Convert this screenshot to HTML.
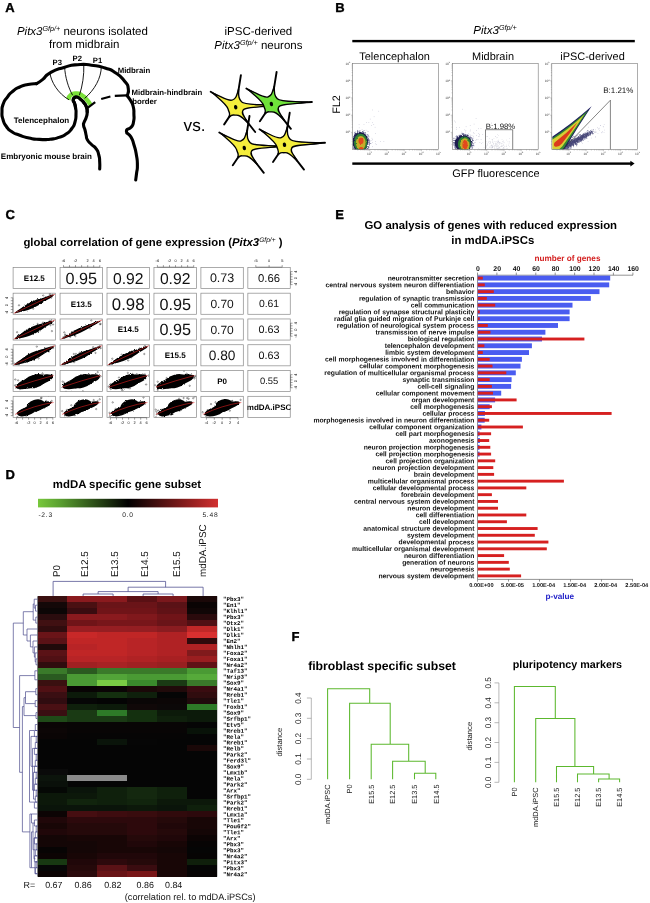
<!DOCTYPE html>
<html lang="en"><head><meta charset="utf-8"><title>Figure</title>
<style>
html,body{margin:0;padding:0;background:#fff;}
body{width:650px;height:903px;overflow:hidden;}
svg{display:block;font-family:"Liberation Sans",sans-serif;text-rendering:geometricPrecision;}
</style></head><body>
<svg width="650" height="903" viewBox="0 0 650 903">
<rect x="0" y="0" width="650" height="903" fill="#fff"/>
<g id="panelA">
<text x="5.30" y="11.90" font-size="13" font-weight="bold" stroke="#000" stroke-width="0.35">A</text>
<text x="82.4" y="35" font-size="11.5" text-anchor="middle"><tspan font-style="italic">Pitx3</tspan><tspan font-style="italic" font-size="7.2" dy="-3.7">Gfp/+</tspan><tspan dy="3.7"> neurons isolated</tspan></text>
<text x="84.20" y="47.80" font-size="11.5" text-anchor="middle">from midbrain</text>
<g fill="none" stroke="#000" stroke-width="3.1" stroke-linecap="round" stroke-linejoin="round">
<path d="M36.5 83.6 C38.5 82.3 37.8 83.3 42.5 79.6 C47.2 75.9 43.3 76.7 50.5 72.6 C57.7 68.5 55.0 70.0 64.0 67.4 C73.0 64.8 68.4 65.4 77.5 64.7 C86.6 64.0 82.2 64.1 91.4 65.2 C100.6 66.3 96.9 65.4 105.0 68.0 C113.1 70.6 109.3 68.6 115.8 73.0 C122.3 77.4 120.4 76.0 124.6 81.2 C128.8 86.4 127.4 83.8 128.3 88.6 C129.2 93.4 127.6 93.3 127.2 95.6 "/>
<path d="M127.2 95.6 C128.3 97.3 128.6 97.0 130.6 100.6 C132.6 104.2 132.1 102.0 133.2 106.5 C134.3 111.0 133.8 109.0 133.9 114.0 C134.0 119.0 134.5 117.2 133.6 121.5 C132.7 125.8 133.7 123.8 131.3 127.0 C128.9 130.2 126.5 127.9 126.4 131.2 C126.3 134.5 128.5 132.4 131.0 137.0 C133.5 141.6 132.2 139.0 134.0 145.0 C135.8 151.0 135.3 148.3 136.4 155.0 C137.5 161.7 137.3 159.0 137.4 165.0 C137.5 171.0 137.2 168.0 136.6 173.0 C136.0 178.0 136.0 177.7 135.7 180.0 "/>
<path d="M36.5 83.6 C33.7 83.9 33.6 83.3 28.0 84.4 C22.4 85.5 24.9 84.6 19.7 87.0 C14.5 89.4 16.7 88.1 12.5 91.5 C8.3 94.9 10.3 93.1 7.2 97.3 C4.1 101.5 4.9 99.2 3.2 104.0 C1.5 108.8 2.1 106.5 2.0 111.7 C1.9 116.9 1.5 114.6 3.0 119.5 C4.5 124.4 3.4 122.4 6.4 126.5 C9.4 130.6 7.6 128.9 12.0 131.8 C16.4 134.7 14.0 133.2 19.7 135.3 C25.4 137.4 22.4 136.6 29.0 138.0 C35.6 139.4 32.4 139.0 39.4 139.4 C46.4 139.8 43.5 139.9 50.0 139.2 C56.5 138.5 53.5 139.2 59.0 137.4 C64.5 135.6 62.2 136.8 66.5 133.8 C70.8 130.8 69.0 132.4 71.8 128.5 C74.6 124.6 73.6 126.8 75.0 122.0 C76.4 117.2 75.8 118.7 76.0 114.0 C76.2 109.3 76.1 111.5 75.6 108.0 C75.1 104.5 75.4 106.1 74.6 103.5 C73.8 100.9 73.3 102.2 73.2 100.3 C73.1 98.4 73.1 98.9 74.4 97.8 C75.7 96.7 75.0 96.5 77.2 97.1 C79.4 97.7 78.6 97.7 80.9 99.6 C83.2 101.5 82.2 100.3 84.0 102.8 C85.8 105.3 85.3 103.9 86.4 107.0 C87.5 110.1 87.3 108.5 87.2 112.0 C87.1 115.5 87.2 114.2 86.2 117.5 C85.2 120.8 85.1 119.3 84.2 122.0 C83.3 124.7 83.3 122.8 83.6 125.5 C83.9 128.2 84.1 126.7 85.0 130.0 C85.9 133.3 85.4 132.2 86.2 135.5 C87.0 138.8 85.7 137.0 87.5 140.0 C89.3 143.0 88.6 141.6 91.5 144.5 C94.4 147.4 93.8 145.3 96.2 148.8 C98.6 152.3 97.6 150.6 98.8 155.0 C100.0 159.4 99.4 157.3 99.7 162.0 C100.0 166.7 99.7 166.7 99.7 169.0 "/>
</g>
<path d="M68.4 99.6 C69.1 98.1 68.0 97.2 70.6 95.2 C73.2 93.2 72.3 93.4 76.2 93.5 C80.1 93.6 78.6 93.4 82.2 95.6 C85.8 97.8 84.2 96.9 87.0 100.0 C89.8 103.1 89.4 103.2 90.6 104.8 " fill="none" stroke="#7be03a" stroke-width="4.4" stroke-linecap="butt"/>
<path d="M75.6 108.0 C75.3 106.5 75.4 106.1 74.6 103.5 C73.8 100.9 73.3 102.2 73.2 100.3 C73.1 98.4 73.1 98.9 74.4 97.8 C75.7 96.7 75.0 96.5 77.2 97.1 C79.4 97.7 78.6 97.7 80.9 99.6 C83.2 101.5 82.2 100.3 84.0 102.8 C85.8 105.3 85.3 103.9 86.4 107.0 C87.5 110.1 86.9 110.3 87.2 112.0 " fill="none" stroke="#000" stroke-width="3.1" stroke-linecap="round"/>
<path d="M87.6 107.8 L95.2 102.2" stroke="#000" stroke-width="2.2" fill="none"/>
<path d="M101.2 98.9 L110.4 96.5 M114.8 95.9 L126.5 95.4" stroke="#000" stroke-width="2.1" fill="none"/>
<g fill="none" stroke="#000" stroke-width="0.9">
<path d="M49.8 72.3 C51 82 58 93.5 69 99.8"/>
<path d="M64.6 66.5 C65 77 68.5 88 72.6 95.2"/>
<path d="M83.8 64.5 C84.2 75 82.5 86 79.4 95.2"/>
<path d="M101.3 66.5 C101.3 78 94.5 90 84.6 98.4"/>
</g>
<text x="52.60" y="65.20" font-size="7.7" font-weight="bold">P3</text>
<text x="72.60" y="61.30" font-size="7.7" font-weight="bold">P2</text>
<text x="92.80" y="63.20" font-size="7.7" font-weight="bold">P1</text>
<text x="117.70" y="72.60" font-size="7.8" font-weight="bold">Midbrain</text>
<text x="131.60" y="94.60" font-size="7.8" font-weight="bold">Midbrain-hindbrain</text>
<text x="132.20" y="103.80" font-size="7.8" font-weight="bold">border</text>
<text x="13.80" y="122.60" font-size="8" font-weight="bold">Telencephalon</text>
<text x="0.80" y="158.60" font-size="8" font-weight="bold">Embryonic mouse brain</text>
<text x="258.40" y="34.80" font-size="11.5" text-anchor="middle">iPSC-derived</text>
<text x="258.4" y="48.6" font-size="11.5" text-anchor="middle"><tspan font-style="italic">Pitx3</tspan><tspan font-style="italic" font-size="7.2" dy="-3.7">Gfp/+</tspan><tspan dy="3.7"> neurons</tspan></text>
<text x="183.60" y="130.80" font-size="17.2">vs.</text>
<path d="M228.2 102.5 L210.7 91.7 M237.3 97.6 L240.9 75.2 M247.8 106.6 L276.2 105.2 M241.5 114.6 L255.2 132.0 M232.2 112.4 L224.2 124.4 " fill="none" stroke="#000" stroke-width="1.9" stroke-linecap="round"/>
<path d="M212.4 92.8 C222.9 97.2 228.6 101.8 232.4 100.0 C236.2 98.3 236.3 96.5 238.6 89.3 C238.5 96.8 238.8 98.8 241.6 101.9 C244.4 105.1 257.1 104.3 272.1 105.4 C257.3 107.9 244.6 106.7 242.9 110.5 C241.1 114.3 244.4 116.0 248.6 123.6 C242.2 117.7 240.2 114.9 236.0 115.1 C231.8 115.3 232.8 113.8 229.0 117.2 C230.7 112.4 228.9 113.0 228.0 108.9 C227.1 104.8 221.0 100.2 212.4 92.8 Z" fill="#f5ee3c" stroke="#000" stroke-width="1.35" stroke-linejoin="round"/>
<ellipse cx="235.7" cy="107.2" rx="1.7" ry="2.3" fill="#000" transform="rotate(-12 235.7 107.2)"/>
<path d="M263.9 99.3 L246.4 88.5 M273.0 94.4 L276.6 72.0 M283.5 103.4 L311.9 102.0 M277.2 111.4 L290.9 128.8 M267.9 109.2 L259.9 121.2 " fill="none" stroke="#000" stroke-width="1.9" stroke-linecap="round"/>
<path d="M248.1 89.6 C258.6 94.0 264.3 98.6 268.1 96.8 C271.9 95.1 272.0 93.3 274.3 86.1 C274.2 93.6 274.5 95.6 277.3 98.7 C280.1 101.9 292.8 101.1 307.8 102.2 C293.0 104.7 280.3 103.5 278.6 107.3 C276.8 111.1 280.1 112.8 284.3 120.4 C277.9 114.5 275.9 111.7 271.7 111.9 C267.5 112.1 268.5 110.6 264.7 114.0 C266.4 109.2 264.6 109.8 263.7 105.7 C262.8 101.6 256.7 97.0 248.1 89.6 Z" fill="#6fe23a" stroke="#000" stroke-width="1.35" stroke-linejoin="round"/>
<ellipse cx="271.4" cy="104.0" rx="1.7" ry="2.3" fill="#000" transform="rotate(-12 271.4 104.0)"/>
<path d="M236.8 143.3 L219.3 132.5 M245.9 138.4 L249.5 116.0 M256.4 147.4 L284.8 146.0 M250.2 155.4 L263.8 172.8 M240.9 153.2 L232.8 165.2 " fill="none" stroke="#000" stroke-width="1.9" stroke-linecap="round"/>
<path d="M221.1 133.6 C231.5 138.0 237.2 142.6 241.0 140.8 C244.8 139.1 244.9 137.3 247.2 130.1 C247.1 137.6 247.4 139.6 250.2 142.7 C253.0 145.9 265.7 145.1 280.8 146.2 C265.9 148.7 253.2 147.5 251.5 151.3 C249.7 155.1 253.0 156.8 257.2 164.4 C250.8 158.5 248.8 155.7 244.6 155.9 C240.4 156.1 241.4 154.6 237.6 158.0 C239.3 153.2 237.5 153.8 236.6 149.7 C235.7 145.6 229.6 141.0 221.1 133.6 Z" fill="#f5ee3c" stroke="#000" stroke-width="1.35" stroke-linejoin="round"/>
<ellipse cx="244.3" cy="148.0" rx="1.7" ry="2.3" fill="#000" transform="rotate(-12 244.3 148.0)"/>
<path d="M277.0 140.2 L259.5 129.3 M286.1 135.2 L289.7 112.8 M296.6 144.2 L325.0 142.8 M290.4 152.2 L304.0 169.6 M281.1 150.0 L273.0 162.0 " fill="none" stroke="#000" stroke-width="1.9" stroke-linecap="round"/>
<path d="M261.2 130.4 C271.7 134.8 277.4 139.4 281.2 137.6 C285.0 135.9 285.1 134.1 287.4 126.9 C287.3 134.4 287.6 136.4 290.4 139.5 C293.2 142.7 305.9 141.9 320.9 143.0 C306.1 145.5 293.4 144.3 291.7 148.1 C289.9 151.9 293.2 153.6 297.4 161.2 C291.0 155.3 289.0 152.5 284.8 152.7 C280.6 152.9 281.6 151.4 277.8 154.8 C279.5 150.0 277.7 150.6 276.8 146.5 C275.9 142.4 269.8 137.8 261.2 130.4 Z" fill="#f5ee3c" stroke="#000" stroke-width="1.35" stroke-linejoin="round"/>
<ellipse cx="284.5" cy="144.8" rx="1.7" ry="2.3" fill="#000" transform="rotate(-12 284.5 144.8)"/>
</g>
<g id="panelB">
<defs><filter id="bl1" x="-30%" y="-30%" width="160%" height="160%"><feTurbulence type="fractalNoise" baseFrequency="0.55" numOctaves="2" seed="3" result="n"/><feDisplacementMap in="SourceGraphic" in2="n" scale="2.6" xChannelSelector="R" yChannelSelector="G"/><feGaussianBlur stdDeviation="0.45"/></filter><filter id="bl2" x="-30%" y="-30%" width="160%" height="160%"><feTurbulence type="fractalNoise" baseFrequency="0.6" numOctaves="2" seed="8" result="n"/><feDisplacementMap in="SourceGraphic" in2="n" scale="2.2" xChannelSelector="R" yChannelSelector="G"/><feGaussianBlur stdDeviation="0.5"/></filter><filter id="bl3" x="-30%" y="-30%" width="160%" height="160%"><feGaussianBlur stdDeviation="1.6"/></filter><clipPath id="cp1"><rect x="353" y="64" width="85" height="85.5"/></clipPath><clipPath id="cp2"><rect x="453" y="64" width="85" height="85.5"/></clipPath><clipPath id="cp3"><rect x="552.3" y="64" width="85" height="85.5"/></clipPath></defs>
<text x="335.20" y="11.70" font-size="13" font-weight="bold" stroke="#000" stroke-width="0.35">B</text>
<text x="495.0" y="34.0" font-size="11.6" text-anchor="middle" font-style="italic">Pitx3<tspan font-size="7.2" dy="-3.7">Gfp/+</tspan></text>
<rect x="352.3" y="39.9" width="282.5" height="2.4" fill="#000"/>
<text x="394.60" y="60.20" font-size="10.95" text-anchor="middle">Telencephalon</text>
<text x="493.00" y="60.20" font-size="10.95" text-anchor="middle">Midbrain</text>
<text x="592.50" y="59.60" font-size="10.95" text-anchor="middle">iPSC-derived</text>
<text x="339.60" y="104.50" font-size="10.8" text-anchor="middle" transform="rotate(-90 339.60 104.50)">FL2</text>
<text x="495.90" y="176.70" font-size="10.95" text-anchor="middle">GFP fluorescence</text>
<rect x="352.3" y="162.4" width="279" height="2.4" fill="#000"/>
<path d="M630.4 160.7 L634.6 163.6 L630.4 166.5 Z" fill="#000"/>
<g stroke="#888" stroke-width="0.4" fill="none"><path d="M351.7 144.4 H352.6"/><path d="M351.7 141.4 H352.6"/><path d="M351.7 139.2 H352.6"/><path d="M351.7 137.6 H352.6"/><path d="M351.7 136.2 H352.6"/><path d="M351.7 135.0 H352.6"/><path d="M351.7 134.0 H352.6"/><path d="M351.7 133.2 H352.6"/><path d="M357.8 149.6 V150.5"/><path d="M360.8 149.6 V150.5"/><path d="M363.0 149.6 V150.5"/><path d="M364.6 149.6 V150.5"/><path d="M366.0 149.6 V150.5"/><path d="M367.2 149.6 V150.5"/><path d="M368.2 149.6 V150.5"/><path d="M369.0 149.6 V150.5"/><path d="M350.9 132.4 H352.6"/><path d="M351.7 127.2 H352.6"/><path d="M351.7 124.2 H352.6"/><path d="M351.7 122.0 H352.6"/><path d="M351.7 120.3 H352.6"/><path d="M351.7 119.0 H352.6"/><path d="M351.7 117.8 H352.6"/><path d="M351.7 116.8 H352.6"/><path d="M351.7 115.9 H352.6"/><path d="M369.8 149.6 V151.3"/><path d="M375.0 149.6 V150.5"/><path d="M378.0 149.6 V150.5"/><path d="M380.2 149.6 V150.5"/><path d="M381.9 149.6 V150.5"/><path d="M383.2 149.6 V150.5"/><path d="M384.4 149.6 V150.5"/><path d="M385.4 149.6 V150.5"/><path d="M386.3 149.6 V150.5"/><path d="M350.9 115.2 H352.6"/><path d="M351.7 110.0 H352.6"/><path d="M351.7 106.9 H352.6"/><path d="M351.7 104.8 H352.6"/><path d="M351.7 103.1 H352.6"/><path d="M351.7 101.8 H352.6"/><path d="M351.7 100.6 H352.6"/><path d="M351.7 99.6 H352.6"/><path d="M351.7 98.7 H352.6"/><path d="M387.0 149.6 V151.3"/><path d="M392.2 149.6 V150.5"/><path d="M395.3 149.6 V150.5"/><path d="M397.4 149.6 V150.5"/><path d="M399.1 149.6 V150.5"/><path d="M400.4 149.6 V150.5"/><path d="M401.6 149.6 V150.5"/><path d="M402.6 149.6 V150.5"/><path d="M403.5 149.6 V150.5"/><path d="M350.9 97.9 H352.6"/><path d="M351.7 92.8 H352.6"/><path d="M351.7 89.7 H352.6"/><path d="M351.7 87.6 H352.6"/><path d="M351.7 85.9 H352.6"/><path d="M351.7 84.5 H352.6"/><path d="M351.7 83.4 H352.6"/><path d="M351.7 82.4 H352.6"/><path d="M351.7 81.5 H352.6"/><path d="M404.3 149.6 V151.3"/><path d="M409.4 149.6 V150.5"/><path d="M412.5 149.6 V150.5"/><path d="M414.6 149.6 V150.5"/><path d="M416.3 149.6 V150.5"/><path d="M417.7 149.6 V150.5"/><path d="M418.8 149.6 V150.5"/><path d="M419.8 149.6 V150.5"/><path d="M420.7 149.6 V150.5"/><path d="M350.9 80.7 H352.6"/><path d="M351.7 75.5 H352.6"/><path d="M351.7 72.5 H352.6"/><path d="M351.7 70.4 H352.6"/><path d="M351.7 68.7 H352.6"/><path d="M351.7 67.3 H352.6"/><path d="M351.7 66.2 H352.6"/><path d="M351.7 65.2 H352.6"/><path d="M351.7 64.3 H352.6"/><path d="M421.5 149.6 V151.3"/><path d="M426.7 149.6 V150.5"/><path d="M429.7 149.6 V150.5"/><path d="M431.8 149.6 V150.5"/><path d="M433.5 149.6 V150.5"/><path d="M434.9 149.6 V150.5"/><path d="M436.0 149.6 V150.5"/><path d="M437.0 149.6 V150.5"/><path d="M437.9 149.6 V150.5"/></g>
<text x="350.3" y="133.4" font-size="3.2" text-anchor="end" fill="#444">10<tspan font-size="2.3" dy="-1.2">1</tspan></text>
<text x="369.4" y="154.5" font-size="3.2" text-anchor="middle" fill="#444">10<tspan font-size="2.3" dy="-1.2">1</tspan></text>
<text x="350.3" y="116.2" font-size="3.2" text-anchor="end" fill="#444">10<tspan font-size="2.3" dy="-1.2">2</tspan></text>
<text x="386.6" y="154.5" font-size="3.2" text-anchor="middle" fill="#444">10<tspan font-size="2.3" dy="-1.2">2</tspan></text>
<text x="350.3" y="98.9" font-size="3.2" text-anchor="end" fill="#444">10<tspan font-size="2.3" dy="-1.2">3</tspan></text>
<text x="403.9" y="154.5" font-size="3.2" text-anchor="middle" fill="#444">10<tspan font-size="2.3" dy="-1.2">3</tspan></text>
<text x="350.3" y="81.7" font-size="3.2" text-anchor="end" fill="#444">10<tspan font-size="2.3" dy="-1.2">4</tspan></text>
<text x="421.1" y="154.5" font-size="3.2" text-anchor="middle" fill="#444">10<tspan font-size="2.3" dy="-1.2">4</tspan></text>
<text x="350.3" y="64.5" font-size="3.2" text-anchor="end" fill="#444">10<tspan font-size="2.3" dy="-1.2">5</tspan></text>
<text x="438.3" y="154.5" font-size="3.2" text-anchor="middle" fill="#444">10<tspan font-size="2.3" dy="-1.2">5</tspan></text>
<g stroke="#888" stroke-width="0.4" fill="none"><path d="M451.5 144.4 H452.4"/><path d="M451.5 141.4 H452.4"/><path d="M451.5 139.2 H452.4"/><path d="M451.5 137.6 H452.4"/><path d="M451.5 136.2 H452.4"/><path d="M451.5 135.0 H452.4"/><path d="M451.5 134.0 H452.4"/><path d="M451.5 133.2 H452.4"/><path d="M457.6 149.6 V150.5"/><path d="M460.6 149.6 V150.5"/><path d="M462.8 149.6 V150.5"/><path d="M464.4 149.6 V150.5"/><path d="M465.8 149.6 V150.5"/><path d="M467.0 149.6 V150.5"/><path d="M468.0 149.6 V150.5"/><path d="M468.8 149.6 V150.5"/><path d="M450.7 132.4 H452.4"/><path d="M451.5 127.2 H452.4"/><path d="M451.5 124.2 H452.4"/><path d="M451.5 122.0 H452.4"/><path d="M451.5 120.3 H452.4"/><path d="M451.5 119.0 H452.4"/><path d="M451.5 117.8 H452.4"/><path d="M451.5 116.8 H452.4"/><path d="M451.5 115.9 H452.4"/><path d="M469.6 149.6 V151.3"/><path d="M474.8 149.6 V150.5"/><path d="M477.8 149.6 V150.5"/><path d="M480.0 149.6 V150.5"/><path d="M481.7 149.6 V150.5"/><path d="M483.0 149.6 V150.5"/><path d="M484.2 149.6 V150.5"/><path d="M485.2 149.6 V150.5"/><path d="M486.1 149.6 V150.5"/><path d="M450.7 115.2 H452.4"/><path d="M451.5 110.0 H452.4"/><path d="M451.5 106.9 H452.4"/><path d="M451.5 104.8 H452.4"/><path d="M451.5 103.1 H452.4"/><path d="M451.5 101.8 H452.4"/><path d="M451.5 100.6 H452.4"/><path d="M451.5 99.6 H452.4"/><path d="M451.5 98.7 H452.4"/><path d="M486.8 149.6 V151.3"/><path d="M492.0 149.6 V150.5"/><path d="M495.1 149.6 V150.5"/><path d="M497.2 149.6 V150.5"/><path d="M498.9 149.6 V150.5"/><path d="M500.2 149.6 V150.5"/><path d="M501.4 149.6 V150.5"/><path d="M502.4 149.6 V150.5"/><path d="M503.3 149.6 V150.5"/><path d="M450.7 97.9 H452.4"/><path d="M451.5 92.8 H452.4"/><path d="M451.5 89.7 H452.4"/><path d="M451.5 87.6 H452.4"/><path d="M451.5 85.9 H452.4"/><path d="M451.5 84.5 H452.4"/><path d="M451.5 83.4 H452.4"/><path d="M451.5 82.4 H452.4"/><path d="M451.5 81.5 H452.4"/><path d="M504.1 149.6 V151.3"/><path d="M509.2 149.6 V150.5"/><path d="M512.3 149.6 V150.5"/><path d="M514.4 149.6 V150.5"/><path d="M516.1 149.6 V150.5"/><path d="M517.5 149.6 V150.5"/><path d="M518.6 149.6 V150.5"/><path d="M519.6 149.6 V150.5"/><path d="M520.5 149.6 V150.5"/><path d="M450.7 80.7 H452.4"/><path d="M451.5 75.5 H452.4"/><path d="M451.5 72.5 H452.4"/><path d="M451.5 70.4 H452.4"/><path d="M451.5 68.7 H452.4"/><path d="M451.5 67.3 H452.4"/><path d="M451.5 66.2 H452.4"/><path d="M451.5 65.2 H452.4"/><path d="M451.5 64.3 H452.4"/><path d="M521.3 149.6 V151.3"/><path d="M526.5 149.6 V150.5"/><path d="M529.5 149.6 V150.5"/><path d="M531.6 149.6 V150.5"/><path d="M533.3 149.6 V150.5"/><path d="M534.7 149.6 V150.5"/><path d="M535.8 149.6 V150.5"/><path d="M536.8 149.6 V150.5"/><path d="M537.7 149.6 V150.5"/></g>
<text x="450.1" y="133.4" font-size="3.2" text-anchor="end" fill="#444">10<tspan font-size="2.3" dy="-1.2">1</tspan></text>
<text x="469.2" y="154.5" font-size="3.2" text-anchor="middle" fill="#444">10<tspan font-size="2.3" dy="-1.2">1</tspan></text>
<text x="450.1" y="116.2" font-size="3.2" text-anchor="end" fill="#444">10<tspan font-size="2.3" dy="-1.2">2</tspan></text>
<text x="486.4" y="154.5" font-size="3.2" text-anchor="middle" fill="#444">10<tspan font-size="2.3" dy="-1.2">2</tspan></text>
<text x="450.1" y="98.9" font-size="3.2" text-anchor="end" fill="#444">10<tspan font-size="2.3" dy="-1.2">3</tspan></text>
<text x="503.7" y="154.5" font-size="3.2" text-anchor="middle" fill="#444">10<tspan font-size="2.3" dy="-1.2">3</tspan></text>
<text x="450.1" y="81.7" font-size="3.2" text-anchor="end" fill="#444">10<tspan font-size="2.3" dy="-1.2">4</tspan></text>
<text x="520.9" y="154.5" font-size="3.2" text-anchor="middle" fill="#444">10<tspan font-size="2.3" dy="-1.2">4</tspan></text>
<text x="450.1" y="64.5" font-size="3.2" text-anchor="end" fill="#444">10<tspan font-size="2.3" dy="-1.2">5</tspan></text>
<text x="538.1" y="154.5" font-size="3.2" text-anchor="middle" fill="#444">10<tspan font-size="2.3" dy="-1.2">5</tspan></text>
<g stroke="#888" stroke-width="0.4" fill="none"><path d="M550.9 144.4 H551.8"/><path d="M550.9 141.4 H551.8"/><path d="M550.9 139.2 H551.8"/><path d="M550.9 137.6 H551.8"/><path d="M550.9 136.2 H551.8"/><path d="M550.9 135.0 H551.8"/><path d="M550.9 134.0 H551.8"/><path d="M550.9 133.2 H551.8"/><path d="M557.0 149.6 V150.5"/><path d="M560.0 149.6 V150.5"/><path d="M562.2 149.6 V150.5"/><path d="M563.8 149.6 V150.5"/><path d="M565.2 149.6 V150.5"/><path d="M566.4 149.6 V150.5"/><path d="M567.4 149.6 V150.5"/><path d="M568.2 149.6 V150.5"/><path d="M550.1 132.4 H551.8"/><path d="M550.9 127.2 H551.8"/><path d="M550.9 124.2 H551.8"/><path d="M550.9 122.0 H551.8"/><path d="M550.9 120.3 H551.8"/><path d="M550.9 119.0 H551.8"/><path d="M550.9 117.8 H551.8"/><path d="M550.9 116.8 H551.8"/><path d="M550.9 115.9 H551.8"/><path d="M569.0 149.6 V151.3"/><path d="M574.2 149.6 V150.5"/><path d="M577.2 149.6 V150.5"/><path d="M579.4 149.6 V150.5"/><path d="M581.1 149.6 V150.5"/><path d="M582.4 149.6 V150.5"/><path d="M583.6 149.6 V150.5"/><path d="M584.6 149.6 V150.5"/><path d="M585.5 149.6 V150.5"/><path d="M550.1 115.2 H551.8"/><path d="M550.9 110.0 H551.8"/><path d="M550.9 106.9 H551.8"/><path d="M550.9 104.8 H551.8"/><path d="M550.9 103.1 H551.8"/><path d="M550.9 101.8 H551.8"/><path d="M550.9 100.6 H551.8"/><path d="M550.9 99.6 H551.8"/><path d="M550.9 98.7 H551.8"/><path d="M586.2 149.6 V151.3"/><path d="M591.4 149.6 V150.5"/><path d="M594.5 149.6 V150.5"/><path d="M596.6 149.6 V150.5"/><path d="M598.3 149.6 V150.5"/><path d="M599.6 149.6 V150.5"/><path d="M600.8 149.6 V150.5"/><path d="M601.8 149.6 V150.5"/><path d="M602.7 149.6 V150.5"/><path d="M550.1 97.9 H551.8"/><path d="M550.9 92.8 H551.8"/><path d="M550.9 89.7 H551.8"/><path d="M550.9 87.6 H551.8"/><path d="M550.9 85.9 H551.8"/><path d="M550.9 84.5 H551.8"/><path d="M550.9 83.4 H551.8"/><path d="M550.9 82.4 H551.8"/><path d="M550.9 81.5 H551.8"/><path d="M603.5 149.6 V151.3"/><path d="M608.6 149.6 V150.5"/><path d="M611.7 149.6 V150.5"/><path d="M613.8 149.6 V150.5"/><path d="M615.5 149.6 V150.5"/><path d="M616.9 149.6 V150.5"/><path d="M618.0 149.6 V150.5"/><path d="M619.0 149.6 V150.5"/><path d="M619.9 149.6 V150.5"/><path d="M550.1 80.7 H551.8"/><path d="M550.9 75.5 H551.8"/><path d="M550.9 72.5 H551.8"/><path d="M550.9 70.4 H551.8"/><path d="M550.9 68.7 H551.8"/><path d="M550.9 67.3 H551.8"/><path d="M550.9 66.2 H551.8"/><path d="M550.9 65.2 H551.8"/><path d="M550.9 64.3 H551.8"/><path d="M620.7 149.6 V151.3"/><path d="M625.9 149.6 V150.5"/><path d="M628.9 149.6 V150.5"/><path d="M631.0 149.6 V150.5"/><path d="M632.7 149.6 V150.5"/><path d="M634.1 149.6 V150.5"/><path d="M635.2 149.6 V150.5"/><path d="M636.2 149.6 V150.5"/><path d="M637.1 149.6 V150.5"/></g>
<text x="549.5" y="133.4" font-size="3.2" text-anchor="end" fill="#444">10<tspan font-size="2.3" dy="-1.2">1</tspan></text>
<text x="568.6" y="154.5" font-size="3.2" text-anchor="middle" fill="#444">10<tspan font-size="2.3" dy="-1.2">1</tspan></text>
<text x="549.5" y="116.2" font-size="3.2" text-anchor="end" fill="#444">10<tspan font-size="2.3" dy="-1.2">2</tspan></text>
<text x="585.8" y="154.5" font-size="3.2" text-anchor="middle" fill="#444">10<tspan font-size="2.3" dy="-1.2">2</tspan></text>
<text x="549.5" y="98.9" font-size="3.2" text-anchor="end" fill="#444">10<tspan font-size="2.3" dy="-1.2">3</tspan></text>
<text x="603.1" y="154.5" font-size="3.2" text-anchor="middle" fill="#444">10<tspan font-size="2.3" dy="-1.2">3</tspan></text>
<text x="549.5" y="81.7" font-size="3.2" text-anchor="end" fill="#444">10<tspan font-size="2.3" dy="-1.2">4</tspan></text>
<text x="620.3" y="154.5" font-size="3.2" text-anchor="middle" fill="#444">10<tspan font-size="2.3" dy="-1.2">4</tspan></text>
<text x="549.5" y="64.5" font-size="3.2" text-anchor="end" fill="#444">10<tspan font-size="2.3" dy="-1.2">5</tspan></text>
<text x="637.5" y="154.5" font-size="3.2" text-anchor="middle" fill="#444">10<tspan font-size="2.3" dy="-1.2">5</tspan></text>
<g clip-path="url(#cp1)">
<g fill="#7a7a9c" opacity="0.75"><rect x="360.5" y="142.9" width="0.55" height="0.55"/><rect x="360.8" y="134.3" width="0.55" height="0.55"/><rect x="354.7" y="135.4" width="0.55" height="0.55"/><rect x="372.3" y="142.0" width="0.55" height="0.55"/><rect x="371.6" y="140.2" width="0.55" height="0.55"/><rect x="366.1" y="139.5" width="0.55" height="0.55"/><rect x="348.4" y="146.5" width="0.55" height="0.55"/><rect x="367.1" y="142.8" width="0.55" height="0.55"/><rect x="348.2" y="119.5" width="0.55" height="0.55"/><rect x="355.0" y="132.7" width="0.55" height="0.55"/><rect x="365.3" y="137.1" width="0.55" height="0.55"/><rect x="367.2" y="130.9" width="0.55" height="0.55"/><rect x="365.4" y="141.7" width="0.55" height="0.55"/><rect x="357.0" y="155.5" width="0.55" height="0.55"/><rect x="367.5" y="150.0" width="0.55" height="0.55"/><rect x="357.4" y="129.9" width="0.55" height="0.55"/><rect x="359.7" y="136.5" width="0.55" height="0.55"/><rect x="368.1" y="140.2" width="0.55" height="0.55"/><rect x="358.9" y="127.6" width="0.55" height="0.55"/><rect x="358.2" y="150.3" width="0.55" height="0.55"/><rect x="355.8" y="140.1" width="0.55" height="0.55"/><rect x="366.4" y="122.1" width="0.55" height="0.55"/><rect x="363.1" y="151.2" width="0.55" height="0.55"/><rect x="345.4" y="134.3" width="0.55" height="0.55"/><rect x="361.8" y="129.1" width="0.55" height="0.55"/><rect x="367.0" y="137.0" width="0.55" height="0.55"/><rect x="350.1" y="146.2" width="0.55" height="0.55"/><rect x="368.5" y="147.4" width="0.55" height="0.55"/><rect x="375.1" y="141.4" width="0.55" height="0.55"/><rect x="363.7" y="124.1" width="0.55" height="0.55"/><rect x="368.0" y="131.2" width="0.55" height="0.55"/><rect x="358.8" y="124.4" width="0.55" height="0.55"/><rect x="354.4" y="132.1" width="0.55" height="0.55"/><rect x="373.8" y="116.5" width="0.55" height="0.55"/><rect x="350.2" y="140.1" width="0.55" height="0.55"/><rect x="375.1" y="143.6" width="0.55" height="0.55"/><rect x="346.4" y="111.4" width="0.55" height="0.55"/><rect x="365.8" y="129.9" width="0.55" height="0.55"/><rect x="353.1" y="147.8" width="0.55" height="0.55"/><rect x="372.2" y="139.2" width="0.55" height="0.55"/><rect x="364.8" y="142.1" width="0.55" height="0.55"/><rect x="376.4" y="144.0" width="0.55" height="0.55"/><rect x="367.2" y="143.3" width="0.55" height="0.55"/><rect x="349.2" y="150.9" width="0.55" height="0.55"/><rect x="370.9" y="143.1" width="0.55" height="0.55"/><rect x="345.7" y="131.0" width="0.55" height="0.55"/><rect x="369.9" y="118.8" width="0.55" height="0.55"/><rect x="361.1" y="148.2" width="0.55" height="0.55"/><rect x="351.4" y="154.3" width="0.55" height="0.55"/><rect x="367.4" y="136.0" width="0.55" height="0.55"/><rect x="365.5" y="144.4" width="0.55" height="0.55"/><rect x="363.7" y="149.5" width="0.55" height="0.55"/><rect x="357.0" y="133.3" width="0.55" height="0.55"/><rect x="371.7" y="137.9" width="0.55" height="0.55"/><rect x="355.1" y="147.4" width="0.55" height="0.55"/><rect x="375.3" y="133.0" width="0.55" height="0.55"/><rect x="350.8" y="136.2" width="0.55" height="0.55"/><rect x="361.4" y="134.5" width="0.55" height="0.55"/><rect x="374.8" y="126.9" width="0.55" height="0.55"/><rect x="373.5" y="124.4" width="0.55" height="0.55"/><rect x="355.9" y="144.2" width="0.55" height="0.55"/><rect x="372.4" y="146.5" width="0.55" height="0.55"/><rect x="365.7" y="139.1" width="0.55" height="0.55"/><rect x="364.0" y="143.6" width="0.55" height="0.55"/><rect x="361.2" y="140.5" width="0.55" height="0.55"/><rect x="367.6" y="137.6" width="0.55" height="0.55"/><rect x="369.3" y="143.5" width="0.55" height="0.55"/><rect x="380.0" y="141.0" width="0.55" height="0.55"/><rect x="359.0" y="133.7" width="0.55" height="0.55"/><rect x="362.6" y="147.2" width="0.55" height="0.55"/><rect x="359.8" y="141.6" width="0.55" height="0.55"/><rect x="378.5" y="110.9" width="0.55" height="0.55"/><rect x="353.0" y="140.1" width="0.55" height="0.55"/><rect x="366.1" y="140.1" width="0.55" height="0.55"/><rect x="359.0" y="144.4" width="0.55" height="0.55"/><rect x="365.1" y="132.2" width="0.55" height="0.55"/><rect x="383.6" y="141.3" width="0.55" height="0.55"/><rect x="357.9" y="136.6" width="0.55" height="0.55"/><rect x="360.8" y="136.9" width="0.55" height="0.55"/><rect x="339.2" y="132.5" width="0.55" height="0.55"/><rect x="371.4" y="125.4" width="0.55" height="0.55"/><rect x="362.1" y="147.5" width="0.55" height="0.55"/><rect x="370.1" y="153.1" width="0.55" height="0.55"/><rect x="348.1" y="133.9" width="0.55" height="0.55"/><rect x="359.8" y="144.1" width="0.55" height="0.55"/><rect x="372.1" y="109.7" width="0.55" height="0.55"/><rect x="372.1" y="122.5" width="0.55" height="0.55"/><rect x="368.6" y="122.1" width="0.55" height="0.55"/><rect x="364.2" y="150.0" width="0.55" height="0.55"/><rect x="361.4" y="139.6" width="0.55" height="0.55"/></g>
<g fill="#1e1e5e" opacity="0.8"><rect x="368.6" y="143.4" width="0.7" height="0.7"/><rect x="357.0" y="131.2" width="0.7" height="0.7"/><rect x="366.8" y="139.4" width="0.7" height="0.7"/><rect x="369.4" y="140.8" width="0.7" height="0.7"/><rect x="368.1" y="138.8" width="0.7" height="0.7"/><rect x="361.5" y="152.4" width="0.7" height="0.7"/><rect x="363.1" y="151.8" width="0.7" height="0.7"/><rect x="368.0" y="134.8" width="0.7" height="0.7"/><rect x="364.2" y="134.0" width="0.7" height="0.7"/><rect x="362.9" y="131.5" width="0.7" height="0.7"/><rect x="366.8" y="146.3" width="0.7" height="0.7"/><rect x="361.6" y="133.1" width="0.7" height="0.7"/><rect x="360.2" y="131.8" width="0.7" height="0.7"/><rect x="362.3" y="131.4" width="0.7" height="0.7"/><rect x="355.6" y="151.3" width="0.7" height="0.7"/><rect x="354.9" y="146.5" width="0.7" height="0.7"/><rect x="352.2" y="148.5" width="0.7" height="0.7"/><rect x="364.1" y="150.3" width="0.7" height="0.7"/><rect x="366.9" y="149.9" width="0.7" height="0.7"/><rect x="363.7" y="130.3" width="0.7" height="0.7"/><rect x="366.0" y="150.8" width="0.7" height="0.7"/><rect x="356.5" y="134.9" width="0.7" height="0.7"/><rect x="355.4" y="149.6" width="0.7" height="0.7"/><rect x="368.6" y="142.5" width="0.7" height="0.7"/><rect x="368.1" y="139.8" width="0.7" height="0.7"/><rect x="367.4" y="137.8" width="0.7" height="0.7"/><rect x="351.4" y="146.3" width="0.7" height="0.7"/><rect x="362.0" y="150.5" width="0.7" height="0.7"/><rect x="360.1" y="151.8" width="0.7" height="0.7"/><rect x="352.4" y="135.9" width="0.7" height="0.7"/><rect x="359.7" y="151.5" width="0.7" height="0.7"/><rect x="367.6" y="135.9" width="0.7" height="0.7"/><rect x="355.6" y="148.9" width="0.7" height="0.7"/><rect x="367.5" y="135.5" width="0.7" height="0.7"/><rect x="352.0" y="147.0" width="0.7" height="0.7"/><rect x="352.2" y="139.6" width="0.7" height="0.7"/><rect x="350.9" y="139.9" width="0.7" height="0.7"/><rect x="363.7" y="151.2" width="0.7" height="0.7"/><rect x="368.9" y="141.9" width="0.7" height="0.7"/><rect x="352.2" y="143.2" width="0.7" height="0.7"/><rect x="359.0" y="132.1" width="0.7" height="0.7"/><rect x="351.9" y="140.4" width="0.7" height="0.7"/><rect x="352.0" y="138.0" width="0.7" height="0.7"/><rect x="352.5" y="137.9" width="0.7" height="0.7"/><rect x="360.3" y="151.7" width="0.7" height="0.7"/><rect x="350.3" y="141.0" width="0.7" height="0.7"/><rect x="352.1" y="137.6" width="0.7" height="0.7"/><rect x="353.7" y="144.5" width="0.7" height="0.7"/><rect x="354.4" y="135.6" width="0.7" height="0.7"/><rect x="357.2" y="131.9" width="0.7" height="0.7"/><rect x="352.8" y="144.4" width="0.7" height="0.7"/><rect x="368.1" y="137.9" width="0.7" height="0.7"/><rect x="357.1" y="130.2" width="0.7" height="0.7"/><rect x="359.8" y="150.4" width="0.7" height="0.7"/><rect x="350.9" y="137.2" width="0.7" height="0.7"/><rect x="365.5" y="149.0" width="0.7" height="0.7"/><rect x="366.2" y="148.6" width="0.7" height="0.7"/><rect x="360.7" y="152.1" width="0.7" height="0.7"/><rect x="367.3" y="145.9" width="0.7" height="0.7"/><rect x="366.1" y="136.2" width="0.7" height="0.7"/><rect x="364.9" y="149.9" width="0.7" height="0.7"/><rect x="364.9" y="148.7" width="0.7" height="0.7"/><rect x="367.0" y="134.2" width="0.7" height="0.7"/><rect x="368.3" y="138.6" width="0.7" height="0.7"/><rect x="355.2" y="146.1" width="0.7" height="0.7"/><rect x="364.6" y="132.4" width="0.7" height="0.7"/><rect x="364.3" y="149.6" width="0.7" height="0.7"/><rect x="355.4" y="150.8" width="0.7" height="0.7"/><rect x="362.9" y="150.8" width="0.7" height="0.7"/><rect x="369.9" y="143.0" width="0.7" height="0.7"/><rect x="352.2" y="138.2" width="0.7" height="0.7"/><rect x="356.0" y="150.7" width="0.7" height="0.7"/><rect x="354.3" y="134.5" width="0.7" height="0.7"/><rect x="368.7" y="140.6" width="0.7" height="0.7"/><rect x="362.3" y="131.1" width="0.7" height="0.7"/><rect x="359.4" y="151.9" width="0.7" height="0.7"/><rect x="368.6" y="144.2" width="0.7" height="0.7"/><rect x="365.7" y="148.6" width="0.7" height="0.7"/><rect x="351.5" y="147.2" width="0.7" height="0.7"/><rect x="359.8" y="151.1" width="0.7" height="0.7"/><rect x="365.8" y="150.8" width="0.7" height="0.7"/><rect x="357.7" y="132.3" width="0.7" height="0.7"/><rect x="368.4" y="147.9" width="0.7" height="0.7"/><rect x="352.2" y="146.5" width="0.7" height="0.7"/><rect x="368.8" y="146.7" width="0.7" height="0.7"/><rect x="362.8" y="132.2" width="0.7" height="0.7"/><rect x="367.8" y="146.9" width="0.7" height="0.7"/><rect x="365.6" y="133.9" width="0.7" height="0.7"/><rect x="352.5" y="144.4" width="0.7" height="0.7"/><rect x="368.6" y="136.5" width="0.7" height="0.7"/><rect x="359.2" y="152.7" width="0.7" height="0.7"/><rect x="360.9" y="152.8" width="0.7" height="0.7"/><rect x="366.9" y="148.3" width="0.7" height="0.7"/><rect x="362.8" y="151.8" width="0.7" height="0.7"/><rect x="357.1" y="150.7" width="0.7" height="0.7"/><rect x="357.8" y="153.1" width="0.7" height="0.7"/><rect x="351.3" y="141.6" width="0.7" height="0.7"/><rect x="369.4" y="142.9" width="0.7" height="0.7"/><rect x="360.2" y="153.5" width="0.7" height="0.7"/><rect x="351.9" y="138.3" width="0.7" height="0.7"/><rect x="362.7" y="149.3" width="0.7" height="0.7"/><rect x="367.2" y="148.3" width="0.7" height="0.7"/><rect x="363.5" y="133.1" width="0.7" height="0.7"/><rect x="364.7" y="132.2" width="0.7" height="0.7"/><rect x="354.4" y="147.2" width="0.7" height="0.7"/><rect x="368.7" y="140.5" width="0.7" height="0.7"/><rect x="355.1" y="150.9" width="0.7" height="0.7"/><rect x="355.2" y="134.7" width="0.7" height="0.7"/><rect x="353.2" y="147.4" width="0.7" height="0.7"/><rect x="366.2" y="149.4" width="0.7" height="0.7"/><rect x="367.9" y="146.1" width="0.7" height="0.7"/><rect x="364.4" y="149.9" width="0.7" height="0.7"/><rect x="368.3" y="147.4" width="0.7" height="0.7"/><rect x="356.7" y="133.9" width="0.7" height="0.7"/><rect x="358.5" y="151.8" width="0.7" height="0.7"/><rect x="351.3" y="144.4" width="0.7" height="0.7"/><rect x="364.6" y="149.7" width="0.7" height="0.7"/><rect x="368.7" y="139.1" width="0.7" height="0.7"/><rect x="368.1" y="139.9" width="0.7" height="0.7"/><rect x="368.4" y="139.4" width="0.7" height="0.7"/><rect x="357.1" y="151.3" width="0.7" height="0.7"/><rect x="353.9" y="148.7" width="0.7" height="0.7"/><rect x="352.2" y="143.2" width="0.7" height="0.7"/><rect x="351.6" y="141.3" width="0.7" height="0.7"/><rect x="368.8" y="141.9" width="0.7" height="0.7"/><rect x="353.0" y="148.0" width="0.7" height="0.7"/><rect x="369.1" y="144.5" width="0.7" height="0.7"/><rect x="361.1" y="152.1" width="0.7" height="0.7"/><rect x="353.9" y="137.1" width="0.7" height="0.7"/><rect x="355.6" y="133.1" width="0.7" height="0.7"/><rect x="358.3" y="130.8" width="0.7" height="0.7"/><rect x="356.5" y="150.3" width="0.7" height="0.7"/><rect x="369.5" y="140.5" width="0.7" height="0.7"/><rect x="354.2" y="132.5" width="0.7" height="0.7"/><rect x="369.3" y="144.7" width="0.7" height="0.7"/><rect x="355.2" y="135.4" width="0.7" height="0.7"/><rect x="359.3" y="131.1" width="0.7" height="0.7"/><rect x="352.1" y="140.1" width="0.7" height="0.7"/><rect x="350.9" y="141.3" width="0.7" height="0.7"/><rect x="363.6" y="133.7" width="0.7" height="0.7"/><rect x="352.0" y="135.8" width="0.7" height="0.7"/><rect x="357.5" y="132.7" width="0.7" height="0.7"/><rect x="361.3" y="152.4" width="0.7" height="0.7"/><rect x="354.6" y="149.7" width="0.7" height="0.7"/><rect x="367.4" y="148.3" width="0.7" height="0.7"/><rect x="354.8" y="134.9" width="0.7" height="0.7"/><rect x="354.4" y="134.5" width="0.7" height="0.7"/><rect x="368.0" y="141.8" width="0.7" height="0.7"/><rect x="362.7" y="131.7" width="0.7" height="0.7"/><rect x="352.7" y="139.6" width="0.7" height="0.7"/><rect x="354.9" y="131.7" width="0.7" height="0.7"/><rect x="360.1" y="152.6" width="0.7" height="0.7"/><rect x="367.8" y="146.2" width="0.7" height="0.7"/><rect x="362.9" y="153.0" width="0.7" height="0.7"/><rect x="359.6" y="130.1" width="0.7" height="0.7"/><rect x="353.9" y="148.5" width="0.7" height="0.7"/><rect x="352.2" y="142.9" width="0.7" height="0.7"/><rect x="354.7" y="135.6" width="0.7" height="0.7"/><rect x="354.6" y="133.1" width="0.7" height="0.7"/><rect x="360.0" y="152.2" width="0.7" height="0.7"/></g>
<ellipse cx="360.2" cy="141.6" rx="8.0" ry="9.7" fill="#1c1c50" filter="url(#bl1)"/>
<ellipse cx="360.6" cy="142.2" rx="6.7" ry="8.5" fill="#2f8030" filter="url(#bl2)"/>
<ellipse cx="360.8" cy="142.8" rx="4.9" ry="6.9" fill="#c6ac2c" filter="url(#bl2)"/>
<ellipse cx="361.0" cy="140.9" rx="2.5" ry="3.1" fill="#e2481c" filter="url(#bl2)"/>
<ellipse cx="361.2" cy="148.4" rx="2.3" ry="1.5" fill="#e2481c" filter="url(#bl2)"/>
</g>
<g clip-path="url(#cp2)">
<g fill="#7a7a9c" opacity="0.75"><rect x="465.3" y="131.7" width="0.55" height="0.55"/><rect x="464.3" y="138.6" width="0.55" height="0.55"/><rect x="472.3" y="141.8" width="0.55" height="0.55"/><rect x="459.0" y="127.3" width="0.55" height="0.55"/><rect x="462.2" y="132.7" width="0.55" height="0.55"/><rect x="455.5" y="138.2" width="0.55" height="0.55"/><rect x="461.1" y="140.1" width="0.55" height="0.55"/><rect x="470.4" y="135.6" width="0.55" height="0.55"/><rect x="486.8" y="136.4" width="0.55" height="0.55"/><rect x="475.6" y="140.3" width="0.55" height="0.55"/><rect x="475.8" y="118.3" width="0.55" height="0.55"/><rect x="458.8" y="141.4" width="0.55" height="0.55"/><rect x="471.1" y="159.8" width="0.55" height="0.55"/><rect x="468.5" y="150.5" width="0.55" height="0.55"/><rect x="472.6" y="147.5" width="0.55" height="0.55"/><rect x="470.2" y="137.8" width="0.55" height="0.55"/><rect x="470.2" y="129.7" width="0.55" height="0.55"/><rect x="476.4" y="130.2" width="0.55" height="0.55"/><rect x="467.9" y="157.9" width="0.55" height="0.55"/><rect x="463.6" y="139.4" width="0.55" height="0.55"/><rect x="476.2" y="139.4" width="0.55" height="0.55"/><rect x="458.3" y="141.5" width="0.55" height="0.55"/><rect x="470.9" y="145.4" width="0.55" height="0.55"/><rect x="458.6" y="154.6" width="0.55" height="0.55"/><rect x="480.8" y="139.4" width="0.55" height="0.55"/><rect x="468.0" y="135.4" width="0.55" height="0.55"/><rect x="478.5" y="133.0" width="0.55" height="0.55"/><rect x="471.7" y="135.0" width="0.55" height="0.55"/><rect x="459.3" y="145.5" width="0.55" height="0.55"/><rect x="477.7" y="139.1" width="0.55" height="0.55"/><rect x="459.4" y="146.3" width="0.55" height="0.55"/><rect x="465.1" y="141.9" width="0.55" height="0.55"/><rect x="479.5" y="149.2" width="0.55" height="0.55"/><rect x="460.9" y="159.3" width="0.55" height="0.55"/><rect x="465.6" y="146.1" width="0.55" height="0.55"/><rect x="459.7" y="138.8" width="0.55" height="0.55"/><rect x="449.7" y="154.9" width="0.55" height="0.55"/><rect x="478.0" y="128.5" width="0.55" height="0.55"/><rect x="451.9" y="124.9" width="0.55" height="0.55"/><rect x="476.3" y="135.2" width="0.55" height="0.55"/><rect x="465.0" y="136.4" width="0.55" height="0.55"/><rect x="464.5" y="129.6" width="0.55" height="0.55"/><rect x="465.8" y="126.5" width="0.55" height="0.55"/><rect x="464.9" y="141.9" width="0.55" height="0.55"/><rect x="469.9" y="137.2" width="0.55" height="0.55"/><rect x="457.4" y="140.6" width="0.55" height="0.55"/><rect x="461.2" y="153.0" width="0.55" height="0.55"/><rect x="472.6" y="138.2" width="0.55" height="0.55"/><rect x="461.3" y="133.0" width="0.55" height="0.55"/><rect x="457.1" y="136.1" width="0.55" height="0.55"/><rect x="468.3" y="143.7" width="0.55" height="0.55"/><rect x="470.8" y="157.7" width="0.55" height="0.55"/><rect x="459.2" y="139.3" width="0.55" height="0.55"/><rect x="491.0" y="122.8" width="0.55" height="0.55"/><rect x="460.9" y="140.7" width="0.55" height="0.55"/><rect x="467.0" y="142.8" width="0.55" height="0.55"/><rect x="463.4" y="142.4" width="0.55" height="0.55"/><rect x="466.1" y="146.0" width="0.55" height="0.55"/><rect x="448.4" y="131.4" width="0.55" height="0.55"/><rect x="465.6" y="130.1" width="0.55" height="0.55"/><rect x="456.1" y="144.7" width="0.55" height="0.55"/><rect x="459.7" y="144.8" width="0.55" height="0.55"/><rect x="472.4" y="141.9" width="0.55" height="0.55"/><rect x="470.2" y="138.3" width="0.55" height="0.55"/><rect x="452.8" y="138.9" width="0.55" height="0.55"/><rect x="469.7" y="134.5" width="0.55" height="0.55"/><rect x="464.7" y="145.8" width="0.55" height="0.55"/><rect x="457.6" y="144.8" width="0.55" height="0.55"/><rect x="482.5" y="134.3" width="0.55" height="0.55"/><rect x="466.9" y="137.9" width="0.55" height="0.55"/><rect x="479.6" y="142.0" width="0.55" height="0.55"/><rect x="473.8" y="133.1" width="0.55" height="0.55"/><rect x="465.5" y="139.1" width="0.55" height="0.55"/><rect x="449.4" y="151.9" width="0.55" height="0.55"/><rect x="473.8" y="123.8" width="0.55" height="0.55"/><rect x="472.4" y="138.0" width="0.55" height="0.55"/><rect x="469.7" y="142.4" width="0.55" height="0.55"/><rect x="452.0" y="137.3" width="0.55" height="0.55"/><rect x="479.2" y="134.1" width="0.55" height="0.55"/><rect x="456.3" y="127.2" width="0.55" height="0.55"/><rect x="454.5" y="142.2" width="0.55" height="0.55"/><rect x="481.0" y="143.0" width="0.55" height="0.55"/><rect x="467.8" y="158.9" width="0.55" height="0.55"/><rect x="460.9" y="133.3" width="0.55" height="0.55"/><rect x="470.4" y="144.0" width="0.55" height="0.55"/><rect x="456.4" y="128.9" width="0.55" height="0.55"/><rect x="468.2" y="141.4" width="0.55" height="0.55"/><rect x="453.7" y="137.4" width="0.55" height="0.55"/><rect x="460.7" y="143.2" width="0.55" height="0.55"/><rect x="464.5" y="138.4" width="0.55" height="0.55"/><rect x="462.4" y="148.5" width="0.55" height="0.55"/><rect x="478.3" y="136.0" width="0.55" height="0.55"/><rect x="473.3" y="132.5" width="0.55" height="0.55"/><rect x="466.3" y="145.8" width="0.55" height="0.55"/><rect x="479.4" y="135.8" width="0.55" height="0.55"/><rect x="464.9" y="140.9" width="0.55" height="0.55"/><rect x="452.0" y="139.3" width="0.55" height="0.55"/><rect x="459.4" y="142.5" width="0.55" height="0.55"/><rect x="455.3" y="121.8" width="0.55" height="0.55"/><rect x="465.9" y="141.5" width="0.55" height="0.55"/><rect x="460.6" y="147.0" width="0.55" height="0.55"/><rect x="463.1" y="133.9" width="0.55" height="0.55"/><rect x="469.9" y="125.4" width="0.55" height="0.55"/><rect x="459.4" y="139.0" width="0.55" height="0.55"/><rect x="473.3" y="137.8" width="0.55" height="0.55"/><rect x="468.4" y="133.4" width="0.55" height="0.55"/><rect x="468.3" y="153.8" width="0.55" height="0.55"/><rect x="459.4" y="160.0" width="0.55" height="0.55"/><rect x="459.7" y="139.4" width="0.55" height="0.55"/><rect x="467.2" y="148.2" width="0.55" height="0.55"/><rect x="454.3" y="120.7" width="0.55" height="0.55"/><rect x="471.1" y="146.2" width="0.55" height="0.55"/><rect x="471.3" y="162.3" width="0.55" height="0.55"/><rect x="467.5" y="141.4" width="0.55" height="0.55"/><rect x="474.1" y="142.4" width="0.55" height="0.55"/><rect x="480.7" y="128.3" width="0.55" height="0.55"/><rect x="462.2" y="108.9" width="0.55" height="0.55"/><rect x="473.0" y="135.9" width="0.55" height="0.55"/><rect x="474.0" y="158.2" width="0.55" height="0.55"/><rect x="465.5" y="137.0" width="0.55" height="0.55"/><rect x="461.1" y="131.8" width="0.55" height="0.55"/><rect x="459.9" y="144.8" width="0.55" height="0.55"/><rect x="465.9" y="139.8" width="0.55" height="0.55"/><rect x="464.0" y="147.2" width="0.55" height="0.55"/><rect x="470.1" y="138.0" width="0.55" height="0.55"/><rect x="471.6" y="137.9" width="0.55" height="0.55"/><rect x="455.1" y="152.0" width="0.55" height="0.55"/><rect x="469.8" y="130.8" width="0.55" height="0.55"/><rect x="475.4" y="142.2" width="0.55" height="0.55"/><rect x="451.4" y="153.4" width="0.55" height="0.55"/></g>
<g fill="#1e1e5e" opacity="0.8"><rect x="465.9" y="150.4" width="0.7" height="0.7"/><rect x="473.3" y="145.1" width="0.7" height="0.7"/><rect x="454.9" y="148.1" width="0.7" height="0.7"/><rect x="470.7" y="145.1" width="0.7" height="0.7"/><rect x="473.6" y="145.5" width="0.7" height="0.7"/><rect x="462.7" y="152.7" width="0.7" height="0.7"/><rect x="462.9" y="133.8" width="0.7" height="0.7"/><rect x="461.9" y="151.5" width="0.7" height="0.7"/><rect x="471.4" y="141.0" width="0.7" height="0.7"/><rect x="461.3" y="135.0" width="0.7" height="0.7"/><rect x="459.4" y="151.2" width="0.7" height="0.7"/><rect x="463.4" y="134.3" width="0.7" height="0.7"/><rect x="469.8" y="139.4" width="0.7" height="0.7"/><rect x="470.6" y="144.3" width="0.7" height="0.7"/><rect x="463.8" y="150.0" width="0.7" height="0.7"/><rect x="472.1" y="140.6" width="0.7" height="0.7"/><rect x="456.2" y="149.0" width="0.7" height="0.7"/><rect x="453.1" y="143.6" width="0.7" height="0.7"/><rect x="471.8" y="139.1" width="0.7" height="0.7"/><rect x="462.3" y="133.1" width="0.7" height="0.7"/><rect x="467.2" y="135.2" width="0.7" height="0.7"/><rect x="459.3" y="150.0" width="0.7" height="0.7"/><rect x="459.6" y="150.4" width="0.7" height="0.7"/><rect x="472.1" y="147.9" width="0.7" height="0.7"/><rect x="466.1" y="151.5" width="0.7" height="0.7"/><rect x="470.9" y="146.4" width="0.7" height="0.7"/><rect x="471.3" y="144.9" width="0.7" height="0.7"/><rect x="471.9" y="142.1" width="0.7" height="0.7"/><rect x="470.3" y="136.9" width="0.7" height="0.7"/><rect x="470.9" y="147.6" width="0.7" height="0.7"/><rect x="469.5" y="147.5" width="0.7" height="0.7"/><rect x="454.5" y="146.1" width="0.7" height="0.7"/><rect x="463.9" y="151.0" width="0.7" height="0.7"/><rect x="458.7" y="134.9" width="0.7" height="0.7"/><rect x="463.0" y="133.7" width="0.7" height="0.7"/><rect x="469.0" y="148.6" width="0.7" height="0.7"/><rect x="467.9" y="136.0" width="0.7" height="0.7"/><rect x="456.0" y="150.2" width="0.7" height="0.7"/><rect x="462.4" y="134.2" width="0.7" height="0.7"/><rect x="463.4" y="152.6" width="0.7" height="0.7"/><rect x="468.8" y="151.1" width="0.7" height="0.7"/><rect x="459.2" y="150.4" width="0.7" height="0.7"/><rect x="455.1" y="149.1" width="0.7" height="0.7"/><rect x="464.2" y="151.9" width="0.7" height="0.7"/><rect x="465.9" y="136.3" width="0.7" height="0.7"/><rect x="468.7" y="147.3" width="0.7" height="0.7"/><rect x="453.5" y="144.7" width="0.7" height="0.7"/><rect x="469.7" y="139.4" width="0.7" height="0.7"/><rect x="471.8" y="145.4" width="0.7" height="0.7"/><rect x="466.6" y="151.7" width="0.7" height="0.7"/><rect x="470.5" y="142.0" width="0.7" height="0.7"/><rect x="457.4" y="148.9" width="0.7" height="0.7"/><rect x="468.8" y="137.1" width="0.7" height="0.7"/><rect x="464.7" y="134.3" width="0.7" height="0.7"/><rect x="472.5" y="140.0" width="0.7" height="0.7"/><rect x="456.0" y="136.7" width="0.7" height="0.7"/><rect x="464.9" y="151.5" width="0.7" height="0.7"/><rect x="465.8" y="151.9" width="0.7" height="0.7"/><rect x="462.8" y="151.1" width="0.7" height="0.7"/><rect x="465.5" y="151.0" width="0.7" height="0.7"/><rect x="471.6" y="143.8" width="0.7" height="0.7"/><rect x="467.1" y="152.2" width="0.7" height="0.7"/><rect x="459.5" y="151.7" width="0.7" height="0.7"/><rect x="453.1" y="140.2" width="0.7" height="0.7"/><rect x="472.1" y="146.9" width="0.7" height="0.7"/><rect x="454.0" y="140.3" width="0.7" height="0.7"/><rect x="457.0" y="136.1" width="0.7" height="0.7"/><rect x="460.0" y="134.7" width="0.7" height="0.7"/><rect x="455.5" y="147.8" width="0.7" height="0.7"/><rect x="472.5" y="140.5" width="0.7" height="0.7"/><rect x="459.9" y="150.7" width="0.7" height="0.7"/><rect x="455.5" y="147.5" width="0.7" height="0.7"/><rect x="469.6" y="136.0" width="0.7" height="0.7"/><rect x="466.1" y="151.5" width="0.7" height="0.7"/><rect x="461.8" y="134.5" width="0.7" height="0.7"/><rect x="470.6" y="138.1" width="0.7" height="0.7"/><rect x="454.7" y="147.4" width="0.7" height="0.7"/><rect x="469.3" y="137.8" width="0.7" height="0.7"/><rect x="454.2" y="145.4" width="0.7" height="0.7"/><rect x="454.4" y="140.4" width="0.7" height="0.7"/><rect x="457.1" y="136.2" width="0.7" height="0.7"/><rect x="456.7" y="137.2" width="0.7" height="0.7"/><rect x="457.2" y="149.3" width="0.7" height="0.7"/><rect x="461.2" y="151.8" width="0.7" height="0.7"/><rect x="453.7" y="142.0" width="0.7" height="0.7"/><rect x="454.2" y="143.7" width="0.7" height="0.7"/><rect x="466.4" y="134.4" width="0.7" height="0.7"/><rect x="469.4" y="149.4" width="0.7" height="0.7"/><rect x="472.5" y="139.8" width="0.7" height="0.7"/><rect x="471.6" y="146.1" width="0.7" height="0.7"/><rect x="470.0" y="139.8" width="0.7" height="0.7"/><rect x="455.6" y="136.4" width="0.7" height="0.7"/><rect x="467.6" y="134.7" width="0.7" height="0.7"/><rect x="464.9" y="153.0" width="0.7" height="0.7"/><rect x="454.9" y="148.6" width="0.7" height="0.7"/><rect x="466.3" y="150.1" width="0.7" height="0.7"/><rect x="464.8" y="151.1" width="0.7" height="0.7"/><rect x="455.9" y="149.5" width="0.7" height="0.7"/><rect x="469.6" y="149.4" width="0.7" height="0.7"/><rect x="471.4" y="137.1" width="0.7" height="0.7"/><rect x="470.7" y="145.1" width="0.7" height="0.7"/><rect x="471.4" y="145.2" width="0.7" height="0.7"/><rect x="468.3" y="135.0" width="0.7" height="0.7"/><rect x="453.7" y="140.3" width="0.7" height="0.7"/><rect x="457.0" y="137.1" width="0.7" height="0.7"/><rect x="454.5" y="138.4" width="0.7" height="0.7"/><rect x="455.4" y="146.9" width="0.7" height="0.7"/><rect x="455.4" y="146.3" width="0.7" height="0.7"/><rect x="471.4" y="144.4" width="0.7" height="0.7"/><rect x="463.9" y="151.3" width="0.7" height="0.7"/><rect x="463.9" y="134.3" width="0.7" height="0.7"/><rect x="466.6" y="150.4" width="0.7" height="0.7"/><rect x="453.8" y="144.7" width="0.7" height="0.7"/><rect x="454.6" y="147.0" width="0.7" height="0.7"/><rect x="470.0" y="147.5" width="0.7" height="0.7"/><rect x="472.2" y="145.5" width="0.7" height="0.7"/><rect x="456.4" y="135.7" width="0.7" height="0.7"/><rect x="464.8" y="133.9" width="0.7" height="0.7"/><rect x="453.1" y="142.5" width="0.7" height="0.7"/><rect x="456.3" y="149.5" width="0.7" height="0.7"/><rect x="472.8" y="140.2" width="0.7" height="0.7"/><rect x="473.4" y="143.0" width="0.7" height="0.7"/><rect x="462.1" y="134.3" width="0.7" height="0.7"/><rect x="471.7" y="142.2" width="0.7" height="0.7"/><rect x="452.3" y="143.7" width="0.7" height="0.7"/><rect x="467.5" y="150.4" width="0.7" height="0.7"/><rect x="465.3" y="134.4" width="0.7" height="0.7"/><rect x="457.8" y="150.2" width="0.7" height="0.7"/><rect x="463.5" y="133.5" width="0.7" height="0.7"/><rect x="461.4" y="153.3" width="0.7" height="0.7"/><rect x="467.0" y="134.6" width="0.7" height="0.7"/><rect x="471.7" y="138.6" width="0.7" height="0.7"/><rect x="465.4" y="151.6" width="0.7" height="0.7"/><rect x="458.9" y="152.0" width="0.7" height="0.7"/><rect x="472.2" y="145.3" width="0.7" height="0.7"/><rect x="471.9" y="139.6" width="0.7" height="0.7"/><rect x="459.0" y="134.9" width="0.7" height="0.7"/><rect x="465.0" y="134.9" width="0.7" height="0.7"/><rect x="469.1" y="148.3" width="0.7" height="0.7"/><rect x="457.5" y="149.8" width="0.7" height="0.7"/><rect x="468.7" y="137.6" width="0.7" height="0.7"/><rect x="469.6" y="137.5" width="0.7" height="0.7"/><rect x="471.2" y="149.3" width="0.7" height="0.7"/><rect x="456.0" y="148.6" width="0.7" height="0.7"/><rect x="465.7" y="135.0" width="0.7" height="0.7"/><rect x="452.9" y="138.0" width="0.7" height="0.7"/><rect x="457.2" y="150.0" width="0.7" height="0.7"/><rect x="466.8" y="150.3" width="0.7" height="0.7"/><rect x="462.7" y="133.0" width="0.7" height="0.7"/><rect x="462.9" y="152.4" width="0.7" height="0.7"/><rect x="456.6" y="135.6" width="0.7" height="0.7"/><rect x="458.5" y="135.8" width="0.7" height="0.7"/><rect x="459.5" y="151.5" width="0.7" height="0.7"/><rect x="468.5" y="150.3" width="0.7" height="0.7"/><rect x="457.0" y="137.9" width="0.7" height="0.7"/><rect x="470.6" y="137.6" width="0.7" height="0.7"/><rect x="469.4" y="149.8" width="0.7" height="0.7"/><rect x="473.3" y="144.6" width="0.7" height="0.7"/><rect x="472.0" y="143.3" width="0.7" height="0.7"/><rect x="457.2" y="150.3" width="0.7" height="0.7"/></g>
<ellipse cx="463.1" cy="143.2" rx="8.5" ry="8.2" fill="#1c1c50" filter="url(#bl1)"/>
<ellipse cx="464.4" cy="143.9" rx="6.5" ry="7.3" fill="#2f8030" filter="url(#bl2)"/>
<ellipse cx="464.9" cy="144.4" rx="4.6" ry="6.1" fill="#c6ac2c" filter="url(#bl2)"/>
<ellipse cx="465.0" cy="144.8" rx="2.6" ry="4.5" fill="#e2481c" filter="url(#bl2)"/>
</g>
<g fill="#9a9ab0" opacity="0.7" clip-path="url(#cp2)"><rect x="497.4" y="142.3" width="0.5" height="0.5"/><rect x="492.3" y="147.5" width="0.5" height="0.5"/><rect x="490.7" y="145.1" width="0.5" height="0.5"/><rect x="506.1" y="139.8" width="0.5" height="0.5"/><rect x="496.1" y="146.4" width="0.5" height="0.5"/><rect x="503.6" y="145.1" width="0.5" height="0.5"/><rect x="503.8" y="142.6" width="0.5" height="0.5"/><rect x="491.8" y="147.0" width="0.5" height="0.5"/><rect x="505.3" y="148.9" width="0.5" height="0.5"/><rect x="490.4" y="147.6" width="0.5" height="0.5"/><rect x="491.7" y="144.8" width="0.5" height="0.5"/><rect x="505.8" y="146.1" width="0.5" height="0.5"/><rect x="496.1" y="137.6" width="0.5" height="0.5"/><rect x="503.7" y="147.7" width="0.5" height="0.5"/><rect x="492.0" y="147.2" width="0.5" height="0.5"/><rect x="506.5" y="146.1" width="0.5" height="0.5"/><rect x="504.2" y="149.0" width="0.5" height="0.5"/><rect x="499.4" y="148.4" width="0.5" height="0.5"/><rect x="498.8" y="142.3" width="0.5" height="0.5"/><rect x="486.7" y="149.2" width="0.5" height="0.5"/><rect x="497.6" y="146.4" width="0.5" height="0.5"/><rect x="494.0" y="145.2" width="0.5" height="0.5"/><rect x="509.0" y="146.0" width="0.5" height="0.5"/><rect x="498.1" y="141.0" width="0.5" height="0.5"/><rect x="508.5" y="149.1" width="0.5" height="0.5"/><rect x="495.8" y="143.3" width="0.5" height="0.5"/><rect x="495.6" y="143.5" width="0.5" height="0.5"/><rect x="496.5" y="146.9" width="0.5" height="0.5"/><rect x="496.2" y="148.0" width="0.5" height="0.5"/><rect x="490.5" y="141.6" width="0.5" height="0.5"/><rect x="491.8" y="139.5" width="0.5" height="0.5"/><rect x="494.8" y="145.3" width="0.5" height="0.5"/><rect x="489.4" y="147.5" width="0.5" height="0.5"/><rect x="497.9" y="143.0" width="0.5" height="0.5"/><rect x="495.1" y="141.7" width="0.5" height="0.5"/><rect x="500.4" y="148.7" width="0.5" height="0.5"/><rect x="496.8" y="148.8" width="0.5" height="0.5"/><rect x="495.7" y="145.5" width="0.5" height="0.5"/><rect x="495.4" y="136.3" width="0.5" height="0.5"/><rect x="495.9" y="144.6" width="0.5" height="0.5"/><rect x="500.2" y="146.1" width="0.5" height="0.5"/><rect x="497.0" y="137.5" width="0.5" height="0.5"/><rect x="489.2" y="143.3" width="0.5" height="0.5"/><rect x="486.8" y="136.3" width="0.5" height="0.5"/><rect x="483.8" y="147.5" width="0.5" height="0.5"/><rect x="491.9" y="139.2" width="0.5" height="0.5"/><rect x="486.4" y="146.1" width="0.5" height="0.5"/><rect x="491.0" y="147.5" width="0.5" height="0.5"/><rect x="498.1" y="142.0" width="0.5" height="0.5"/><rect x="508.6" y="143.8" width="0.5" height="0.5"/><rect x="496.9" y="148.5" width="0.5" height="0.5"/><rect x="507.7" y="141.6" width="0.5" height="0.5"/><rect x="494.0" y="147.0" width="0.5" height="0.5"/><rect x="497.9" y="149.2" width="0.5" height="0.5"/><rect x="492.7" y="142.2" width="0.5" height="0.5"/><rect x="492.5" y="141.0" width="0.5" height="0.5"/><rect x="504.0" y="146.5" width="0.5" height="0.5"/><rect x="488.2" y="141.8" width="0.5" height="0.5"/><rect x="501.8" y="139.0" width="0.5" height="0.5"/><rect x="508.0" y="145.0" width="0.5" height="0.5"/><rect x="509.4" y="142.7" width="0.5" height="0.5"/><rect x="499.4" y="147.2" width="0.5" height="0.5"/><rect x="497.3" y="148.6" width="0.5" height="0.5"/><rect x="502.8" y="141.3" width="0.5" height="0.5"/><rect x="487.9" y="141.8" width="0.5" height="0.5"/><rect x="492.4" y="146.2" width="0.5" height="0.5"/><rect x="498.4" y="148.0" width="0.5" height="0.5"/><rect x="496.2" y="145.8" width="0.5" height="0.5"/><rect x="493.1" y="144.3" width="0.5" height="0.5"/><rect x="501.0" y="148.9" width="0.5" height="0.5"/><rect x="493.9" y="141.0" width="0.5" height="0.5"/><rect x="492.1" y="145.9" width="0.5" height="0.5"/><rect x="503.5" y="148.0" width="0.5" height="0.5"/><rect x="501.4" y="143.4" width="0.5" height="0.5"/><rect x="502.6" y="148.4" width="0.5" height="0.5"/><rect x="485.7" y="145.8" width="0.5" height="0.5"/><rect x="490.2" y="142.4" width="0.5" height="0.5"/><rect x="491.6" y="148.6" width="0.5" height="0.5"/><rect x="497.8" y="147.7" width="0.5" height="0.5"/><rect x="497.7" y="146.5" width="0.5" height="0.5"/><rect x="500.4" y="149.5" width="0.5" height="0.5"/><rect x="497.4" y="134.4" width="0.5" height="0.5"/><rect x="503.5" y="149.3" width="0.5" height="0.5"/><rect x="484.4" y="149.0" width="0.5" height="0.5"/><rect x="499.0" y="143.6" width="0.5" height="0.5"/><rect x="489.0" y="141.0" width="0.5" height="0.5"/><rect x="495.0" y="136.3" width="0.5" height="0.5"/><rect x="495.0" y="145.8" width="0.5" height="0.5"/><rect x="493.6" y="143.4" width="0.5" height="0.5"/><rect x="503.1" y="144.5" width="0.5" height="0.5"/><rect x="506.0" y="144.8" width="0.5" height="0.5"/><rect x="492.3" y="140.4" width="0.5" height="0.5"/><rect x="491.8" y="145.8" width="0.5" height="0.5"/><rect x="490.7" y="146.3" width="0.5" height="0.5"/><rect x="498.1" y="148.0" width="0.5" height="0.5"/><rect x="497.1" y="148.7" width="0.5" height="0.5"/><rect x="497.4" y="145.4" width="0.5" height="0.5"/><rect x="502.2" y="145.7" width="0.5" height="0.5"/><rect x="486.2" y="141.6" width="0.5" height="0.5"/><rect x="496.7" y="143.4" width="0.5" height="0.5"/><rect x="485.3" y="147.7" width="0.5" height="0.5"/><rect x="496.2" y="141.6" width="0.5" height="0.5"/><rect x="492.6" y="145.5" width="0.5" height="0.5"/><rect x="503.0" y="140.7" width="0.5" height="0.5"/><rect x="490.4" y="141.8" width="0.5" height="0.5"/><rect x="499.4" y="144.3" width="0.5" height="0.5"/><rect x="497.3" y="142.3" width="0.5" height="0.5"/><rect x="501.1" y="145.1" width="0.5" height="0.5"/><rect x="499.6" y="146.8" width="0.5" height="0.5"/><rect x="498.0" y="145.2" width="0.5" height="0.5"/><rect x="492.4" y="139.4" width="0.5" height="0.5"/><rect x="498.1" y="146.9" width="0.5" height="0.5"/><rect x="496.1" y="144.6" width="0.5" height="0.5"/><rect x="492.2" y="149.0" width="0.5" height="0.5"/><rect x="494.0" y="146.4" width="0.5" height="0.5"/><rect x="506.4" y="148.1" width="0.5" height="0.5"/><rect x="509.4" y="141.1" width="0.5" height="0.5"/><rect x="501.1" y="146.3" width="0.5" height="0.5"/><rect x="507.5" y="148.5" width="0.5" height="0.5"/><rect x="495.3" y="143.7" width="0.5" height="0.5"/><rect x="499.1" y="142.1" width="0.5" height="0.5"/><rect x="499.5" y="147.2" width="0.5" height="0.5"/><rect x="494.7" y="148.6" width="0.5" height="0.5"/><rect x="486.7" y="143.7" width="0.5" height="0.5"/><rect x="493.3" y="143.4" width="0.5" height="0.5"/><rect x="491.1" y="145.0" width="0.5" height="0.5"/><rect x="501.6" y="143.7" width="0.5" height="0.5"/><rect x="487.2" y="144.4" width="0.5" height="0.5"/><rect x="501.8" y="146.3" width="0.5" height="0.5"/><rect x="486.3" y="145.4" width="0.5" height="0.5"/><rect x="491.9" y="147.6" width="0.5" height="0.5"/><rect x="493.7" y="138.3" width="0.5" height="0.5"/><rect x="497.5" y="141.1" width="0.5" height="0.5"/><rect x="501.9" y="142.9" width="0.5" height="0.5"/><rect x="491.5" y="144.8" width="0.5" height="0.5"/><rect x="492.5" y="142.4" width="0.5" height="0.5"/><rect x="501.5" y="146.2" width="0.5" height="0.5"/><rect x="498.1" y="141.0" width="0.5" height="0.5"/><rect x="492.6" y="146.5" width="0.5" height="0.5"/><rect x="489.6" y="146.7" width="0.5" height="0.5"/><rect x="491.2" y="145.6" width="0.5" height="0.5"/><rect x="489.2" y="138.2" width="0.5" height="0.5"/><rect x="499.9" y="142.2" width="0.5" height="0.5"/><rect x="497.1" y="144.1" width="0.5" height="0.5"/><rect x="478.4" y="148.5" width="0.5" height="0.5"/><rect x="503.9" y="147.9" width="0.5" height="0.5"/><rect x="502.0" y="141.4" width="0.5" height="0.5"/><rect x="503.3" y="147.1" width="0.5" height="0.5"/><rect x="502.8" y="145.2" width="0.5" height="0.5"/><rect x="486.0" y="147.3" width="0.5" height="0.5"/><rect x="486.7" y="148.9" width="0.5" height="0.5"/><rect x="499.8" y="143.6" width="0.5" height="0.5"/><rect x="482.6" y="142.4" width="0.5" height="0.5"/><rect x="498.4" y="141.4" width="0.5" height="0.5"/><rect x="487.4" y="143.7" width="0.5" height="0.5"/><rect x="509.5" y="138.5" width="0.5" height="0.5"/><rect x="494.6" y="148.0" width="0.5" height="0.5"/><rect x="495.0" y="144.0" width="0.5" height="0.5"/><rect x="502.7" y="149.0" width="0.5" height="0.5"/><rect x="487.2" y="145.4" width="0.5" height="0.5"/><rect x="492.9" y="146.0" width="0.5" height="0.5"/><rect x="497.7" y="140.6" width="0.5" height="0.5"/><rect x="503.4" y="147.0" width="0.5" height="0.5"/><rect x="498.3" y="139.8" width="0.5" height="0.5"/><rect x="492.5" y="147.1" width="0.5" height="0.5"/><rect x="503.7" y="142.6" width="0.5" height="0.5"/><rect x="499.4" y="142.2" width="0.5" height="0.5"/><rect x="487.8" y="148.1" width="0.5" height="0.5"/><rect x="498.5" y="135.5" width="0.5" height="0.5"/><rect x="490.4" y="143.2" width="0.5" height="0.5"/></g>
<path d="M485.5 149.6 V129.7 H512.7 V149.6" fill="none" stroke="#333" stroke-width="0.6"/>
<text x="485.80" y="129.00" font-size="7.8" fill="#111">B:1.98%</text>
<filter id="bl4" x="-10%" y="-10%" width="120%" height="120%"><feGaussianBlur stdDeviation="0.35"/></filter>
<g clip-path="url(#cp3)">
<g fill="#24245e" opacity="0.85"><rect x="584.9" y="134.9" width="0.7" height="0.7"/><rect x="576.3" y="141.0" width="0.7" height="0.7"/><rect x="572.5" y="142.2" width="0.7" height="0.7"/><rect x="591.7" y="131.8" width="0.7" height="0.7"/><rect x="583.0" y="135.3" width="0.7" height="0.7"/><rect x="573.9" y="140.3" width="0.7" height="0.7"/><rect x="566.9" y="140.4" width="0.7" height="0.7"/><rect x="586.8" y="133.0" width="0.7" height="0.7"/><rect x="573.9" y="142.2" width="0.7" height="0.7"/><rect x="575.0" y="140.0" width="0.7" height="0.7"/><rect x="591.2" y="131.4" width="0.7" height="0.7"/><rect x="582.7" y="136.6" width="0.7" height="0.7"/><rect x="590.1" y="130.3" width="0.7" height="0.7"/><rect x="572.5" y="141.8" width="0.7" height="0.7"/><rect x="583.4" y="136.6" width="0.7" height="0.7"/><rect x="580.7" y="137.6" width="0.7" height="0.7"/><rect x="574.8" y="137.7" width="0.7" height="0.7"/><rect x="573.9" y="138.2" width="0.7" height="0.7"/><rect x="571.2" y="143.1" width="0.7" height="0.7"/><rect x="577.4" y="137.1" width="0.7" height="0.7"/><rect x="577.7" y="138.5" width="0.7" height="0.7"/><rect x="581.7" y="135.4" width="0.7" height="0.7"/><rect x="580.4" y="138.8" width="0.7" height="0.7"/><rect x="590.3" y="132.9" width="0.7" height="0.7"/><rect x="591.6" y="129.7" width="0.7" height="0.7"/><rect x="572.2" y="142.4" width="0.7" height="0.7"/><rect x="567.3" y="148.2" width="0.7" height="0.7"/><rect x="579.4" y="140.1" width="0.7" height="0.7"/><rect x="576.6" y="139.2" width="0.7" height="0.7"/><rect x="586.8" y="134.1" width="0.7" height="0.7"/><rect x="577.4" y="139.1" width="0.7" height="0.7"/><rect x="575.3" y="143.7" width="0.7" height="0.7"/><rect x="569.8" y="144.8" width="0.7" height="0.7"/><rect x="587.5" y="131.9" width="0.7" height="0.7"/><rect x="568.9" y="144.4" width="0.7" height="0.7"/><rect x="572.3" y="140.8" width="0.7" height="0.7"/><rect x="565.6" y="141.7" width="0.7" height="0.7"/><rect x="564.3" y="145.0" width="0.7" height="0.7"/><rect x="583.0" y="136.6" width="0.7" height="0.7"/><rect x="583.8" y="136.0" width="0.7" height="0.7"/><rect x="579.1" y="140.9" width="0.7" height="0.7"/><rect x="563.7" y="143.2" width="0.7" height="0.7"/><rect x="582.2" y="139.1" width="0.7" height="0.7"/><rect x="574.6" y="141.4" width="0.7" height="0.7"/><rect x="566.8" y="144.8" width="0.7" height="0.7"/><rect x="565.8" y="143.3" width="0.7" height="0.7"/><rect x="588.8" y="133.9" width="0.7" height="0.7"/><rect x="578.4" y="138.7" width="0.7" height="0.7"/><rect x="586.3" y="136.0" width="0.7" height="0.7"/><rect x="575.9" y="140.1" width="0.7" height="0.7"/><rect x="566.9" y="144.5" width="0.7" height="0.7"/><rect x="582.0" y="137.5" width="0.7" height="0.7"/><rect x="578.0" y="136.8" width="0.7" height="0.7"/><rect x="568.8" y="143.7" width="0.7" height="0.7"/><rect x="571.0" y="145.2" width="0.7" height="0.7"/><rect x="567.6" y="146.8" width="0.7" height="0.7"/><rect x="564.7" y="146.2" width="0.7" height="0.7"/><rect x="584.0" y="134.2" width="0.7" height="0.7"/><rect x="571.3" y="144.2" width="0.7" height="0.7"/><rect x="573.2" y="146.4" width="0.7" height="0.7"/><rect x="564.8" y="145.8" width="0.7" height="0.7"/><rect x="575.2" y="141.9" width="0.7" height="0.7"/><rect x="566.5" y="145.2" width="0.7" height="0.7"/><rect x="569.6" y="147.2" width="0.7" height="0.7"/><rect x="581.3" y="135.2" width="0.7" height="0.7"/><rect x="589.1" y="132.1" width="0.7" height="0.7"/><rect x="587.1" y="134.1" width="0.7" height="0.7"/><rect x="569.5" y="144.8" width="0.7" height="0.7"/><rect x="566.2" y="148.5" width="0.7" height="0.7"/><rect x="586.1" y="135.1" width="0.7" height="0.7"/><rect x="566.2" y="145.1" width="0.7" height="0.7"/><rect x="570.3" y="144.3" width="0.7" height="0.7"/><rect x="575.8" y="138.9" width="0.7" height="0.7"/><rect x="579.2" y="138.5" width="0.7" height="0.7"/><rect x="585.3" y="134.4" width="0.7" height="0.7"/><rect x="587.6" y="133.2" width="0.7" height="0.7"/><rect x="570.0" y="145.1" width="0.7" height="0.7"/><rect x="571.1" y="139.6" width="0.7" height="0.7"/><rect x="566.8" y="143.0" width="0.7" height="0.7"/><rect x="578.5" y="139.2" width="0.7" height="0.7"/><rect x="581.9" y="135.8" width="0.7" height="0.7"/><rect x="573.8" y="140.3" width="0.7" height="0.7"/><rect x="580.6" y="137.9" width="0.7" height="0.7"/><rect x="571.1" y="143.6" width="0.7" height="0.7"/><rect x="575.9" y="142.0" width="0.7" height="0.7"/><rect x="581.9" y="136.5" width="0.7" height="0.7"/><rect x="582.3" y="138.4" width="0.7" height="0.7"/><rect x="590.4" y="132.2" width="0.7" height="0.7"/><rect x="580.6" y="139.6" width="0.7" height="0.7"/><rect x="567.4" y="146.0" width="0.7" height="0.7"/><rect x="568.2" y="140.7" width="0.7" height="0.7"/><rect x="577.9" y="136.9" width="0.7" height="0.7"/><rect x="582.0" y="135.7" width="0.7" height="0.7"/><rect x="580.7" y="137.3" width="0.7" height="0.7"/><rect x="582.8" y="136.7" width="0.7" height="0.7"/><rect x="584.3" y="136.8" width="0.7" height="0.7"/><rect x="568.8" y="143.5" width="0.7" height="0.7"/><rect x="587.3" y="134.3" width="0.7" height="0.7"/><rect x="575.5" y="139.4" width="0.7" height="0.7"/><rect x="581.4" y="138.7" width="0.7" height="0.7"/><rect x="587.4" y="134.1" width="0.7" height="0.7"/><rect x="579.9" y="138.6" width="0.7" height="0.7"/><rect x="585.5" y="135.9" width="0.7" height="0.7"/><rect x="572.0" y="141.4" width="0.7" height="0.7"/><rect x="568.9" y="145.2" width="0.7" height="0.7"/><rect x="581.5" y="136.7" width="0.7" height="0.7"/><rect x="578.2" y="139.5" width="0.7" height="0.7"/><rect x="580.1" y="139.9" width="0.7" height="0.7"/><rect x="576.1" y="141.0" width="0.7" height="0.7"/><rect x="565.6" y="142.2" width="0.7" height="0.7"/><rect x="589.7" y="135.2" width="0.7" height="0.7"/><rect x="581.2" y="139.6" width="0.7" height="0.7"/><rect x="579.0" y="138.9" width="0.7" height="0.7"/><rect x="567.9" y="143.0" width="0.7" height="0.7"/><rect x="567.5" y="148.1" width="0.7" height="0.7"/><rect x="579.8" y="138.5" width="0.7" height="0.7"/><rect x="576.5" y="139.9" width="0.7" height="0.7"/><rect x="569.5" y="145.3" width="0.7" height="0.7"/><rect x="587.5" y="134.8" width="0.7" height="0.7"/><rect x="574.9" y="142.3" width="0.7" height="0.7"/><rect x="569.1" y="143.7" width="0.7" height="0.7"/><rect x="582.9" y="135.5" width="0.7" height="0.7"/><rect x="579.1" y="139.1" width="0.7" height="0.7"/><rect x="580.5" y="140.8" width="0.7" height="0.7"/><rect x="579.3" y="139.1" width="0.7" height="0.7"/><rect x="575.6" y="143.0" width="0.7" height="0.7"/><rect x="567.8" y="146.1" width="0.7" height="0.7"/><rect x="563.8" y="147.5" width="0.7" height="0.7"/><rect x="580.9" y="140.7" width="0.7" height="0.7"/><rect x="587.8" y="134.5" width="0.7" height="0.7"/><rect x="566.4" y="143.2" width="0.7" height="0.7"/><rect x="582.6" y="136.6" width="0.7" height="0.7"/><rect x="589.6" y="132.4" width="0.7" height="0.7"/><rect x="569.7" y="148.2" width="0.7" height="0.7"/><rect x="576.4" y="140.5" width="0.7" height="0.7"/><rect x="581.8" y="138.6" width="0.7" height="0.7"/><rect x="571.5" y="144.8" width="0.7" height="0.7"/><rect x="587.1" y="134.1" width="0.7" height="0.7"/><rect x="569.6" y="145.0" width="0.7" height="0.7"/><rect x="580.8" y="139.5" width="0.7" height="0.7"/><rect x="572.7" y="144.8" width="0.7" height="0.7"/><rect x="574.5" y="142.2" width="0.7" height="0.7"/><rect x="584.5" y="137.7" width="0.7" height="0.7"/><rect x="577.3" y="139.9" width="0.7" height="0.7"/><rect x="570.6" y="143.1" width="0.7" height="0.7"/><rect x="574.4" y="139.6" width="0.7" height="0.7"/><rect x="584.5" y="135.0" width="0.7" height="0.7"/><rect x="567.6" y="148.4" width="0.7" height="0.7"/><rect x="588.4" y="133.0" width="0.7" height="0.7"/><rect x="575.1" y="141.1" width="0.7" height="0.7"/><rect x="574.4" y="139.6" width="0.7" height="0.7"/><rect x="582.4" y="136.2" width="0.7" height="0.7"/><rect x="582.0" y="137.2" width="0.7" height="0.7"/><rect x="569.9" y="141.4" width="0.7" height="0.7"/><rect x="570.5" y="144.4" width="0.7" height="0.7"/><rect x="582.7" y="135.5" width="0.7" height="0.7"/><rect x="569.4" y="143.7" width="0.7" height="0.7"/><rect x="585.3" y="135.4" width="0.7" height="0.7"/><rect x="583.1" y="136.8" width="0.7" height="0.7"/><rect x="588.0" y="134.0" width="0.7" height="0.7"/><rect x="573.8" y="142.3" width="0.7" height="0.7"/><rect x="568.9" y="143.1" width="0.7" height="0.7"/><rect x="581.9" y="138.6" width="0.7" height="0.7"/><rect x="577.5" y="139.2" width="0.7" height="0.7"/><rect x="585.4" y="135.2" width="0.7" height="0.7"/><rect x="586.2" y="135.7" width="0.7" height="0.7"/><rect x="573.0" y="144.9" width="0.7" height="0.7"/><rect x="571.2" y="144.4" width="0.7" height="0.7"/><rect x="578.4" y="136.9" width="0.7" height="0.7"/><rect x="567.2" y="147.2" width="0.7" height="0.7"/><rect x="570.3" y="145.7" width="0.7" height="0.7"/><rect x="571.1" y="142.7" width="0.7" height="0.7"/><rect x="572.7" y="141.4" width="0.7" height="0.7"/><rect x="567.1" y="144.6" width="0.7" height="0.7"/><rect x="568.6" y="143.5" width="0.7" height="0.7"/><rect x="568.4" y="144.9" width="0.7" height="0.7"/><rect x="561.6" y="147.6" width="0.7" height="0.7"/><rect x="584.2" y="137.2" width="0.7" height="0.7"/><rect x="577.1" y="138.2" width="0.7" height="0.7"/><rect x="582.3" y="134.5" width="0.7" height="0.7"/><rect x="568.4" y="142.3" width="0.7" height="0.7"/><rect x="586.3" y="136.4" width="0.7" height="0.7"/><rect x="579.9" y="138.4" width="0.7" height="0.7"/><rect x="564.0" y="145.2" width="0.7" height="0.7"/><rect x="570.2" y="143.0" width="0.7" height="0.7"/><rect x="565.3" y="148.1" width="0.7" height="0.7"/><rect x="585.8" y="134.7" width="0.7" height="0.7"/><rect x="566.7" y="145.5" width="0.7" height="0.7"/><rect x="575.7" y="135.8" width="0.7" height="0.7"/><rect x="572.6" y="142.6" width="0.7" height="0.7"/><rect x="567.1" y="144.5" width="0.7" height="0.7"/><rect x="570.0" y="141.4" width="0.7" height="0.7"/><rect x="571.6" y="143.9" width="0.7" height="0.7"/><rect x="580.3" y="137.6" width="0.7" height="0.7"/><rect x="582.1" y="137.6" width="0.7" height="0.7"/><rect x="575.2" y="139.2" width="0.7" height="0.7"/><rect x="576.8" y="135.4" width="0.7" height="0.7"/><rect x="574.7" y="141.0" width="0.7" height="0.7"/><rect x="572.2" y="142.5" width="0.7" height="0.7"/><rect x="567.3" y="144.5" width="0.7" height="0.7"/><rect x="567.1" y="145.4" width="0.7" height="0.7"/><rect x="572.7" y="144.7" width="0.7" height="0.7"/><rect x="572.5" y="142.9" width="0.7" height="0.7"/><rect x="568.4" y="143.9" width="0.7" height="0.7"/><rect x="573.3" y="142.8" width="0.7" height="0.7"/><rect x="586.5" y="136.0" width="0.7" height="0.7"/><rect x="566.7" y="146.8" width="0.7" height="0.7"/><rect x="581.4" y="135.8" width="0.7" height="0.7"/><rect x="582.1" y="137.8" width="0.7" height="0.7"/><rect x="594.6" y="131.7" width="0.7" height="0.7"/><rect x="574.7" y="140.0" width="0.7" height="0.7"/><rect x="570.2" y="143.3" width="0.7" height="0.7"/><rect x="569.8" y="143.5" width="0.7" height="0.7"/><rect x="566.7" y="147.3" width="0.7" height="0.7"/><rect x="573.1" y="144.8" width="0.7" height="0.7"/><rect x="579.5" y="138.1" width="0.7" height="0.7"/><rect x="566.4" y="146.5" width="0.7" height="0.7"/><rect x="566.2" y="145.5" width="0.7" height="0.7"/><rect x="578.8" y="134.2" width="0.7" height="0.7"/><rect x="574.1" y="141.7" width="0.7" height="0.7"/><rect x="572.5" y="144.5" width="0.7" height="0.7"/><rect x="579.9" y="136.4" width="0.7" height="0.7"/><rect x="577.1" y="142.5" width="0.7" height="0.7"/><rect x="564.7" y="149.4" width="0.7" height="0.7"/><rect x="577.0" y="138.3" width="0.7" height="0.7"/><rect x="578.5" y="141.0" width="0.7" height="0.7"/><rect x="569.9" y="142.3" width="0.7" height="0.7"/><rect x="570.2" y="142.0" width="0.7" height="0.7"/><rect x="570.6" y="139.8" width="0.7" height="0.7"/><rect x="581.0" y="138.7" width="0.7" height="0.7"/><rect x="576.2" y="138.1" width="0.7" height="0.7"/><rect x="571.9" y="141.6" width="0.7" height="0.7"/><rect x="575.4" y="142.8" width="0.7" height="0.7"/><rect x="565.3" y="147.1" width="0.7" height="0.7"/><rect x="585.4" y="133.8" width="0.7" height="0.7"/><rect x="573.8" y="139.7" width="0.7" height="0.7"/><rect x="568.5" y="145.2" width="0.7" height="0.7"/><rect x="575.9" y="138.5" width="0.7" height="0.7"/><rect x="588.7" y="132.9" width="0.7" height="0.7"/><rect x="574.1" y="139.7" width="0.7" height="0.7"/><rect x="581.3" y="135.4" width="0.7" height="0.7"/><rect x="591.9" y="133.4" width="0.7" height="0.7"/><rect x="591.1" y="131.0" width="0.7" height="0.7"/><rect x="568.9" y="145.0" width="0.7" height="0.7"/><rect x="590.6" y="132.9" width="0.7" height="0.7"/><rect x="566.6" y="144.3" width="0.7" height="0.7"/><rect x="565.7" y="144.5" width="0.7" height="0.7"/><rect x="576.5" y="138.6" width="0.7" height="0.7"/><rect x="565.1" y="144.6" width="0.7" height="0.7"/><rect x="574.5" y="138.9" width="0.7" height="0.7"/><rect x="577.0" y="140.8" width="0.7" height="0.7"/><rect x="572.2" y="139.2" width="0.7" height="0.7"/><rect x="580.4" y="134.6" width="0.7" height="0.7"/><rect x="578.0" y="138.1" width="0.7" height="0.7"/><rect x="572.3" y="143.2" width="0.7" height="0.7"/><rect x="577.9" y="138.8" width="0.7" height="0.7"/><rect x="584.7" y="135.9" width="0.7" height="0.7"/><rect x="577.7" y="137.5" width="0.7" height="0.7"/><rect x="591.6" y="130.9" width="0.7" height="0.7"/><rect x="574.7" y="141.6" width="0.7" height="0.7"/><rect x="568.4" y="147.2" width="0.7" height="0.7"/><rect x="577.3" y="142.5" width="0.7" height="0.7"/><rect x="569.0" y="141.7" width="0.7" height="0.7"/><rect x="591.7" y="133.2" width="0.7" height="0.7"/><rect x="569.0" y="142.6" width="0.7" height="0.7"/><rect x="571.6" y="141.3" width="0.7" height="0.7"/><rect x="585.0" y="137.0" width="0.7" height="0.7"/><rect x="582.1" y="137.6" width="0.7" height="0.7"/><rect x="573.3" y="143.5" width="0.7" height="0.7"/><rect x="574.9" y="143.6" width="0.7" height="0.7"/><rect x="579.0" y="137.8" width="0.7" height="0.7"/><rect x="576.2" y="139.3" width="0.7" height="0.7"/><rect x="569.8" y="141.9" width="0.7" height="0.7"/><rect x="578.1" y="138.0" width="0.7" height="0.7"/><rect x="576.3" y="142.8" width="0.7" height="0.7"/><rect x="571.3" y="139.9" width="0.7" height="0.7"/><rect x="568.3" y="146.9" width="0.7" height="0.7"/><rect x="570.3" y="142.1" width="0.7" height="0.7"/><rect x="585.1" y="133.9" width="0.7" height="0.7"/><rect x="573.7" y="141.2" width="0.7" height="0.7"/><rect x="571.4" y="143.7" width="0.7" height="0.7"/><rect x="584.2" y="133.3" width="0.7" height="0.7"/><rect x="569.8" y="144.2" width="0.7" height="0.7"/><rect x="580.0" y="139.3" width="0.7" height="0.7"/><rect x="587.5" y="132.7" width="0.7" height="0.7"/><rect x="589.8" y="134.4" width="0.7" height="0.7"/><rect x="570.7" y="139.4" width="0.7" height="0.7"/><rect x="577.7" y="138.8" width="0.7" height="0.7"/><rect x="579.4" y="137.4" width="0.7" height="0.7"/><rect x="580.5" y="137.3" width="0.7" height="0.7"/><rect x="569.5" y="142.2" width="0.7" height="0.7"/><rect x="583.6" y="134.3" width="0.7" height="0.7"/><rect x="568.8" y="143.4" width="0.7" height="0.7"/><rect x="578.6" y="138.3" width="0.7" height="0.7"/><rect x="571.8" y="140.8" width="0.7" height="0.7"/><rect x="569.7" y="145.6" width="0.7" height="0.7"/><rect x="583.2" y="134.2" width="0.7" height="0.7"/><rect x="566.6" y="145.6" width="0.7" height="0.7"/><rect x="577.6" y="139.2" width="0.7" height="0.7"/><rect x="579.3" y="138.7" width="0.7" height="0.7"/><rect x="568.8" y="140.6" width="0.7" height="0.7"/><rect x="567.4" y="142.7" width="0.7" height="0.7"/><rect x="572.0" y="140.8" width="0.7" height="0.7"/><rect x="577.9" y="140.7" width="0.7" height="0.7"/><rect x="584.9" y="136.4" width="0.7" height="0.7"/><rect x="577.5" y="137.8" width="0.7" height="0.7"/><rect x="569.8" y="147.7" width="0.7" height="0.7"/><rect x="574.8" y="142.3" width="0.7" height="0.7"/><rect x="565.8" y="142.6" width="0.7" height="0.7"/><rect x="578.2" y="136.3" width="0.7" height="0.7"/><rect x="568.9" y="142.2" width="0.7" height="0.7"/><rect x="581.1" y="139.7" width="0.7" height="0.7"/><rect x="583.3" y="133.9" width="0.7" height="0.7"/><rect x="573.8" y="136.3" width="0.7" height="0.7"/><rect x="566.3" y="146.8" width="0.7" height="0.7"/><rect x="589.9" y="133.4" width="0.7" height="0.7"/><rect x="582.5" y="139.1" width="0.7" height="0.7"/><rect x="569.2" y="145.5" width="0.7" height="0.7"/><rect x="564.5" y="142.9" width="0.7" height="0.7"/><rect x="578.2" y="142.2" width="0.7" height="0.7"/><rect x="575.9" y="138.2" width="0.7" height="0.7"/><rect x="574.6" y="143.9" width="0.7" height="0.7"/><rect x="582.5" y="137.8" width="0.7" height="0.7"/><rect x="574.5" y="141.7" width="0.7" height="0.7"/><rect x="564.8" y="148.2" width="0.7" height="0.7"/><rect x="577.3" y="141.1" width="0.7" height="0.7"/><rect x="570.7" y="141.9" width="0.7" height="0.7"/><rect x="582.0" y="135.6" width="0.7" height="0.7"/><rect x="583.1" y="133.1" width="0.7" height="0.7"/><rect x="576.2" y="140.3" width="0.7" height="0.7"/><rect x="566.7" y="145.0" width="0.7" height="0.7"/><rect x="564.5" y="145.6" width="0.7" height="0.7"/><rect x="577.3" y="140.5" width="0.7" height="0.7"/><rect x="572.6" y="141.9" width="0.7" height="0.7"/><rect x="572.9" y="144.5" width="0.7" height="0.7"/><rect x="587.4" y="133.6" width="0.7" height="0.7"/><rect x="574.7" y="137.8" width="0.7" height="0.7"/><rect x="584.4" y="137.6" width="0.7" height="0.7"/><rect x="575.8" y="143.0" width="0.7" height="0.7"/><rect x="593.0" y="129.5" width="0.7" height="0.7"/><rect x="575.0" y="141.1" width="0.7" height="0.7"/><rect x="570.9" y="142.8" width="0.7" height="0.7"/><rect x="582.4" y="137.2" width="0.7" height="0.7"/><rect x="570.3" y="142.5" width="0.7" height="0.7"/><rect x="571.8" y="142.1" width="0.7" height="0.7"/><rect x="579.2" y="138.7" width="0.7" height="0.7"/><rect x="577.5" y="138.6" width="0.7" height="0.7"/><rect x="583.0" y="139.9" width="0.7" height="0.7"/><rect x="578.4" y="139.5" width="0.7" height="0.7"/><rect x="565.7" y="143.8" width="0.7" height="0.7"/><rect x="587.2" y="133.5" width="0.7" height="0.7"/><rect x="569.5" y="141.4" width="0.7" height="0.7"/><rect x="567.9" y="145.7" width="0.7" height="0.7"/><rect x="573.9" y="142.0" width="0.7" height="0.7"/><rect x="588.6" y="135.0" width="0.7" height="0.7"/><rect x="565.4" y="148.2" width="0.7" height="0.7"/><rect x="576.3" y="141.2" width="0.7" height="0.7"/><rect x="568.3" y="144.4" width="0.7" height="0.7"/><rect x="576.4" y="140.3" width="0.7" height="0.7"/><rect x="582.9" y="137.0" width="0.7" height="0.7"/><rect x="576.0" y="141.4" width="0.7" height="0.7"/><rect x="573.3" y="140.0" width="0.7" height="0.7"/><rect x="577.5" y="140.0" width="0.7" height="0.7"/><rect x="587.2" y="135.6" width="0.7" height="0.7"/><rect x="570.6" y="146.5" width="0.7" height="0.7"/><rect x="570.5" y="146.5" width="0.7" height="0.7"/><rect x="568.9" y="145.4" width="0.7" height="0.7"/><rect x="571.9" y="142.0" width="0.7" height="0.7"/><rect x="579.3" y="137.9" width="0.7" height="0.7"/><rect x="580.8" y="138.0" width="0.7" height="0.7"/><rect x="583.1" y="134.7" width="0.7" height="0.7"/><rect x="590.9" y="132.0" width="0.7" height="0.7"/><rect x="567.8" y="147.8" width="0.7" height="0.7"/><rect x="572.4" y="143.1" width="0.7" height="0.7"/><rect x="585.5" y="133.4" width="0.7" height="0.7"/><rect x="571.7" y="142.1" width="0.7" height="0.7"/><rect x="578.0" y="136.0" width="0.7" height="0.7"/><rect x="590.1" y="133.6" width="0.7" height="0.7"/><rect x="575.8" y="139.1" width="0.7" height="0.7"/><rect x="571.3" y="144.4" width="0.7" height="0.7"/><rect x="568.3" y="145.1" width="0.7" height="0.7"/><rect x="570.7" y="144.3" width="0.7" height="0.7"/><rect x="570.4" y="141.9" width="0.7" height="0.7"/><rect x="567.4" y="145.8" width="0.7" height="0.7"/><rect x="590.4" y="132.6" width="0.7" height="0.7"/><rect x="573.7" y="139.2" width="0.7" height="0.7"/><rect x="586.7" y="132.8" width="0.7" height="0.7"/><rect x="590.9" y="131.6" width="0.7" height="0.7"/><rect x="583.8" y="134.7" width="0.7" height="0.7"/><rect x="565.3" y="141.8" width="0.7" height="0.7"/><rect x="564.4" y="144.9" width="0.7" height="0.7"/><rect x="572.0" y="141.8" width="0.7" height="0.7"/><rect x="579.9" y="139.1" width="0.7" height="0.7"/><rect x="580.8" y="137.7" width="0.7" height="0.7"/><rect x="567.0" y="145.0" width="0.7" height="0.7"/><rect x="570.8" y="145.1" width="0.7" height="0.7"/><rect x="579.9" y="134.1" width="0.7" height="0.7"/><rect x="572.5" y="140.0" width="0.7" height="0.7"/><rect x="586.3" y="135.5" width="0.7" height="0.7"/><rect x="588.6" y="133.9" width="0.7" height="0.7"/><rect x="579.0" y="138.7" width="0.7" height="0.7"/><rect x="574.2" y="140.7" width="0.7" height="0.7"/><rect x="583.2" y="135.1" width="0.7" height="0.7"/><rect x="586.9" y="133.1" width="0.7" height="0.7"/><rect x="577.3" y="141.3" width="0.7" height="0.7"/><rect x="567.1" y="145.8" width="0.7" height="0.7"/><rect x="586.7" y="133.9" width="0.7" height="0.7"/><rect x="581.8" y="135.6" width="0.7" height="0.7"/><rect x="565.5" y="142.4" width="0.7" height="0.7"/><rect x="583.9" y="134.8" width="0.7" height="0.7"/><rect x="566.2" y="139.6" width="0.7" height="0.7"/><rect x="583.4" y="136.5" width="0.7" height="0.7"/><rect x="578.0" y="140.9" width="0.7" height="0.7"/><rect x="573.2" y="140.8" width="0.7" height="0.7"/><rect x="566.4" y="143.6" width="0.7" height="0.7"/><rect x="568.7" y="145.1" width="0.7" height="0.7"/><rect x="579.6" y="138.5" width="0.7" height="0.7"/><rect x="569.1" y="146.2" width="0.7" height="0.7"/><rect x="593.3" y="133.4" width="0.7" height="0.7"/><rect x="570.1" y="145.8" width="0.7" height="0.7"/><rect x="570.4" y="144.5" width="0.7" height="0.7"/><rect x="563.9" y="145.9" width="0.7" height="0.7"/><rect x="579.0" y="137.7" width="0.7" height="0.7"/><rect x="575.7" y="141.0" width="0.7" height="0.7"/><rect x="575.6" y="141.0" width="0.7" height="0.7"/><rect x="571.0" y="144.1" width="0.7" height="0.7"/><rect x="572.0" y="143.9" width="0.7" height="0.7"/><rect x="575.4" y="144.3" width="0.7" height="0.7"/><rect x="568.5" y="148.8" width="0.7" height="0.7"/><rect x="580.8" y="136.7" width="0.7" height="0.7"/><rect x="579.7" y="137.1" width="0.7" height="0.7"/><rect x="585.4" y="137.0" width="0.7" height="0.7"/><rect x="580.4" y="135.2" width="0.7" height="0.7"/><rect x="573.0" y="142.0" width="0.7" height="0.7"/><rect x="570.0" y="145.5" width="0.7" height="0.7"/><rect x="569.1" y="140.8" width="0.7" height="0.7"/><rect x="577.4" y="138.2" width="0.7" height="0.7"/><rect x="582.2" y="138.0" width="0.7" height="0.7"/><rect x="573.4" y="139.8" width="0.7" height="0.7"/><rect x="565.5" y="145.9" width="0.7" height="0.7"/><rect x="585.8" y="135.9" width="0.7" height="0.7"/><rect x="571.2" y="147.6" width="0.7" height="0.7"/><rect x="585.2" y="135.4" width="0.7" height="0.7"/><rect x="566.5" y="143.4" width="0.7" height="0.7"/><rect x="573.8" y="141.5" width="0.7" height="0.7"/><rect x="571.3" y="142.5" width="0.7" height="0.7"/><rect x="564.8" y="147.9" width="0.7" height="0.7"/><rect x="575.3" y="142.9" width="0.7" height="0.7"/><rect x="577.6" y="142.0" width="0.7" height="0.7"/><rect x="587.3" y="130.3" width="0.7" height="0.7"/><rect x="577.2" y="141.2" width="0.7" height="0.7"/><rect x="586.2" y="135.4" width="0.7" height="0.7"/><rect x="574.5" y="140.9" width="0.7" height="0.7"/><rect x="575.6" y="139.5" width="0.7" height="0.7"/><rect x="581.8" y="137.0" width="0.7" height="0.7"/><rect x="587.3" y="134.0" width="0.7" height="0.7"/><rect x="572.1" y="140.4" width="0.7" height="0.7"/><rect x="589.8" y="132.1" width="0.7" height="0.7"/><rect x="579.8" y="137.0" width="0.7" height="0.7"/><rect x="567.2" y="145.7" width="0.7" height="0.7"/><rect x="576.9" y="140.7" width="0.7" height="0.7"/><rect x="577.5" y="138.2" width="0.7" height="0.7"/><rect x="574.3" y="140.2" width="0.7" height="0.7"/><rect x="579.4" y="138.8" width="0.7" height="0.7"/><rect x="569.9" y="144.3" width="0.7" height="0.7"/><rect x="570.4" y="140.4" width="0.7" height="0.7"/><rect x="567.5" y="140.4" width="0.7" height="0.7"/><rect x="565.7" y="140.8" width="0.7" height="0.7"/><rect x="589.5" y="134.4" width="0.7" height="0.7"/><rect x="581.6" y="137.0" width="0.7" height="0.7"/><rect x="569.0" y="145.0" width="0.7" height="0.7"/><rect x="583.6" y="135.7" width="0.7" height="0.7"/><rect x="574.8" y="139.7" width="0.7" height="0.7"/><rect x="578.0" y="139.8" width="0.7" height="0.7"/><rect x="566.8" y="146.3" width="0.7" height="0.7"/><rect x="570.6" y="144.1" width="0.7" height="0.7"/><rect x="582.7" y="136.1" width="0.7" height="0.7"/><rect x="586.6" y="135.8" width="0.7" height="0.7"/><rect x="569.3" y="143.5" width="0.7" height="0.7"/><rect x="566.9" y="143.2" width="0.7" height="0.7"/><rect x="568.6" y="140.9" width="0.7" height="0.7"/><rect x="565.7" y="143.8" width="0.7" height="0.7"/><rect x="565.5" y="146.2" width="0.7" height="0.7"/><rect x="582.9" y="136.8" width="0.7" height="0.7"/><rect x="573.4" y="144.8" width="0.7" height="0.7"/><rect x="568.7" y="143.7" width="0.7" height="0.7"/><rect x="570.4" y="145.9" width="0.7" height="0.7"/><rect x="573.1" y="142.3" width="0.7" height="0.7"/><rect x="588.4" y="132.4" width="0.7" height="0.7"/><rect x="580.8" y="136.5" width="0.7" height="0.7"/><rect x="569.0" y="145.7" width="0.7" height="0.7"/><rect x="576.7" y="139.1" width="0.7" height="0.7"/><rect x="568.8" y="144.6" width="0.7" height="0.7"/><rect x="568.9" y="143.7" width="0.7" height="0.7"/><rect x="572.5" y="140.4" width="0.7" height="0.7"/><rect x="576.2" y="144.5" width="0.7" height="0.7"/><rect x="578.1" y="137.4" width="0.7" height="0.7"/><rect x="591.7" y="132.1" width="0.7" height="0.7"/><rect x="573.7" y="141.8" width="0.7" height="0.7"/><rect x="575.6" y="143.6" width="0.7" height="0.7"/><rect x="572.5" y="144.8" width="0.7" height="0.7"/><rect x="576.5" y="140.1" width="0.7" height="0.7"/><rect x="574.2" y="142.9" width="0.7" height="0.7"/><rect x="574.6" y="138.3" width="0.7" height="0.7"/><rect x="566.9" y="145.6" width="0.7" height="0.7"/><rect x="571.1" y="141.6" width="0.7" height="0.7"/><rect x="568.0" y="142.9" width="0.7" height="0.7"/><rect x="582.5" y="136.5" width="0.7" height="0.7"/><rect x="570.9" y="143.0" width="0.7" height="0.7"/><rect x="580.6" y="138.6" width="0.7" height="0.7"/><rect x="587.5" y="133.2" width="0.7" height="0.7"/><rect x="577.0" y="140.0" width="0.7" height="0.7"/><rect x="581.6" y="135.6" width="0.7" height="0.7"/><rect x="572.9" y="135.8" width="0.7" height="0.7"/><rect x="568.9" y="144.8" width="0.7" height="0.7"/><rect x="587.6" y="135.2" width="0.7" height="0.7"/><rect x="566.8" y="142.4" width="0.7" height="0.7"/><rect x="574.9" y="137.9" width="0.7" height="0.7"/><rect x="589.4" y="132.6" width="0.7" height="0.7"/><rect x="570.1" y="145.1" width="0.7" height="0.7"/><rect x="576.6" y="139.8" width="0.7" height="0.7"/><rect x="566.9" y="149.4" width="0.7" height="0.7"/><rect x="576.6" y="140.3" width="0.7" height="0.7"/><rect x="568.7" y="145.2" width="0.7" height="0.7"/><rect x="580.9" y="136.8" width="0.7" height="0.7"/><rect x="579.8" y="135.9" width="0.7" height="0.7"/><rect x="586.5" y="133.8" width="0.7" height="0.7"/><rect x="567.3" y="144.0" width="0.7" height="0.7"/><rect x="570.2" y="145.0" width="0.7" height="0.7"/><rect x="567.6" y="141.5" width="0.7" height="0.7"/><rect x="583.6" y="134.3" width="0.7" height="0.7"/><rect x="579.2" y="135.1" width="0.7" height="0.7"/><rect x="585.7" y="136.8" width="0.7" height="0.7"/><rect x="572.3" y="141.0" width="0.7" height="0.7"/><rect x="587.4" y="133.1" width="0.7" height="0.7"/><rect x="567.5" y="143.3" width="0.7" height="0.7"/><rect x="564.7" y="148.6" width="0.7" height="0.7"/><rect x="591.0" y="131.3" width="0.7" height="0.7"/><rect x="568.7" y="144.4" width="0.7" height="0.7"/><rect x="571.6" y="143.7" width="0.7" height="0.7"/><rect x="576.4" y="144.7" width="0.7" height="0.7"/><rect x="573.7" y="141.5" width="0.7" height="0.7"/><rect x="584.2" y="134.2" width="0.7" height="0.7"/><rect x="568.2" y="140.4" width="0.7" height="0.7"/><rect x="578.0" y="138.7" width="0.7" height="0.7"/><rect x="571.3" y="143.6" width="0.7" height="0.7"/><rect x="573.8" y="141.5" width="0.7" height="0.7"/><rect x="579.0" y="141.8" width="0.7" height="0.7"/><rect x="571.3" y="143.3" width="0.7" height="0.7"/><rect x="566.5" y="148.2" width="0.7" height="0.7"/><rect x="572.9" y="139.0" width="0.7" height="0.7"/><rect x="577.4" y="138.9" width="0.7" height="0.7"/><rect x="588.8" y="133.8" width="0.7" height="0.7"/><rect x="581.7" y="139.2" width="0.7" height="0.7"/><rect x="577.9" y="138.2" width="0.7" height="0.7"/><rect x="573.8" y="140.6" width="0.7" height="0.7"/><rect x="565.5" y="142.3" width="0.7" height="0.7"/><rect x="576.8" y="137.6" width="0.7" height="0.7"/><rect x="570.9" y="142.4" width="0.7" height="0.7"/><rect x="578.0" y="140.7" width="0.7" height="0.7"/><rect x="572.5" y="141.3" width="0.7" height="0.7"/><rect x="565.8" y="147.4" width="0.7" height="0.7"/><rect x="568.1" y="144.8" width="0.7" height="0.7"/><rect x="567.4" y="144.0" width="0.7" height="0.7"/><rect x="576.7" y="144.2" width="0.7" height="0.7"/><rect x="569.4" y="145.1" width="0.7" height="0.7"/><rect x="589.6" y="131.0" width="0.7" height="0.7"/><rect x="574.5" y="139.1" width="0.7" height="0.7"/><rect x="577.1" y="142.3" width="0.7" height="0.7"/><rect x="580.8" y="135.9" width="0.7" height="0.7"/><rect x="580.4" y="138.9" width="0.7" height="0.7"/><rect x="569.8" y="142.4" width="0.7" height="0.7"/><rect x="582.3" y="136.9" width="0.7" height="0.7"/><rect x="567.8" y="148.9" width="0.7" height="0.7"/><rect x="579.9" y="139.8" width="0.7" height="0.7"/><rect x="579.6" y="140.0" width="0.7" height="0.7"/><rect x="582.8" y="135.5" width="0.7" height="0.7"/><rect x="581.5" y="138.8" width="0.7" height="0.7"/><rect x="586.3" y="134.5" width="0.7" height="0.7"/><rect x="573.1" y="141.2" width="0.7" height="0.7"/><rect x="573.3" y="140.6" width="0.7" height="0.7"/><rect x="570.8" y="143.3" width="0.7" height="0.7"/><rect x="565.3" y="146.6" width="0.7" height="0.7"/><rect x="564.8" y="146.5" width="0.7" height="0.7"/><rect x="566.4" y="145.1" width="0.7" height="0.7"/><rect x="572.3" y="142.1" width="0.7" height="0.7"/><rect x="573.4" y="143.0" width="0.7" height="0.7"/><rect x="585.7" y="133.1" width="0.7" height="0.7"/><rect x="565.5" y="146.5" width="0.7" height="0.7"/><rect x="572.8" y="139.8" width="0.7" height="0.7"/><rect x="576.6" y="141.2" width="0.7" height="0.7"/><rect x="574.1" y="141.2" width="0.7" height="0.7"/><rect x="578.6" y="139.0" width="0.7" height="0.7"/><rect x="581.3" y="137.8" width="0.7" height="0.7"/><rect x="566.1" y="146.6" width="0.7" height="0.7"/><rect x="581.0" y="137.4" width="0.7" height="0.7"/><rect x="578.0" y="138.4" width="0.7" height="0.7"/><rect x="587.7" y="135.2" width="0.7" height="0.7"/><rect x="567.6" y="142.8" width="0.7" height="0.7"/><rect x="570.1" y="143.9" width="0.7" height="0.7"/><rect x="576.2" y="139.6" width="0.7" height="0.7"/><rect x="573.1" y="144.0" width="0.7" height="0.7"/><rect x="568.2" y="146.5" width="0.7" height="0.7"/><rect x="578.9" y="138.1" width="0.7" height="0.7"/><rect x="571.4" y="143.4" width="0.7" height="0.7"/><rect x="592.0" y="132.3" width="0.7" height="0.7"/><rect x="580.9" y="139.5" width="0.7" height="0.7"/><rect x="567.5" y="145.4" width="0.7" height="0.7"/><rect x="570.9" y="140.9" width="0.7" height="0.7"/><rect x="585.7" y="135.5" width="0.7" height="0.7"/><rect x="576.5" y="141.0" width="0.7" height="0.7"/><rect x="577.6" y="140.2" width="0.7" height="0.7"/><rect x="581.5" y="139.6" width="0.7" height="0.7"/><rect x="571.8" y="143.6" width="0.7" height="0.7"/><rect x="590.4" y="132.4" width="0.7" height="0.7"/><rect x="567.0" y="146.7" width="0.7" height="0.7"/><rect x="580.8" y="135.8" width="0.7" height="0.7"/><rect x="584.1" y="136.9" width="0.7" height="0.7"/><rect x="567.7" y="141.9" width="0.7" height="0.7"/><rect x="585.6" y="132.2" width="0.7" height="0.7"/><rect x="580.6" y="136.5" width="0.7" height="0.7"/><rect x="567.1" y="145.9" width="0.7" height="0.7"/><rect x="565.8" y="145.7" width="0.7" height="0.7"/><rect x="590.0" y="133.5" width="0.7" height="0.7"/><rect x="575.7" y="138.2" width="0.7" height="0.7"/><rect x="569.6" y="141.2" width="0.7" height="0.7"/><rect x="572.2" y="137.1" width="0.7" height="0.7"/><rect x="570.7" y="141.8" width="0.7" height="0.7"/><rect x="585.2" y="134.0" width="0.7" height="0.7"/><rect x="565.8" y="144.8" width="0.7" height="0.7"/><rect x="567.8" y="147.2" width="0.7" height="0.7"/><rect x="569.2" y="145.5" width="0.7" height="0.7"/><rect x="570.8" y="140.8" width="0.7" height="0.7"/><rect x="576.8" y="140.3" width="0.7" height="0.7"/><rect x="584.7" y="137.4" width="0.7" height="0.7"/><rect x="581.7" y="137.4" width="0.7" height="0.7"/><rect x="579.7" y="140.2" width="0.7" height="0.7"/><rect x="590.5" y="130.9" width="0.7" height="0.7"/><rect x="570.1" y="143.1" width="0.7" height="0.7"/><rect x="578.9" y="136.4" width="0.7" height="0.7"/><rect x="568.8" y="140.9" width="0.7" height="0.7"/><rect x="592.7" y="131.0" width="0.7" height="0.7"/><rect x="582.0" y="137.4" width="0.7" height="0.7"/><rect x="587.2" y="131.9" width="0.7" height="0.7"/><rect x="583.7" y="138.8" width="0.7" height="0.7"/><rect x="588.5" y="132.7" width="0.7" height="0.7"/><rect x="566.3" y="144.2" width="0.7" height="0.7"/><rect x="575.4" y="142.6" width="0.7" height="0.7"/><rect x="565.2" y="146.5" width="0.7" height="0.7"/><rect x="566.1" y="141.3" width="0.7" height="0.7"/><rect x="584.4" y="136.4" width="0.7" height="0.7"/><rect x="566.7" y="144.7" width="0.7" height="0.7"/><rect x="577.1" y="138.4" width="0.7" height="0.7"/><rect x="570.6" y="142.2" width="0.7" height="0.7"/><rect x="566.0" y="143.5" width="0.7" height="0.7"/><rect x="579.5" y="137.6" width="0.7" height="0.7"/><rect x="588.3" y="135.4" width="0.7" height="0.7"/><rect x="581.0" y="136.8" width="0.7" height="0.7"/><rect x="573.9" y="141.2" width="0.7" height="0.7"/><rect x="582.3" y="135.4" width="0.7" height="0.7"/><rect x="577.5" y="137.6" width="0.7" height="0.7"/><rect x="574.2" y="140.8" width="0.7" height="0.7"/><rect x="587.3" y="134.8" width="0.7" height="0.7"/><rect x="583.4" y="136.5" width="0.7" height="0.7"/><rect x="582.7" y="135.8" width="0.7" height="0.7"/><rect x="567.4" y="146.1" width="0.7" height="0.7"/><rect x="564.6" y="146.2" width="0.7" height="0.7"/><rect x="566.6" y="143.0" width="0.7" height="0.7"/><rect x="581.3" y="136.6" width="0.7" height="0.7"/><rect x="586.0" y="137.0" width="0.7" height="0.7"/><rect x="564.5" y="144.2" width="0.7" height="0.7"/><rect x="571.6" y="144.3" width="0.7" height="0.7"/><rect x="577.1" y="138.2" width="0.7" height="0.7"/><rect x="569.0" y="143.7" width="0.7" height="0.7"/><rect x="566.4" y="145.4" width="0.7" height="0.7"/><rect x="579.5" y="137.2" width="0.7" height="0.7"/><rect x="580.3" y="135.9" width="0.7" height="0.7"/><rect x="575.3" y="141.2" width="0.7" height="0.7"/><rect x="574.7" y="140.7" width="0.7" height="0.7"/><rect x="584.5" y="136.0" width="0.7" height="0.7"/><rect x="563.1" y="147.8" width="0.7" height="0.7"/><rect x="566.0" y="146.0" width="0.7" height="0.7"/><rect x="568.0" y="146.4" width="0.7" height="0.7"/><rect x="586.3" y="133.5" width="0.7" height="0.7"/><rect x="582.7" y="135.9" width="0.7" height="0.7"/><rect x="567.3" y="143.3" width="0.7" height="0.7"/><rect x="578.9" y="138.6" width="0.7" height="0.7"/><rect x="580.7" y="138.4" width="0.7" height="0.7"/><rect x="575.3" y="141.6" width="0.7" height="0.7"/><rect x="583.0" y="137.9" width="0.7" height="0.7"/><rect x="585.6" y="133.3" width="0.7" height="0.7"/><rect x="572.7" y="143.9" width="0.7" height="0.7"/><rect x="584.7" y="135.9" width="0.7" height="0.7"/><rect x="580.1" y="138.9" width="0.7" height="0.7"/><rect x="569.0" y="144.5" width="0.7" height="0.7"/><rect x="579.6" y="138.5" width="0.7" height="0.7"/><rect x="566.6" y="146.3" width="0.7" height="0.7"/><rect x="567.7" y="149.1" width="0.7" height="0.7"/><rect x="591.7" y="131.0" width="0.7" height="0.7"/><rect x="569.1" y="143.6" width="0.7" height="0.7"/><rect x="578.3" y="139.2" width="0.7" height="0.7"/><rect x="565.3" y="145.9" width="0.7" height="0.7"/><rect x="585.7" y="136.5" width="0.7" height="0.7"/><rect x="585.8" y="133.5" width="0.7" height="0.7"/><rect x="566.7" y="141.4" width="0.7" height="0.7"/><rect x="571.9" y="141.3" width="0.7" height="0.7"/><rect x="577.6" y="139.3" width="0.7" height="0.7"/><rect x="574.5" y="141.0" width="0.7" height="0.7"/><rect x="564.4" y="144.5" width="0.7" height="0.7"/><rect x="589.7" y="133.0" width="0.7" height="0.7"/><rect x="567.4" y="144.4" width="0.7" height="0.7"/><rect x="568.1" y="146.8" width="0.7" height="0.7"/><rect x="588.1" y="135.5" width="0.7" height="0.7"/><rect x="571.7" y="141.6" width="0.7" height="0.7"/><rect x="582.6" y="135.9" width="0.7" height="0.7"/><rect x="567.5" y="144.9" width="0.7" height="0.7"/><rect x="572.0" y="142.2" width="0.7" height="0.7"/><rect x="579.4" y="136.9" width="0.7" height="0.7"/><rect x="582.0" y="136.5" width="0.7" height="0.7"/><rect x="574.3" y="142.4" width="0.7" height="0.7"/><rect x="581.8" y="138.0" width="0.7" height="0.7"/><rect x="568.1" y="144.0" width="0.7" height="0.7"/><rect x="584.6" y="138.7" width="0.7" height="0.7"/><rect x="580.2" y="141.1" width="0.7" height="0.7"/><rect x="573.7" y="142.5" width="0.7" height="0.7"/><rect x="570.8" y="144.0" width="0.7" height="0.7"/><rect x="569.4" y="145.3" width="0.7" height="0.7"/><rect x="567.4" y="140.1" width="0.7" height="0.7"/><rect x="590.4" y="133.4" width="0.7" height="0.7"/><rect x="577.9" y="139.4" width="0.7" height="0.7"/><rect x="589.2" y="131.1" width="0.7" height="0.7"/><rect x="586.4" y="138.0" width="0.7" height="0.7"/><rect x="564.0" y="147.1" width="0.7" height="0.7"/><rect x="568.6" y="143.5" width="0.7" height="0.7"/><rect x="567.1" y="142.7" width="0.7" height="0.7"/><rect x="574.8" y="143.1" width="0.7" height="0.7"/><rect x="568.7" y="140.2" width="0.7" height="0.7"/><rect x="572.3" y="143.2" width="0.7" height="0.7"/><rect x="574.4" y="139.7" width="0.7" height="0.7"/><rect x="568.1" y="141.8" width="0.7" height="0.7"/><rect x="592.3" y="133.5" width="0.7" height="0.7"/><rect x="571.1" y="139.1" width="0.7" height="0.7"/><rect x="587.1" y="132.7" width="0.7" height="0.7"/><rect x="577.7" y="138.7" width="0.7" height="0.7"/><rect x="573.2" y="140.8" width="0.7" height="0.7"/><rect x="572.6" y="140.8" width="0.7" height="0.7"/><rect x="580.3" y="137.9" width="0.7" height="0.7"/><rect x="581.1" y="140.4" width="0.7" height="0.7"/><rect x="574.9" y="140.6" width="0.7" height="0.7"/><rect x="565.8" y="148.3" width="0.7" height="0.7"/><rect x="577.8" y="137.0" width="0.7" height="0.7"/><rect x="570.3" y="145.2" width="0.7" height="0.7"/><rect x="576.6" y="137.5" width="0.7" height="0.7"/><rect x="565.1" y="145.0" width="0.7" height="0.7"/><rect x="585.9" y="136.3" width="0.7" height="0.7"/><rect x="574.8" y="139.9" width="0.7" height="0.7"/><rect x="578.9" y="140.6" width="0.7" height="0.7"/><rect x="575.0" y="141.5" width="0.7" height="0.7"/><rect x="573.1" y="140.3" width="0.7" height="0.7"/><rect x="577.4" y="139.1" width="0.7" height="0.7"/><rect x="567.2" y="142.1" width="0.7" height="0.7"/><rect x="586.2" y="136.2" width="0.7" height="0.7"/><rect x="566.7" y="148.8" width="0.7" height="0.7"/><rect x="576.4" y="144.6" width="0.7" height="0.7"/><rect x="588.1" y="130.7" width="0.7" height="0.7"/><rect x="572.8" y="142.2" width="0.7" height="0.7"/><rect x="578.5" y="138.9" width="0.7" height="0.7"/><rect x="586.7" y="134.6" width="0.7" height="0.7"/><rect x="577.2" y="138.7" width="0.7" height="0.7"/><rect x="589.9" y="133.8" width="0.7" height="0.7"/><rect x="571.2" y="140.3" width="0.7" height="0.7"/><rect x="581.8" y="140.0" width="0.7" height="0.7"/><rect x="566.5" y="144.6" width="0.7" height="0.7"/><rect x="569.1" y="144.1" width="0.7" height="0.7"/><rect x="567.2" y="145.0" width="0.7" height="0.7"/><rect x="584.1" y="135.7" width="0.7" height="0.7"/><rect x="583.4" y="135.5" width="0.7" height="0.7"/><rect x="572.9" y="143.7" width="0.7" height="0.7"/><rect x="586.4" y="133.8" width="0.7" height="0.7"/><rect x="567.8" y="147.2" width="0.7" height="0.7"/><rect x="582.4" y="135.3" width="0.7" height="0.7"/><rect x="570.4" y="143.8" width="0.7" height="0.7"/><rect x="570.8" y="145.9" width="0.7" height="0.7"/><rect x="585.7" y="135.1" width="0.7" height="0.7"/><rect x="570.7" y="142.5" width="0.7" height="0.7"/><rect x="571.3" y="141.3" width="0.7" height="0.7"/><rect x="584.1" y="136.3" width="0.7" height="0.7"/><rect x="571.6" y="144.6" width="0.7" height="0.7"/><rect x="579.9" y="137.5" width="0.7" height="0.7"/><rect x="574.9" y="139.2" width="0.7" height="0.7"/><rect x="570.1" y="144.4" width="0.7" height="0.7"/><rect x="566.4" y="145.9" width="0.7" height="0.7"/><rect x="566.2" y="144.3" width="0.7" height="0.7"/><rect x="586.0" y="134.5" width="0.7" height="0.7"/><rect x="582.4" y="133.9" width="0.7" height="0.7"/><rect x="574.5" y="141.6" width="0.7" height="0.7"/><rect x="574.5" y="141.4" width="0.7" height="0.7"/><rect x="584.3" y="134.1" width="0.7" height="0.7"/><rect x="583.8" y="136.4" width="0.7" height="0.7"/><rect x="566.0" y="149.1" width="0.7" height="0.7"/></g>
<g fill="#6a6a98" opacity="0.7"><rect x="595.4" y="129.6" width="0.5" height="0.5"/><rect x="584.2" y="137.4" width="0.5" height="0.5"/><rect x="570.6" y="139.9" width="0.5" height="0.5"/><rect x="602.1" y="131.4" width="0.5" height="0.5"/><rect x="585.4" y="137.8" width="0.5" height="0.5"/><rect x="579.2" y="137.1" width="0.5" height="0.5"/><rect x="584.1" y="132.4" width="0.5" height="0.5"/><rect x="594.9" y="131.9" width="0.5" height="0.5"/><rect x="603.5" y="126.7" width="0.5" height="0.5"/><rect x="567.3" y="148.6" width="0.5" height="0.5"/><rect x="570.4" y="144.1" width="0.5" height="0.5"/><rect x="562.1" y="149.0" width="0.5" height="0.5"/><rect x="572.6" y="142.3" width="0.5" height="0.5"/><rect x="571.1" y="144.6" width="0.5" height="0.5"/><rect x="576.9" y="140.1" width="0.5" height="0.5"/><rect x="597.0" y="127.2" width="0.5" height="0.5"/><rect x="562.7" y="152.8" width="0.5" height="0.5"/><rect x="582.5" y="143.5" width="0.5" height="0.5"/><rect x="601.6" y="132.6" width="0.5" height="0.5"/><rect x="587.2" y="137.8" width="0.5" height="0.5"/><rect x="586.3" y="130.9" width="0.5" height="0.5"/><rect x="587.4" y="135.7" width="0.5" height="0.5"/><rect x="565.3" y="140.3" width="0.5" height="0.5"/><rect x="603.8" y="132.2" width="0.5" height="0.5"/><rect x="568.3" y="144.7" width="0.5" height="0.5"/><rect x="600.1" y="125.0" width="0.5" height="0.5"/><rect x="579.8" y="138.2" width="0.5" height="0.5"/><rect x="585.3" y="133.6" width="0.5" height="0.5"/><rect x="581.6" y="142.5" width="0.5" height="0.5"/><rect x="571.1" y="144.6" width="0.5" height="0.5"/><rect x="586.9" y="131.5" width="0.5" height="0.5"/><rect x="597.9" y="128.4" width="0.5" height="0.5"/><rect x="585.4" y="138.5" width="0.5" height="0.5"/><rect x="570.2" y="144.7" width="0.5" height="0.5"/><rect x="598.6" y="128.9" width="0.5" height="0.5"/><rect x="568.6" y="139.9" width="0.5" height="0.5"/><rect x="565.8" y="147.8" width="0.5" height="0.5"/><rect x="591.0" y="137.8" width="0.5" height="0.5"/><rect x="569.5" y="139.6" width="0.5" height="0.5"/><rect x="578.7" y="138.8" width="0.5" height="0.5"/><rect x="575.1" y="136.9" width="0.5" height="0.5"/><rect x="603.9" y="124.3" width="0.5" height="0.5"/><rect x="588.0" y="126.9" width="0.5" height="0.5"/><rect x="602.9" y="126.3" width="0.5" height="0.5"/><rect x="584.2" y="136.6" width="0.5" height="0.5"/><rect x="595.5" y="136.9" width="0.5" height="0.5"/><rect x="579.0" y="139.4" width="0.5" height="0.5"/><rect x="601.7" y="132.2" width="0.5" height="0.5"/><rect x="595.3" y="136.3" width="0.5" height="0.5"/><rect x="585.3" y="135.8" width="0.5" height="0.5"/><rect x="579.8" y="140.1" width="0.5" height="0.5"/><rect x="583.9" y="137.8" width="0.5" height="0.5"/><rect x="583.7" y="138.1" width="0.5" height="0.5"/><rect x="578.9" y="141.1" width="0.5" height="0.5"/><rect x="583.2" y="137.6" width="0.5" height="0.5"/><rect x="556.6" y="142.6" width="0.5" height="0.5"/><rect x="572.5" y="143.2" width="0.5" height="0.5"/><rect x="588.7" y="132.9" width="0.5" height="0.5"/><rect x="563.4" y="147.5" width="0.5" height="0.5"/><rect x="575.5" y="141.2" width="0.5" height="0.5"/><rect x="599.5" y="130.2" width="0.5" height="0.5"/><rect x="600.4" y="125.3" width="0.5" height="0.5"/><rect x="596.4" y="131.8" width="0.5" height="0.5"/><rect x="599.0" y="127.9" width="0.5" height="0.5"/><rect x="564.7" y="141.7" width="0.5" height="0.5"/><rect x="587.8" y="141.4" width="0.5" height="0.5"/><rect x="576.6" y="146.1" width="0.5" height="0.5"/><rect x="571.0" y="145.7" width="0.5" height="0.5"/><rect x="604.5" y="129.8" width="0.5" height="0.5"/><rect x="597.7" y="133.2" width="0.5" height="0.5"/></g>
<g filter="url(#bl4)">
<path d="M551 137.4 Q569.6 125.6 591.6 106.3 Q578 126.5 564 150 L551 150 Z" fill="#1e1e5e"/>
<path d="M551 138.9 Q568.8 127.6 588.2 110.2 Q576.5 127.5 562.6 150 L551 150 Z" fill="#358a30"/>
<path d="M551 140.6 Q567 130.6 584.4 114.4 Q574.5 129 562.2 146.4 Q560.3 149.2 556.8 149.3 L551 149.3 Z" fill="#d6cf34"/>
<path d="M554.6 142.6 Q566 134 577.4 122.6 Q570.5 133 562 143.4 Q558.8 147.2 555.6 146.8 Q552.8 146 554.6 142.6 Z" fill="#dc3a1c"/>
</g>
</g>
<path d="M562.7 149.4 L610.4 100.2 V149.4" fill="none" stroke="#333" stroke-width="0.6"/>
<text x="603.20" y="93.10" font-size="8" fill="#111">B:1.21%</text>
<rect x="352.6" y="63.5" width="85.8" height="86.1" fill="none" stroke="#777" stroke-width="0.6"/>
<rect x="452.4" y="63.5" width="85.8" height="86.1" fill="none" stroke="#777" stroke-width="0.6"/>
<rect x="551.8" y="63.5" width="85.8" height="86.1" fill="none" stroke="#777" stroke-width="0.6"/>
</g>
<g id="panelC">
<text x="5.40" y="219.30" font-size="13" font-weight="bold" stroke="#000" stroke-width="0.35">C</text>
<text x="23.4" y="246" font-size="11.35" font-weight="bold">global correlation of gene expression (<tspan font-style="italic">Pitx3</tspan><tspan font-style="italic" font-size="6.6" font-weight="normal" dy="-3.9">Gfp/+</tspan><tspan dy="3.9"> )</tspan></text>
<defs><clipPath id="cc00"><rect x="13.10" y="267.40" width="42.4" height="21.1"/></clipPath><clipPath id="cc01"><rect x="60.05" y="267.40" width="42.4" height="21.1"/></clipPath><clipPath id="cc02"><rect x="107.00" y="267.40" width="42.4" height="21.1"/></clipPath><clipPath id="cc03"><rect x="153.95" y="267.40" width="42.4" height="21.1"/></clipPath><clipPath id="cc04"><rect x="200.90" y="267.40" width="42.4" height="21.1"/></clipPath><clipPath id="cc05"><rect x="247.85" y="267.40" width="42.4" height="21.1"/></clipPath><clipPath id="cc10"><rect x="13.10" y="293.18" width="42.4" height="21.1"/></clipPath><clipPath id="cc11"><rect x="60.05" y="293.18" width="42.4" height="21.1"/></clipPath><clipPath id="cc12"><rect x="107.00" y="293.18" width="42.4" height="21.1"/></clipPath><clipPath id="cc13"><rect x="153.95" y="293.18" width="42.4" height="21.1"/></clipPath><clipPath id="cc14"><rect x="200.90" y="293.18" width="42.4" height="21.1"/></clipPath><clipPath id="cc15"><rect x="247.85" y="293.18" width="42.4" height="21.1"/></clipPath><clipPath id="cc20"><rect x="13.10" y="318.96" width="42.4" height="21.1"/></clipPath><clipPath id="cc21"><rect x="60.05" y="318.96" width="42.4" height="21.1"/></clipPath><clipPath id="cc22"><rect x="107.00" y="318.96" width="42.4" height="21.1"/></clipPath><clipPath id="cc23"><rect x="153.95" y="318.96" width="42.4" height="21.1"/></clipPath><clipPath id="cc24"><rect x="200.90" y="318.96" width="42.4" height="21.1"/></clipPath><clipPath id="cc25"><rect x="247.85" y="318.96" width="42.4" height="21.1"/></clipPath><clipPath id="cc30"><rect x="13.10" y="344.74" width="42.4" height="21.1"/></clipPath><clipPath id="cc31"><rect x="60.05" y="344.74" width="42.4" height="21.1"/></clipPath><clipPath id="cc32"><rect x="107.00" y="344.74" width="42.4" height="21.1"/></clipPath><clipPath id="cc33"><rect x="153.95" y="344.74" width="42.4" height="21.1"/></clipPath><clipPath id="cc34"><rect x="200.90" y="344.74" width="42.4" height="21.1"/></clipPath><clipPath id="cc35"><rect x="247.85" y="344.74" width="42.4" height="21.1"/></clipPath><clipPath id="cc40"><rect x="13.10" y="370.52" width="42.4" height="21.1"/></clipPath><clipPath id="cc41"><rect x="60.05" y="370.52" width="42.4" height="21.1"/></clipPath><clipPath id="cc42"><rect x="107.00" y="370.52" width="42.4" height="21.1"/></clipPath><clipPath id="cc43"><rect x="153.95" y="370.52" width="42.4" height="21.1"/></clipPath><clipPath id="cc44"><rect x="200.90" y="370.52" width="42.4" height="21.1"/></clipPath><clipPath id="cc45"><rect x="247.85" y="370.52" width="42.4" height="21.1"/></clipPath><clipPath id="cc50"><rect x="13.10" y="396.30" width="42.4" height="21.1"/></clipPath><clipPath id="cc51"><rect x="60.05" y="396.30" width="42.4" height="21.1"/></clipPath><clipPath id="cc52"><rect x="107.00" y="396.30" width="42.4" height="21.1"/></clipPath><clipPath id="cc53"><rect x="153.95" y="396.30" width="42.4" height="21.1"/></clipPath><clipPath id="cc54"><rect x="200.90" y="396.30" width="42.4" height="21.1"/></clipPath><clipPath id="cc55"><rect x="247.85" y="396.30" width="42.4" height="21.1"/></clipPath><filter id="rough" x="-5%" y="-20%" width="110%" height="140%"><feTurbulence type="fractalNoise" baseFrequency="0.7" numOctaves="2" seed="11" result="n"/><feDisplacementMap in="SourceGraphic" in2="n" scale="2.4" xChannelSelector="R" yChannelSelector="G"/></filter></defs>
<text x="34.30" y="280.75" font-size="8.0" font-weight="bold" text-anchor="middle">E12.5</text>
<rect x="13.10" y="267.40" width="42.4" height="21.1" fill="none" stroke="#888" stroke-width="0.7"/>
<text x="81.25" y="283.77" font-size="16.2" text-anchor="middle" fill="#111">0.95</text>
<rect x="60.05" y="267.40" width="42.4" height="21.1" fill="none" stroke="#888" stroke-width="0.7"/>
<text x="128.20" y="283.58" font-size="15.7" text-anchor="middle" fill="#111">0.92</text>
<rect x="107.00" y="267.40" width="42.4" height="21.1" fill="none" stroke="#888" stroke-width="0.7"/>
<text x="175.15" y="283.58" font-size="15.7" text-anchor="middle" fill="#111">0.92</text>
<rect x="153.95" y="267.40" width="42.4" height="21.1" fill="none" stroke="#888" stroke-width="0.7"/>
<text x="222.10" y="282.42" font-size="12.5" text-anchor="middle" fill="#111">0.73</text>
<rect x="200.90" y="267.40" width="42.4" height="21.1" fill="none" stroke="#888" stroke-width="0.7"/>
<text x="269.05" y="281.99" font-size="11.3" text-anchor="middle" fill="#111">0.66</text>
<rect x="247.85" y="267.40" width="42.4" height="21.1" fill="none" stroke="#888" stroke-width="0.7"/>
<g clip-path="url(#cc10)">
<g filter="url(#rough)"><g transform="translate(34.30 304.03) rotate(-24.9)"><ellipse cx="0" cy="0" rx="21.5" ry="2.23" fill="#000"/><ellipse cx="-1.5" cy="0" rx="14.5" ry="3.1" fill="#000"/></g></g>
<g fill="none" stroke="#000" stroke-width="0.35"><circle cx="45.6" cy="297.4" r="0.7"/><circle cx="19.0" cy="305.3" r="0.7"/><circle cx="49.9" cy="293.2" r="0.7"/><circle cx="33.2" cy="308.7" r="0.7"/><circle cx="50.0" cy="294.3" r="0.7"/><circle cx="20.3" cy="310.3" r="0.7"/><circle cx="34.2" cy="305.6" r="0.7"/><circle cx="49.3" cy="297.6" r="0.7"/><circle cx="37.3" cy="303.6" r="0.7"/><circle cx="33.5" cy="302.7" r="0.7"/><circle cx="33.0" cy="306.2" r="0.7"/><circle cx="51.2" cy="297.7" r="0.7"/><circle cx="43.2" cy="295.5" r="0.7"/><circle cx="48.7" cy="297.0" r="0.7"/><circle cx="52.5" cy="294.7" r="0.7"/><circle cx="49.2" cy="296.5" r="0.7"/></g>
<path d="M13.6 313.5 L55.0 294.1" fill="none" stroke="#e02020" stroke-width="0.6"/>
</g>
<rect x="13.10" y="293.18" width="42.4" height="21.1" fill="none" stroke="#888" stroke-width="0.7"/>
<text x="81.25" y="306.53" font-size="8.0" font-weight="bold" text-anchor="middle">E13.5</text>
<rect x="60.05" y="293.18" width="42.4" height="21.1" fill="none" stroke="#888" stroke-width="0.7"/>
<text x="128.20" y="309.73" font-size="16.8" text-anchor="middle" fill="#111">0.98</text>
<rect x="107.00" y="293.18" width="42.4" height="21.1" fill="none" stroke="#888" stroke-width="0.7"/>
<text x="175.15" y="309.55" font-size="16.2" text-anchor="middle" fill="#111">0.95</text>
<rect x="153.95" y="293.18" width="42.4" height="21.1" fill="none" stroke="#888" stroke-width="0.7"/>
<text x="222.10" y="308.02" font-size="12.0" text-anchor="middle" fill="#111">0.70</text>
<rect x="200.90" y="293.18" width="42.4" height="21.1" fill="none" stroke="#888" stroke-width="0.7"/>
<text x="269.05" y="307.46" font-size="10.4" text-anchor="middle" fill="#111">0.61</text>
<rect x="247.85" y="293.18" width="42.4" height="21.1" fill="none" stroke="#888" stroke-width="0.7"/>
<g clip-path="url(#cc20)">
<g filter="url(#rough)"><g transform="translate(34.30 329.81) rotate(-24.9)"><ellipse cx="0" cy="0" rx="21.5" ry="2.66" fill="#000"/><ellipse cx="-1.5" cy="0" rx="14.5" ry="3.7" fill="#000"/></g></g>
<g fill="none" stroke="#000" stroke-width="0.35"><circle cx="20.9" cy="335.7" r="0.7"/><circle cx="34.8" cy="331.3" r="0.7"/><circle cx="37.6" cy="324.0" r="0.7"/><circle cx="19.9" cy="337.0" r="0.7"/><circle cx="43.0" cy="322.5" r="0.7"/><circle cx="47.6" cy="322.8" r="0.7"/><circle cx="51.9" cy="331.1" r="0.7"/><circle cx="17.1" cy="332.2" r="0.7"/><circle cx="29.8" cy="328.8" r="0.7"/><circle cx="44.1" cy="326.0" r="0.7"/><circle cx="50.5" cy="325.1" r="0.7"/><circle cx="53.0" cy="324.5" r="0.7"/><circle cx="49.8" cy="320.9" r="0.7"/><circle cx="32.6" cy="330.8" r="0.7"/><circle cx="35.0" cy="329.7" r="0.7"/><circle cx="25.5" cy="331.2" r="0.7"/></g>
<path d="M13.6 339.3 L55.0 319.9" fill="none" stroke="#e02020" stroke-width="0.6"/>
</g>
<rect x="13.10" y="318.96" width="42.4" height="21.1" fill="none" stroke="#888" stroke-width="0.7"/>
<g clip-path="url(#cc21)">
<g filter="url(#rough)"><g transform="translate(81.25 329.81) rotate(-24.9)"><ellipse cx="0" cy="0" rx="21.5" ry="1.66" fill="#000"/><ellipse cx="-1.5" cy="0" rx="14.5" ry="2.3" fill="#000"/></g></g>
<g fill="none" stroke="#000" stroke-width="0.35"><circle cx="100.6" cy="323.9" r="0.7"/><circle cx="65.0" cy="337.0" r="0.7"/><circle cx="91.3" cy="320.4" r="0.7"/><circle cx="70.2" cy="336.9" r="0.7"/><circle cx="96.3" cy="322.8" r="0.7"/><circle cx="64.7" cy="337.7" r="0.7"/><circle cx="64.3" cy="332.4" r="0.7"/><circle cx="75.4" cy="336.1" r="0.7"/><circle cx="89.9" cy="328.3" r="0.7"/><circle cx="82.8" cy="329.4" r="0.7"/><circle cx="65.2" cy="334.6" r="0.7"/><circle cx="74.3" cy="331.4" r="0.7"/><circle cx="94.5" cy="323.1" r="0.7"/><circle cx="65.5" cy="335.5" r="0.7"/><circle cx="63.3" cy="337.3" r="0.7"/><circle cx="100.0" cy="324.3" r="0.7"/></g>
<path d="M60.6 339.3 L102.0 319.9" fill="none" stroke="#e02020" stroke-width="0.6"/>
</g>
<rect x="60.05" y="318.96" width="42.4" height="21.1" fill="none" stroke="#888" stroke-width="0.7"/>
<text x="128.20" y="332.31" font-size="8.0" font-weight="bold" text-anchor="middle">E14.5</text>
<rect x="107.00" y="318.96" width="42.4" height="21.1" fill="none" stroke="#888" stroke-width="0.7"/>
<text x="175.15" y="335.33" font-size="16.2" text-anchor="middle" fill="#111">0.95</text>
<rect x="153.95" y="318.96" width="42.4" height="21.1" fill="none" stroke="#888" stroke-width="0.7"/>
<text x="222.10" y="333.80" font-size="12.0" text-anchor="middle" fill="#111">0.70</text>
<rect x="200.90" y="318.96" width="42.4" height="21.1" fill="none" stroke="#888" stroke-width="0.7"/>
<text x="269.05" y="333.37" font-size="10.8" text-anchor="middle" fill="#111">0.63</text>
<rect x="247.85" y="318.96" width="42.4" height="21.1" fill="none" stroke="#888" stroke-width="0.7"/>
<g clip-path="url(#cc30)">
<g filter="url(#rough)"><g transform="translate(34.30 355.59) rotate(-24.9)"><ellipse cx="0" cy="0" rx="21.5" ry="2.66" fill="#000"/><ellipse cx="-1.5" cy="0" rx="14.5" ry="3.7" fill="#000"/></g></g>
<g fill="none" stroke="#000" stroke-width="0.35"><circle cx="53.1" cy="348.1" r="0.7"/><circle cx="46.0" cy="348.6" r="0.7"/><circle cx="44.8" cy="338.5" r="0.7"/><circle cx="38.3" cy="355.6" r="0.7"/><circle cx="19.0" cy="362.6" r="0.7"/><circle cx="38.7" cy="355.2" r="0.7"/><circle cx="39.3" cy="353.4" r="0.7"/><circle cx="14.7" cy="363.7" r="0.7"/><circle cx="53.2" cy="346.6" r="0.7"/><circle cx="49.0" cy="351.6" r="0.7"/><circle cx="18.8" cy="364.4" r="0.7"/><circle cx="36.8" cy="346.6" r="0.7"/><circle cx="38.6" cy="358.4" r="0.7"/><circle cx="38.9" cy="353.4" r="0.7"/><circle cx="45.1" cy="348.6" r="0.7"/><circle cx="23.2" cy="360.1" r="0.7"/></g>
<path d="M13.6 365.0 L55.0 345.6" fill="none" stroke="#e02020" stroke-width="0.6"/>
</g>
<rect x="13.10" y="344.74" width="42.4" height="21.1" fill="none" stroke="#888" stroke-width="0.7"/>
<g clip-path="url(#cc31)">
<g filter="url(#rough)"><g transform="translate(81.25 355.59) rotate(-24.9)"><ellipse cx="0" cy="0" rx="21.5" ry="2.23" fill="#000"/><ellipse cx="-1.5" cy="0" rx="14.5" ry="3.1" fill="#000"/></g></g>
<g fill="none" stroke="#000" stroke-width="0.35"><circle cx="87.4" cy="353.8" r="0.7"/><circle cx="71.3" cy="360.5" r="0.7"/><circle cx="93.1" cy="347.2" r="0.7"/><circle cx="99.8" cy="346.1" r="0.7"/><circle cx="84.5" cy="354.1" r="0.7"/><circle cx="95.5" cy="352.9" r="0.7"/><circle cx="76.0" cy="353.9" r="0.7"/><circle cx="100.7" cy="348.1" r="0.7"/><circle cx="86.8" cy="354.5" r="0.7"/><circle cx="74.1" cy="362.2" r="0.7"/><circle cx="80.2" cy="355.6" r="0.7"/><circle cx="81.6" cy="354.5" r="0.7"/><circle cx="73.8" cy="354.0" r="0.7"/><circle cx="79.9" cy="352.5" r="0.7"/><circle cx="86.4" cy="352.4" r="0.7"/><circle cx="81.7" cy="357.4" r="0.7"/></g>
<path d="M60.6 365.0 L102.0 345.6" fill="none" stroke="#e02020" stroke-width="0.6"/>
</g>
<rect x="60.05" y="344.74" width="42.4" height="21.1" fill="none" stroke="#888" stroke-width="0.7"/>
<g clip-path="url(#cc32)">
<g filter="url(#rough)"><g transform="translate(128.20 355.59) rotate(-24.9)"><ellipse cx="0" cy="0" rx="21.5" ry="2.23" fill="#000"/><ellipse cx="-1.5" cy="0" rx="14.5" ry="3.1" fill="#000"/></g></g>
<g fill="none" stroke="#000" stroke-width="0.35"><circle cx="129.5" cy="355.6" r="0.7"/><circle cx="128.2" cy="360.5" r="0.7"/><circle cx="122.4" cy="357.8" r="0.7"/><circle cx="144.3" cy="354.0" r="0.7"/><circle cx="145.7" cy="347.4" r="0.7"/><circle cx="133.5" cy="354.1" r="0.7"/><circle cx="109.2" cy="366.7" r="0.7"/><circle cx="121.7" cy="354.6" r="0.7"/><circle cx="125.9" cy="355.6" r="0.7"/><circle cx="122.8" cy="356.0" r="0.7"/><circle cx="139.7" cy="348.4" r="0.7"/><circle cx="112.3" cy="358.7" r="0.7"/><circle cx="116.9" cy="360.3" r="0.7"/><circle cx="133.8" cy="353.6" r="0.7"/><circle cx="131.1" cy="357.5" r="0.7"/><circle cx="144.9" cy="346.0" r="0.7"/></g>
<path d="M107.5 365.0 L148.9 345.6" fill="none" stroke="#e02020" stroke-width="0.6"/>
</g>
<rect x="107.00" y="344.74" width="42.4" height="21.1" fill="none" stroke="#888" stroke-width="0.7"/>
<text x="175.15" y="358.09" font-size="8.0" font-weight="bold" text-anchor="middle">E15.5</text>
<rect x="153.95" y="344.74" width="42.4" height="21.1" fill="none" stroke="#888" stroke-width="0.7"/>
<text x="222.10" y="360.19" font-size="13.7" text-anchor="middle" fill="#111">0.80</text>
<rect x="200.90" y="344.74" width="42.4" height="21.1" fill="none" stroke="#888" stroke-width="0.7"/>
<text x="269.05" y="359.15" font-size="10.8" text-anchor="middle" fill="#111">0.63</text>
<rect x="247.85" y="344.74" width="42.4" height="21.1" fill="none" stroke="#888" stroke-width="0.7"/>
<g clip-path="url(#cc40)">
<g filter="url(#rough)"><g transform="translate(34.30 381.67) rotate(-16.5)"><ellipse cx="0" cy="0" rx="19.5" ry="5.3" fill="#000"/><ellipse cx="0.5" cy="-0.3" rx="12" ry="6.5" fill="#000"/></g></g>
<g fill="none" stroke="#000" stroke-width="0.35"><circle cx="33.0" cy="378.1" r="0.7"/><circle cx="32.8" cy="381.2" r="0.7"/><circle cx="52.2" cy="375.1" r="0.7"/><circle cx="28.3" cy="383.0" r="0.7"/><circle cx="21.9" cy="381.4" r="0.7"/><circle cx="33.3" cy="377.9" r="0.7"/><circle cx="51.8" cy="375.7" r="0.7"/><circle cx="15.1" cy="385.4" r="0.7"/><circle cx="42.5" cy="373.4" r="0.7"/><circle cx="34.3" cy="377.6" r="0.7"/><circle cx="15.3" cy="379.5" r="0.7"/><circle cx="38.5" cy="382.1" r="0.7"/><circle cx="15.6" cy="393.5" r="0.7"/><circle cx="36.1" cy="386.9" r="0.7"/><circle cx="20.5" cy="382.9" r="0.7"/><circle cx="49.3" cy="367.1" r="0.7"/><circle cx="40.3" cy="379.8" r="0.7"/><circle cx="32.8" cy="379.9" r="0.7"/><circle cx="47.0" cy="375.8" r="0.7"/><circle cx="49.3" cy="378.3" r="0.7"/><circle cx="42.7" cy="379.9" r="0.7"/><circle cx="36.6" cy="380.4" r="0.7"/><circle cx="52.9" cy="368.8" r="0.7"/><circle cx="18.1" cy="380.4" r="0.7"/><circle cx="37.4" cy="381.7" r="0.7"/><circle cx="19.9" cy="389.1" r="0.7"/></g>
<path d="M15.1 387.1 Q34.3 380.6 53.5 375.5" fill="none" stroke="#e02020" stroke-width="0.6"/>
</g>
<rect x="13.10" y="370.52" width="42.4" height="21.1" fill="none" stroke="#888" stroke-width="0.7"/>
<g clip-path="url(#cc41)">
<g filter="url(#rough)"><g transform="translate(81.25 381.67) rotate(-16.5)"><ellipse cx="0" cy="0" rx="19.5" ry="5.3" fill="#000"/><ellipse cx="0.5" cy="-0.3" rx="12" ry="6.5" fill="#000"/></g></g>
<g fill="none" stroke="#000" stroke-width="0.35"><circle cx="79.8" cy="387.4" r="0.7"/><circle cx="87.3" cy="380.9" r="0.7"/><circle cx="97.8" cy="376.0" r="0.7"/><circle cx="96.4" cy="374.6" r="0.7"/><circle cx="83.0" cy="385.0" r="0.7"/><circle cx="64.1" cy="384.6" r="0.7"/><circle cx="89.6" cy="384.0" r="0.7"/><circle cx="82.9" cy="391.3" r="0.7"/><circle cx="97.7" cy="372.1" r="0.7"/><circle cx="87.9" cy="379.1" r="0.7"/><circle cx="89.9" cy="375.1" r="0.7"/><circle cx="78.0" cy="382.9" r="0.7"/><circle cx="90.1" cy="378.6" r="0.7"/><circle cx="80.6" cy="383.7" r="0.7"/><circle cx="87.7" cy="382.1" r="0.7"/><circle cx="100.6" cy="376.3" r="0.7"/><circle cx="71.7" cy="384.6" r="0.7"/><circle cx="64.3" cy="382.9" r="0.7"/><circle cx="80.7" cy="386.2" r="0.7"/><circle cx="62.7" cy="381.6" r="0.7"/><circle cx="89.6" cy="374.9" r="0.7"/><circle cx="88.0" cy="375.6" r="0.7"/><circle cx="82.1" cy="383.4" r="0.7"/><circle cx="66.0" cy="391.8" r="0.7"/><circle cx="73.5" cy="386.8" r="0.7"/><circle cx="81.7" cy="376.6" r="0.7"/></g>
<path d="M62.1 387.1 Q81.2 380.6 100.5 375.5" fill="none" stroke="#e02020" stroke-width="0.6"/>
</g>
<rect x="60.05" y="370.52" width="42.4" height="21.1" fill="none" stroke="#888" stroke-width="0.7"/>
<g clip-path="url(#cc42)">
<g filter="url(#rough)"><g transform="translate(128.20 381.67) rotate(-16.5)"><ellipse cx="0" cy="0" rx="19.5" ry="5.3" fill="#000"/><ellipse cx="0.5" cy="-0.3" rx="12" ry="6.5" fill="#000"/></g></g>
<g fill="none" stroke="#000" stroke-width="0.35"><circle cx="136.8" cy="374.2" r="0.7"/><circle cx="130.3" cy="380.6" r="0.7"/><circle cx="108.6" cy="386.6" r="0.7"/><circle cx="148.5" cy="375.6" r="0.7"/><circle cx="144.9" cy="374.4" r="0.7"/><circle cx="142.8" cy="374.4" r="0.7"/><circle cx="119.3" cy="385.9" r="0.7"/><circle cx="132.5" cy="374.0" r="0.7"/><circle cx="138.1" cy="377.1" r="0.7"/><circle cx="129.9" cy="388.4" r="0.7"/><circle cx="138.7" cy="379.4" r="0.7"/><circle cx="124.5" cy="379.5" r="0.7"/><circle cx="122.5" cy="390.5" r="0.7"/><circle cx="135.8" cy="382.6" r="0.7"/><circle cx="127.8" cy="372.9" r="0.7"/><circle cx="110.6" cy="384.2" r="0.7"/><circle cx="122.4" cy="380.9" r="0.7"/><circle cx="128.1" cy="376.3" r="0.7"/><circle cx="118.3" cy="385.3" r="0.7"/><circle cx="121.7" cy="389.3" r="0.7"/><circle cx="146.1" cy="384.5" r="0.7"/><circle cx="119.0" cy="377.5" r="0.7"/><circle cx="128.8" cy="384.0" r="0.7"/><circle cx="110.8" cy="389.0" r="0.7"/><circle cx="128.3" cy="387.9" r="0.7"/><circle cx="122.6" cy="380.9" r="0.7"/></g>
<path d="M109.0 387.1 Q128.2 380.6 147.4 375.5" fill="none" stroke="#e02020" stroke-width="0.6"/>
</g>
<rect x="107.00" y="370.52" width="42.4" height="21.1" fill="none" stroke="#888" stroke-width="0.7"/>
<g clip-path="url(#cc43)">
<g filter="url(#rough)"><g transform="translate(175.15 381.67) rotate(-16.5)"><ellipse cx="0" cy="0" rx="19.5" ry="5.3" fill="#000"/><ellipse cx="0.5" cy="-0.3" rx="12" ry="6.5" fill="#000"/></g></g>
<g fill="none" stroke="#000" stroke-width="0.35"><circle cx="166.0" cy="385.2" r="0.7"/><circle cx="189.3" cy="376.0" r="0.7"/><circle cx="189.7" cy="385.8" r="0.7"/><circle cx="181.1" cy="383.5" r="0.7"/><circle cx="170.6" cy="377.4" r="0.7"/><circle cx="176.3" cy="383.3" r="0.7"/><circle cx="190.2" cy="379.2" r="0.7"/><circle cx="155.0" cy="385.2" r="0.7"/><circle cx="186.6" cy="373.8" r="0.7"/><circle cx="157.7" cy="381.7" r="0.7"/><circle cx="157.8" cy="389.8" r="0.7"/><circle cx="174.0" cy="379.0" r="0.7"/><circle cx="194.6" cy="376.9" r="0.7"/><circle cx="157.2" cy="392.4" r="0.7"/><circle cx="177.7" cy="380.1" r="0.7"/><circle cx="185.8" cy="375.2" r="0.7"/><circle cx="194.4" cy="378.4" r="0.7"/><circle cx="193.5" cy="368.7" r="0.7"/><circle cx="184.0" cy="370.8" r="0.7"/><circle cx="187.7" cy="374.8" r="0.7"/><circle cx="180.4" cy="378.1" r="0.7"/><circle cx="168.5" cy="380.9" r="0.7"/><circle cx="168.0" cy="388.0" r="0.7"/><circle cx="166.6" cy="378.1" r="0.7"/><circle cx="195.4" cy="376.0" r="0.7"/><circle cx="168.1" cy="383.9" r="0.7"/></g>
<path d="M156.0 387.1 Q175.2 380.6 194.4 375.5" fill="none" stroke="#e02020" stroke-width="0.6"/>
</g>
<rect x="153.95" y="370.52" width="42.4" height="21.1" fill="none" stroke="#888" stroke-width="0.7"/>
<text x="222.10" y="383.87" font-size="8.0" font-weight="bold" text-anchor="middle">P0</text>
<rect x="200.90" y="370.52" width="42.4" height="21.1" fill="none" stroke="#888" stroke-width="0.7"/>
<text x="269.05" y="384.44" font-size="9.4" text-anchor="middle" fill="#111">0.55</text>
<rect x="247.85" y="370.52" width="42.4" height="21.1" fill="none" stroke="#888" stroke-width="0.7"/>
<g clip-path="url(#cc50)">
<g filter="url(#rough)"><g transform="translate(34.30 408.05) rotate(-18.0)"><ellipse cx="0" cy="0" rx="18.5" ry="3.7" fill="#000"/><ellipse cx="2" cy="-1.8" rx="9.5" ry="5.9" fill="#000"/><ellipse cx="-8" cy="1" rx="10" ry="4.1" fill="#000"/></g></g>
<g fill="none" stroke="#000" stroke-width="0.35"><circle cx="17.4" cy="417.1" r="0.7"/><circle cx="29.8" cy="407.2" r="0.7"/><circle cx="48.5" cy="395.5" r="0.7"/><circle cx="31.9" cy="406.5" r="0.7"/><circle cx="32.7" cy="410.9" r="0.7"/><circle cx="35.3" cy="405.5" r="0.7"/><circle cx="33.4" cy="408.7" r="0.7"/><circle cx="34.6" cy="408.7" r="0.7"/><circle cx="46.2" cy="401.0" r="0.7"/><circle cx="51.7" cy="401.0" r="0.7"/><circle cx="19.8" cy="413.3" r="0.7"/><circle cx="40.3" cy="403.7" r="0.7"/><circle cx="20.1" cy="411.9" r="0.7"/><circle cx="44.5" cy="407.6" r="0.7"/><circle cx="31.7" cy="403.9" r="0.7"/><circle cx="35.1" cy="408.7" r="0.7"/><circle cx="25.5" cy="412.9" r="0.7"/><circle cx="19.6" cy="411.5" r="0.7"/><circle cx="36.2" cy="401.9" r="0.7"/><circle cx="15.9" cy="419.4" r="0.7"/><circle cx="41.4" cy="397.6" r="0.7"/><circle cx="26.3" cy="417.4" r="0.7"/><circle cx="31.6" cy="405.6" r="0.7"/><circle cx="25.5" cy="415.1" r="0.7"/><circle cx="41.1" cy="398.4" r="0.7"/><circle cx="26.0" cy="413.6" r="0.7"/></g>
<path d="M15.1 414.4 Q34.3 405.3 53.5 402.5" fill="none" stroke="#e02020" stroke-width="0.6"/>
</g>
<rect x="13.10" y="396.30" width="42.4" height="21.1" fill="none" stroke="#888" stroke-width="0.7"/>
<g clip-path="url(#cc51)">
<g filter="url(#rough)"><g transform="translate(81.25 408.05) rotate(-18.0)"><ellipse cx="0" cy="0" rx="18.5" ry="3.7" fill="#000"/><ellipse cx="2" cy="-1.8" rx="9.5" ry="5.9" fill="#000"/><ellipse cx="-8" cy="1" rx="10" ry="4.1" fill="#000"/></g></g>
<g fill="none" stroke="#000" stroke-width="0.35"><circle cx="79.5" cy="400.9" r="0.7"/><circle cx="87.3" cy="402.1" r="0.7"/><circle cx="78.4" cy="409.8" r="0.7"/><circle cx="67.1" cy="413.3" r="0.7"/><circle cx="68.6" cy="414.2" r="0.7"/><circle cx="74.9" cy="415.2" r="0.7"/><circle cx="97.6" cy="401.1" r="0.7"/><circle cx="68.6" cy="414.9" r="0.7"/><circle cx="67.0" cy="409.8" r="0.7"/><circle cx="71.3" cy="405.3" r="0.7"/><circle cx="93.7" cy="400.1" r="0.7"/><circle cx="85.6" cy="401.1" r="0.7"/><circle cx="87.5" cy="402.7" r="0.7"/><circle cx="75.8" cy="409.6" r="0.7"/><circle cx="99.1" cy="395.8" r="0.7"/><circle cx="64.8" cy="417.5" r="0.7"/><circle cx="92.2" cy="405.5" r="0.7"/><circle cx="76.1" cy="405.6" r="0.7"/><circle cx="81.8" cy="406.6" r="0.7"/><circle cx="66.4" cy="415.4" r="0.7"/><circle cx="88.7" cy="393.1" r="0.7"/><circle cx="99.7" cy="399.3" r="0.7"/><circle cx="96.2" cy="409.1" r="0.7"/><circle cx="62.2" cy="411.1" r="0.7"/><circle cx="66.4" cy="421.3" r="0.7"/><circle cx="85.9" cy="403.8" r="0.7"/></g>
<path d="M62.1 414.4 Q81.2 405.3 100.5 402.5" fill="none" stroke="#e02020" stroke-width="0.6"/>
</g>
<rect x="60.05" y="396.30" width="42.4" height="21.1" fill="none" stroke="#888" stroke-width="0.7"/>
<g clip-path="url(#cc52)">
<g filter="url(#rough)"><g transform="translate(128.20 408.05) rotate(-18.0)"><ellipse cx="0" cy="0" rx="18.5" ry="3.7" fill="#000"/><ellipse cx="2" cy="-1.8" rx="9.5" ry="5.9" fill="#000"/><ellipse cx="-8" cy="1" rx="10" ry="4.1" fill="#000"/></g></g>
<g fill="none" stroke="#000" stroke-width="0.35"><circle cx="133.0" cy="400.8" r="0.7"/><circle cx="114.0" cy="414.0" r="0.7"/><circle cx="130.1" cy="405.8" r="0.7"/><circle cx="143.0" cy="403.5" r="0.7"/><circle cx="131.2" cy="408.3" r="0.7"/><circle cx="131.3" cy="403.1" r="0.7"/><circle cx="119.3" cy="411.7" r="0.7"/><circle cx="134.1" cy="402.0" r="0.7"/><circle cx="130.4" cy="405.2" r="0.7"/><circle cx="127.7" cy="408.6" r="0.7"/><circle cx="129.1" cy="407.7" r="0.7"/><circle cx="115.6" cy="408.9" r="0.7"/><circle cx="120.4" cy="410.8" r="0.7"/><circle cx="133.6" cy="401.8" r="0.7"/><circle cx="109.5" cy="419.9" r="0.7"/><circle cx="128.1" cy="410.3" r="0.7"/><circle cx="112.7" cy="402.4" r="0.7"/><circle cx="123.8" cy="410.2" r="0.7"/><circle cx="130.5" cy="401.4" r="0.7"/><circle cx="109.9" cy="416.2" r="0.7"/><circle cx="143.5" cy="397.5" r="0.7"/><circle cx="119.6" cy="408.1" r="0.7"/><circle cx="115.7" cy="419.3" r="0.7"/><circle cx="123.3" cy="405.3" r="0.7"/><circle cx="132.3" cy="402.5" r="0.7"/><circle cx="109.5" cy="412.9" r="0.7"/></g>
<path d="M109.0 414.4 Q128.2 405.3 147.4 402.5" fill="none" stroke="#e02020" stroke-width="0.6"/>
</g>
<rect x="107.00" y="396.30" width="42.4" height="21.1" fill="none" stroke="#888" stroke-width="0.7"/>
<g clip-path="url(#cc53)">
<g filter="url(#rough)"><g transform="translate(175.15 408.05) rotate(-18.0)"><ellipse cx="0" cy="0" rx="18.5" ry="3.7" fill="#000"/><ellipse cx="2" cy="-1.8" rx="9.5" ry="5.9" fill="#000"/><ellipse cx="-8" cy="1" rx="10" ry="4.1" fill="#000"/></g></g>
<g fill="none" stroke="#000" stroke-width="0.35"><circle cx="184.6" cy="406.3" r="0.7"/><circle cx="155.8" cy="418.9" r="0.7"/><circle cx="156.0" cy="417.3" r="0.7"/><circle cx="179.7" cy="410.7" r="0.7"/><circle cx="194.8" cy="396.6" r="0.7"/><circle cx="155.7" cy="409.6" r="0.7"/><circle cx="193.5" cy="391.3" r="0.7"/><circle cx="156.8" cy="414.3" r="0.7"/><circle cx="188.6" cy="398.8" r="0.7"/><circle cx="171.4" cy="408.7" r="0.7"/><circle cx="158.2" cy="410.5" r="0.7"/><circle cx="183.2" cy="402.3" r="0.7"/><circle cx="162.1" cy="409.5" r="0.7"/><circle cx="183.6" cy="398.0" r="0.7"/><circle cx="193.2" cy="398.2" r="0.7"/><circle cx="171.0" cy="414.8" r="0.7"/><circle cx="190.9" cy="404.3" r="0.7"/><circle cx="179.1" cy="398.7" r="0.7"/><circle cx="165.6" cy="420.1" r="0.7"/><circle cx="193.1" cy="393.8" r="0.7"/><circle cx="168.7" cy="412.2" r="0.7"/><circle cx="188.7" cy="395.8" r="0.7"/><circle cx="187.2" cy="398.1" r="0.7"/><circle cx="187.0" cy="403.7" r="0.7"/><circle cx="181.3" cy="395.9" r="0.7"/><circle cx="156.4" cy="411.7" r="0.7"/></g>
<path d="M156.0 414.4 Q175.2 405.3 194.4 402.5" fill="none" stroke="#e02020" stroke-width="0.6"/>
</g>
<rect x="153.95" y="396.30" width="42.4" height="21.1" fill="none" stroke="#888" stroke-width="0.7"/>
<g clip-path="url(#cc54)">
<g filter="url(#rough)"><g transform="translate(222.10 408.05) rotate(-18.0)"><ellipse cx="0" cy="0" rx="18.5" ry="3.8" fill="#000"/><ellipse cx="2" cy="-1.8" rx="9.5" ry="6.2" fill="#000"/><ellipse cx="-8" cy="1" rx="10" ry="4.3" fill="#000"/></g></g>
<g fill="none" stroke="#000" stroke-width="0.35"><circle cx="202.6" cy="412.2" r="0.7"/><circle cx="235.8" cy="402.2" r="0.7"/><circle cx="205.6" cy="415.3" r="0.7"/><circle cx="207.5" cy="410.2" r="0.7"/><circle cx="232.3" cy="401.1" r="0.7"/><circle cx="225.9" cy="401.3" r="0.7"/><circle cx="224.2" cy="411.0" r="0.7"/><circle cx="223.7" cy="404.6" r="0.7"/><circle cx="220.6" cy="401.7" r="0.7"/><circle cx="206.6" cy="416.2" r="0.7"/><circle cx="229.8" cy="410.7" r="0.7"/><circle cx="223.8" cy="403.0" r="0.7"/><circle cx="216.2" cy="410.6" r="0.7"/><circle cx="223.7" cy="407.4" r="0.7"/><circle cx="237.3" cy="403.0" r="0.7"/><circle cx="232.1" cy="401.0" r="0.7"/><circle cx="234.4" cy="393.6" r="0.7"/><circle cx="209.6" cy="412.6" r="0.7"/><circle cx="215.5" cy="402.3" r="0.7"/><circle cx="220.1" cy="407.0" r="0.7"/><circle cx="214.2" cy="412.8" r="0.7"/><circle cx="218.9" cy="404.8" r="0.7"/><circle cx="211.0" cy="404.1" r="0.7"/><circle cx="216.6" cy="409.7" r="0.7"/><circle cx="228.6" cy="403.7" r="0.7"/><circle cx="240.6" cy="399.9" r="0.7"/></g>
<path d="M202.9 414.4 Q222.1 405.3 241.3 402.5" fill="none" stroke="#e02020" stroke-width="0.6"/>
</g>
<rect x="200.90" y="396.30" width="42.4" height="21.1" fill="none" stroke="#888" stroke-width="0.7"/>
<text x="269.05" y="409.65" font-size="8.0" font-weight="bold" text-anchor="middle">mdDA.iPSC</text>
<rect x="247.85" y="396.30" width="42.4" height="21.1" fill="none" stroke="#888" stroke-width="0.7"/>
<g stroke="#333" stroke-width="0.45" fill="none"><path d="M63.5 267.1 H99.8"/><path d="M63.5 267.1 v-2"/><path d="M69.5 267.1 v-2"/><path d="M75.5 267.1 v-2"/><path d="M81.6 267.1 v-2"/><path d="M87.7 267.1 v-2"/><path d="M93.7 267.1 v-2"/><path d="M99.8 267.1 v-2"/><path d="M157.4 267.1 H193.7"/><path d="M157.4 267.1 v-2"/><path d="M163.4 267.1 v-2"/><path d="M169.5 267.1 v-2"/><path d="M175.5 267.1 v-2"/><path d="M181.6 267.1 v-2"/><path d="M187.6 267.1 v-2"/><path d="M193.7 267.1 v-2"/><path d="M255.8 267.1 H282.2"/><path d="M255.8 267.1 v-2"/><path d="M269.1 267.1 v-2"/><path d="M282.2 267.1 v-2"/><path d="M16.5 417.7 H52.8"/><path d="M16.5 417.7 v2"/><path d="M22.6 417.7 v2"/><path d="M28.6 417.7 v2"/><path d="M34.6 417.7 v2"/><path d="M40.7 417.7 v2"/><path d="M46.8 417.7 v2"/><path d="M52.8 417.7 v2"/><path d="M110.4 417.7 H146.7"/><path d="M110.4 417.7 v2"/><path d="M116.5 417.7 v2"/><path d="M122.5 417.7 v2"/><path d="M128.6 417.7 v2"/><path d="M134.6 417.7 v2"/><path d="M140.7 417.7 v2"/><path d="M146.7 417.7 v2"/><path d="M206.4 417.7 H238.0"/><path d="M206.4 417.7 v2"/><path d="M214.3 417.7 v2"/><path d="M222.2 417.7 v2"/><path d="M230.1 417.7 v2"/><path d="M238.0 417.7 v2"/><path d="M12.8 297.8 V312.5"/><path d="M12.8 297.8 h-2"/><path d="M12.8 300.7 h-2"/><path d="M12.8 303.7 h-2"/><path d="M12.8 306.6 h-2"/><path d="M12.8 309.5 h-2"/><path d="M12.8 312.5 h-2"/><path d="M12.8 349.3 V364.0"/><path d="M12.8 349.3 h-2"/><path d="M12.8 352.3 h-2"/><path d="M12.8 355.2 h-2"/><path d="M12.8 358.2 h-2"/><path d="M12.8 361.1 h-2"/><path d="M12.8 364.0 h-2"/><path d="M12.8 400.9 V415.6"/><path d="M12.8 400.9 h-2"/><path d="M12.8 403.8 h-2"/><path d="M12.8 406.8 h-2"/><path d="M12.8 409.7 h-2"/><path d="M12.8 412.7 h-2"/><path d="M12.8 415.6 h-2"/><path d="M290.6 271.6 V284.6"/><path d="M290.6 271.6 h2"/><path d="M290.6 274.2 h2"/><path d="M290.6 276.8 h2"/><path d="M290.6 279.4 h2"/><path d="M290.6 282.0 h2"/><path d="M290.6 284.6 h2"/><path d="M290.6 323.2 V336.2"/><path d="M290.6 323.2 h2"/><path d="M290.6 325.8 h2"/><path d="M290.6 328.4 h2"/><path d="M290.6 331.0 h2"/><path d="M290.6 333.6 h2"/><path d="M290.6 336.2 h2"/><path d="M290.6 374.7 V387.7"/><path d="M290.6 374.7 h2"/><path d="M290.6 377.3 h2"/><path d="M290.6 379.9 h2"/><path d="M290.6 382.5 h2"/><path d="M290.6 385.1 h2"/><path d="M290.6 387.7 h2"/></g>
<text x="63.45" y="262.20" font-size="3.9" text-anchor="middle" fill="#111">-6</text>
<text x="75.55" y="262.20" font-size="3.9" text-anchor="middle" fill="#111">-2</text>
<text x="87.65" y="262.20" font-size="3.9" text-anchor="middle" fill="#111">2</text>
<text x="93.70" y="262.20" font-size="3.9" text-anchor="middle" fill="#111">4</text>
<text x="99.75" y="262.20" font-size="3.9" text-anchor="middle" fill="#111">6</text>
<text x="157.35" y="262.20" font-size="3.9" text-anchor="middle" fill="#111">-6</text>
<text x="169.45" y="262.20" font-size="3.9" text-anchor="middle" fill="#111">-2</text>
<text x="175.50" y="262.20" font-size="3.9" text-anchor="middle" fill="#111">0</text>
<text x="181.55" y="262.20" font-size="3.9" text-anchor="middle" fill="#111">2</text>
<text x="187.60" y="262.20" font-size="3.9" text-anchor="middle" fill="#111">4</text>
<text x="193.65" y="262.20" font-size="3.9" text-anchor="middle" fill="#111">6</text>
<text x="255.85" y="262.20" font-size="3.9" text-anchor="middle" fill="#111">-5</text>
<text x="269.05" y="262.20" font-size="3.9" text-anchor="middle" fill="#111">0</text>
<text x="282.25" y="262.20" font-size="3.9" text-anchor="middle" fill="#111">5</text>
<text x="16.50" y="424.30" font-size="3.9" text-anchor="middle" fill="#111">-6</text>
<text x="28.60" y="424.30" font-size="3.9" text-anchor="middle" fill="#111">-2</text>
<text x="34.65" y="424.30" font-size="3.9" text-anchor="middle" fill="#111">0</text>
<text x="40.70" y="424.30" font-size="3.9" text-anchor="middle" fill="#111">2</text>
<text x="46.75" y="424.30" font-size="3.9" text-anchor="middle" fill="#111">4</text>
<text x="52.80" y="424.30" font-size="3.9" text-anchor="middle" fill="#111">6</text>
<text x="110.40" y="424.30" font-size="3.9" text-anchor="middle" fill="#111">-6</text>
<text x="122.50" y="424.30" font-size="3.9" text-anchor="middle" fill="#111">-2</text>
<text x="128.55" y="424.30" font-size="3.9" text-anchor="middle" fill="#111">0</text>
<text x="134.60" y="424.30" font-size="3.9" text-anchor="middle" fill="#111">2</text>
<text x="140.65" y="424.30" font-size="3.9" text-anchor="middle" fill="#111">4</text>
<text x="146.70" y="424.30" font-size="3.9" text-anchor="middle" fill="#111">6</text>
<text x="206.40" y="424.30" font-size="3.9" text-anchor="middle" fill="#111">-4</text>
<text x="214.30" y="424.30" font-size="3.9" text-anchor="middle" fill="#111">-2</text>
<text x="222.20" y="424.30" font-size="3.9" text-anchor="middle" fill="#111">0</text>
<text x="230.10" y="424.30" font-size="3.9" text-anchor="middle" fill="#111">2</text>
<text x="238.00" y="424.30" font-size="3.9" text-anchor="middle" fill="#111">4</text>
<text x="7.80" y="297.78" font-size="3.9" text-anchor="middle" fill="#111" transform="rotate(-90 7.80 297.78)">4</text>
<text x="7.80" y="305.06" font-size="3.9" text-anchor="middle" fill="#111" transform="rotate(-90 7.80 305.06)">0</text>
<text x="7.80" y="312.48" font-size="3.9" text-anchor="middle" fill="#111" transform="rotate(-90 7.80 312.48)">-4</text>
<text x="7.80" y="349.34" font-size="3.9" text-anchor="middle" fill="#111" transform="rotate(-90 7.80 349.34)">4</text>
<text x="7.80" y="356.62" font-size="3.9" text-anchor="middle" fill="#111" transform="rotate(-90 7.80 356.62)">0</text>
<text x="7.80" y="364.04" font-size="3.9" text-anchor="middle" fill="#111" transform="rotate(-90 7.80 364.04)">-4</text>
<text x="7.80" y="400.90" font-size="3.9" text-anchor="middle" fill="#111" transform="rotate(-90 7.80 400.90)">4</text>
<text x="7.80" y="408.18" font-size="3.9" text-anchor="middle" fill="#111" transform="rotate(-90 7.80 408.18)">0</text>
<text x="7.80" y="415.60" font-size="3.9" text-anchor="middle" fill="#111" transform="rotate(-90 7.80 415.60)">-4</text>
<text x="297.35" y="271.60" font-size="3.9" text-anchor="middle" fill="#111" transform="rotate(-90 297.35 271.60)">4</text>
<text x="297.35" y="278.10" font-size="3.9" text-anchor="middle" fill="#111" transform="rotate(-90 297.35 278.10)">0</text>
<text x="297.35" y="284.60" font-size="3.9" text-anchor="middle" fill="#111" transform="rotate(-90 297.35 284.60)">-4</text>
<text x="297.35" y="323.16" font-size="3.9" text-anchor="middle" fill="#111" transform="rotate(-90 297.35 323.16)">4</text>
<text x="297.35" y="329.66" font-size="3.9" text-anchor="middle" fill="#111" transform="rotate(-90 297.35 329.66)">0</text>
<text x="297.35" y="336.16" font-size="3.9" text-anchor="middle" fill="#111" transform="rotate(-90 297.35 336.16)">-4</text>
<text x="297.35" y="374.72" font-size="3.9" text-anchor="middle" fill="#111" transform="rotate(-90 297.35 374.72)">4</text>
<text x="297.35" y="381.22" font-size="3.9" text-anchor="middle" fill="#111" transform="rotate(-90 297.35 381.22)">0</text>
<text x="297.35" y="387.72" font-size="3.9" text-anchor="middle" fill="#111" transform="rotate(-90 297.35 387.72)">-4</text>
</g>
<g id="panelD">
<defs><linearGradient id="cbar" x1="0" x2="1" y1="0" y2="0"><stop offset="0" stop-color="#78c83c"/><stop offset="0.12" stop-color="#5aa030"/><stop offset="0.5" stop-color="#000"/><stop offset="0.88" stop-color="#a02222"/><stop offset="1" stop-color="#d23030"/></linearGradient></defs>
<text x="5.40" y="479.40" font-size="13" font-weight="bold" stroke="#000" stroke-width="0.35">D</text>
<text x="127.00" y="487.60" font-size="11.4" font-weight="bold" text-anchor="middle">mdDA specific gene subset</text>
<rect x="38" y="498.8" width="180" height="8.6" fill="url(#cbar)"/>
<text x="38.40" y="517.20" font-size="6.7" fill="#222" letter-spacing="0.75">-2.3</text>
<text x="122.20" y="517.20" font-size="6.7" fill="#222" letter-spacing="0.75">0.0</text>
<text x="202.40" y="517.20" font-size="6.7" fill="#222" letter-spacing="0.75">5.48</text>
<text x="59.60" y="577.00" font-size="9.9" fill="#111" transform="rotate(-90 59.60 577.00)">P0</text>
<text x="87.70" y="577.00" font-size="9.9" fill="#111" transform="rotate(-90 87.70 577.00)">E12.5</text>
<text x="117.60" y="577.00" font-size="9.9" fill="#111" transform="rotate(-90 117.60 577.00)">E13.5</text>
<text x="148.40" y="577.00" font-size="9.9" fill="#111" transform="rotate(-90 148.40 577.00)">E14.5</text>
<text x="179.70" y="577.00" font-size="9.9" fill="#111" transform="rotate(-90 179.70 577.00)">E15.5</text>
<text x="205.80" y="577.00" font-size="9.9" fill="#111" transform="rotate(-90 205.80 577.00)">mdDA.iPSC</text>
<g fill="none" stroke="#4a4a8c" stroke-width="0.75" transform="translate(0.6 0)"><path d="M82.5 596.2 V594 H112.5 V596.2"/><path d="M142.5 596.2 V594 H172.5 V596.2"/><path d="M97.5 594 V591.6 H157.5 V594"/><path d="M127.5 591.6 V587.2 H202.5 V596.2"/><path d="M52.5 596.2 V581.4 H165 V587.2"/></g>
<rect x="37.5" y="596.2" width="179.70" height="280.50" fill="#050505"/>
<g shape-rendering="crispEdges"><rect x="37.50" y="596.20" width="30.00" height="6.02" fill="#3a1010"/><rect x="67.45" y="596.20" width="30.00" height="6.02" fill="#8a1a1e"/><rect x="97.40" y="596.20" width="30.00" height="6.02" fill="#8a1a1e"/><rect x="127.35" y="596.20" width="30.00" height="6.02" fill="#5a1014"/><rect x="157.30" y="596.20" width="30.00" height="6.02" fill="#7a181c"/><rect x="187.25" y="596.20" width="30.00" height="6.02" fill="#1a0808"/><rect x="37.50" y="602.17" width="30.00" height="6.02" fill="#140808"/><rect x="67.45" y="602.17" width="30.00" height="6.02" fill="#4a1012"/><rect x="97.40" y="602.17" width="30.00" height="6.02" fill="#6a1418"/><rect x="127.35" y="602.17" width="30.00" height="6.02" fill="#6a1418"/><rect x="157.30" y="602.17" width="30.00" height="6.02" fill="#5a1216"/><rect x="187.25" y="602.17" width="30.00" height="6.02" fill="#0a0404"/><rect x="37.50" y="608.14" width="30.00" height="6.02" fill="#0c0606"/><rect x="67.45" y="608.14" width="30.00" height="6.02" fill="#3a0c10"/><rect x="97.40" y="608.14" width="30.00" height="6.02" fill="#701418"/><rect x="127.35" y="608.14" width="30.00" height="6.02" fill="#701418"/><rect x="157.30" y="608.14" width="30.00" height="6.02" fill="#601216"/><rect x="187.25" y="608.14" width="30.00" height="6.02" fill="#100606"/><rect x="37.50" y="614.10" width="30.00" height="6.02" fill="#2a0c0e"/><rect x="67.45" y="614.10" width="30.00" height="6.02" fill="#8a1a1e"/><rect x="97.40" y="614.10" width="30.00" height="6.02" fill="#8a1a1e"/><rect x="127.35" y="614.10" width="30.00" height="6.02" fill="#80181c"/><rect x="157.30" y="614.10" width="30.00" height="6.02" fill="#701418"/><rect x="187.25" y="614.10" width="30.00" height="6.02" fill="#2a0a0c"/><rect x="37.50" y="620.07" width="30.00" height="6.02" fill="#401012"/><rect x="67.45" y="620.07" width="30.00" height="6.02" fill="#701418"/><rect x="97.40" y="620.07" width="30.00" height="6.02" fill="#78161a"/><rect x="127.35" y="620.07" width="30.00" height="6.02" fill="#78161a"/><rect x="157.30" y="620.07" width="30.00" height="6.02" fill="#6a1418"/><rect x="187.25" y="620.07" width="30.00" height="6.02" fill="#501014"/><rect x="37.50" y="626.04" width="30.00" height="6.02" fill="#300c0e"/><rect x="67.45" y="626.04" width="30.00" height="6.02" fill="#981e22"/><rect x="97.40" y="626.04" width="30.00" height="6.02" fill="#961e22"/><rect x="127.35" y="626.04" width="30.00" height="6.02" fill="#941e22"/><rect x="157.30" y="626.04" width="30.00" height="6.02" fill="#8a1c20"/><rect x="187.25" y="626.04" width="30.00" height="6.02" fill="#c02828"/><rect x="37.50" y="632.01" width="30.00" height="6.02" fill="#6a1418"/><rect x="67.45" y="632.01" width="30.00" height="6.02" fill="#c82828"/><rect x="97.40" y="632.01" width="30.00" height="6.02" fill="#c02626"/><rect x="127.35" y="632.01" width="30.00" height="6.02" fill="#c02626"/><rect x="157.30" y="632.01" width="30.00" height="6.02" fill="#b02224"/><rect x="187.25" y="632.01" width="30.00" height="6.02" fill="#d83030"/><rect x="37.50" y="637.98" width="30.00" height="6.02" fill="#5a1216"/><rect x="67.45" y="637.98" width="30.00" height="6.02" fill="#c02626"/><rect x="97.40" y="637.98" width="30.00" height="6.02" fill="#c02626"/><rect x="127.35" y="637.98" width="30.00" height="6.02" fill="#b82426"/><rect x="157.30" y="637.98" width="30.00" height="6.02" fill="#b02224"/><rect x="187.25" y="637.98" width="30.00" height="6.02" fill="#300a0c"/><rect x="37.50" y="643.94" width="30.00" height="6.02" fill="#200a0a"/><rect x="67.45" y="643.94" width="30.00" height="6.02" fill="#b82426"/><rect x="97.40" y="643.94" width="30.00" height="6.02" fill="#c02626"/><rect x="127.35" y="643.94" width="30.00" height="6.02" fill="#b82426"/><rect x="157.30" y="643.94" width="30.00" height="6.02" fill="#b02224"/><rect x="187.25" y="643.94" width="30.00" height="6.02" fill="#b02224"/><rect x="37.50" y="649.91" width="30.00" height="6.02" fill="#5a1216"/><rect x="67.45" y="649.91" width="30.00" height="6.02" fill="#c02626"/><rect x="97.40" y="649.91" width="30.00" height="6.02" fill="#c02626"/><rect x="127.35" y="649.91" width="30.00" height="6.02" fill="#b82426"/><rect x="157.30" y="649.91" width="30.00" height="6.02" fill="#b02224"/><rect x="187.25" y="649.91" width="30.00" height="6.02" fill="#801a1c"/><rect x="37.50" y="655.88" width="30.00" height="6.02" fill="#501014"/><rect x="67.45" y="655.88" width="30.00" height="6.02" fill="#b82426"/><rect x="97.40" y="655.88" width="30.00" height="6.02" fill="#b82426"/><rect x="127.35" y="655.88" width="30.00" height="6.02" fill="#b02224"/><rect x="157.30" y="655.88" width="30.00" height="6.02" fill="#a82022"/><rect x="187.25" y="655.88" width="30.00" height="6.02" fill="#9a1e20"/><rect x="37.50" y="661.85" width="30.00" height="6.02" fill="#300c0e"/><rect x="67.45" y="661.85" width="30.00" height="6.02" fill="#a02022"/><rect x="97.40" y="661.85" width="30.00" height="6.02" fill="#a82224"/><rect x="127.35" y="661.85" width="30.00" height="6.02" fill="#a02022"/><rect x="157.30" y="661.85" width="30.00" height="6.02" fill="#982020"/><rect x="187.25" y="661.85" width="30.00" height="6.02" fill="#601216"/><rect x="37.50" y="667.82" width="30.00" height="6.02" fill="#3a7a2a"/><rect x="67.45" y="667.82" width="30.00" height="6.02" fill="#2a5a20"/><rect x="97.40" y="667.82" width="30.00" height="6.02" fill="#3a7a2a"/><rect x="127.35" y="667.82" width="30.00" height="6.02" fill="#3a7a2a"/><rect x="157.30" y="667.82" width="30.00" height="6.02" fill="#3a7a2a"/><rect x="187.25" y="667.82" width="30.00" height="6.02" fill="#4a9a34"/><rect x="37.50" y="673.78" width="30.00" height="6.02" fill="#2a5a20"/><rect x="67.45" y="673.78" width="30.00" height="6.02" fill="#4a9a34"/><rect x="97.40" y="673.78" width="30.00" height="6.02" fill="#52a438"/><rect x="127.35" y="673.78" width="30.00" height="6.02" fill="#4a9a34"/><rect x="157.30" y="673.78" width="30.00" height="6.02" fill="#4a9a34"/><rect x="187.25" y="673.78" width="30.00" height="6.02" fill="#56aa3a"/><rect x="37.50" y="679.75" width="30.00" height="6.02" fill="#3a1010"/><rect x="67.45" y="679.75" width="30.00" height="6.02" fill="#4a9a34"/><rect x="97.40" y="679.75" width="30.00" height="6.02" fill="#7acc44"/><rect x="127.35" y="679.75" width="30.00" height="6.02" fill="#3a8a2c"/><rect x="157.30" y="679.75" width="30.00" height="6.02" fill="#1a3a14"/><rect x="187.25" y="679.75" width="30.00" height="6.02" fill="#3a7a2a"/><rect x="37.50" y="685.72" width="30.00" height="6.02" fill="#501014"/><rect x="67.45" y="685.72" width="30.00" height="6.02" fill="#080404"/><rect x="97.40" y="685.72" width="30.00" height="6.02" fill="#0a0505"/><rect x="127.35" y="685.72" width="30.00" height="6.02" fill="#1a0808"/><rect x="157.30" y="685.72" width="30.00" height="6.02" fill="#200a0a"/><rect x="187.25" y="685.72" width="30.00" height="6.02" fill="#3a0c10"/><rect x="37.50" y="691.69" width="30.00" height="6.02" fill="#3a0e12"/><rect x="67.45" y="691.69" width="30.00" height="6.02" fill="#0c1a0a"/><rect x="97.40" y="691.69" width="30.00" height="6.02" fill="#14300f"/><rect x="127.35" y="691.69" width="30.00" height="6.02" fill="#0f200c"/><rect x="187.25" y="691.69" width="30.00" height="6.02" fill="#300c0e"/><rect x="37.50" y="697.66" width="30.00" height="6.02" fill="#300c10"/><rect x="67.45" y="697.66" width="30.00" height="6.02" fill="#060606"/><rect x="97.40" y="697.66" width="30.00" height="6.02" fill="#040404"/><rect x="127.35" y="697.66" width="30.00" height="6.02" fill="#0a0606"/><rect x="157.30" y="697.66" width="30.00" height="6.02" fill="#0c0606"/><rect x="187.25" y="697.66" width="30.00" height="6.02" fill="#200a0c"/><rect x="37.50" y="703.62" width="30.00" height="6.02" fill="#4a1014"/><rect x="67.45" y="703.62" width="30.00" height="6.02" fill="#0f200c"/><rect x="97.40" y="703.62" width="30.00" height="6.02" fill="#0c1a0a"/><rect x="127.35" y="703.62" width="30.00" height="6.02" fill="#100808"/><rect x="157.30" y="703.62" width="30.00" height="6.02" fill="#0c0808"/><rect x="187.25" y="703.62" width="30.00" height="6.02" fill="#2e7a28"/><rect x="37.50" y="709.59" width="30.00" height="6.02" fill="#3a0e12"/><rect x="67.45" y="709.59" width="30.00" height="6.02" fill="#1a3a14"/><rect x="97.40" y="709.59" width="30.00" height="6.02" fill="#2e7a28"/><rect x="127.35" y="709.59" width="30.00" height="6.02" fill="#14300f"/><rect x="157.30" y="709.59" width="30.00" height="6.02" fill="#0c1a0a"/><rect x="187.25" y="709.59" width="30.00" height="6.02" fill="#0c1a0a"/><rect x="37.50" y="715.56" width="30.00" height="6.02" fill="#1f4a18"/><rect x="67.45" y="715.56" width="30.00" height="6.02" fill="#1a3a14"/><rect x="97.40" y="715.56" width="30.00" height="6.02" fill="#1a3a14"/><rect x="127.35" y="715.56" width="30.00" height="6.02" fill="#14300f"/><rect x="157.30" y="715.56" width="30.00" height="6.02" fill="#0f200c"/><rect x="187.25" y="715.56" width="30.00" height="6.02" fill="#0c1a0a"/><rect x="37.50" y="721.53" width="30.00" height="6.02" fill="#0a0505"/><rect x="67.45" y="721.53" width="30.00" height="6.02" fill="#080505"/><rect x="97.40" y="721.53" width="30.00" height="6.02" fill="#080505"/><rect x="127.35" y="721.53" width="30.00" height="6.02" fill="#080505"/><rect x="157.30" y="721.53" width="30.00" height="6.02" fill="#080505"/><rect x="37.50" y="727.50" width="30.00" height="6.02" fill="#0c0606"/><rect x="67.45" y="727.50" width="30.00" height="6.02" fill="#080505"/><rect x="97.40" y="727.50" width="30.00" height="6.02" fill="#080505"/><rect x="127.35" y="727.50" width="30.00" height="6.02" fill="#080505"/><rect x="157.30" y="727.50" width="30.00" height="6.02" fill="#080505"/><rect x="187.25" y="727.50" width="30.00" height="6.02" fill="#081208"/><rect x="37.50" y="733.46" width="30.00" height="6.02" fill="#0a0505"/><rect x="67.45" y="733.46" width="30.00" height="6.02" fill="#060505"/><rect x="97.40" y="733.46" width="30.00" height="6.02" fill="#060505"/><rect x="127.35" y="733.46" width="30.00" height="6.02" fill="#060505"/><rect x="157.30" y="733.46" width="30.00" height="6.02" fill="#060505"/><rect x="97.40" y="739.43" width="30.00" height="6.02" fill="#0a140a"/><rect x="127.35" y="739.43" width="30.00" height="6.02" fill="#060606"/><rect x="187.25" y="745.40" width="30.00" height="6.02" fill="#1a0808"/><rect x="37.50" y="769.27" width="30.00" height="6.02" fill="#0a0a0a"/><rect x="37.50" y="775.24" width="30.00" height="6.02" fill="#0c140c"/><rect x="67.45" y="775.24" width="30.00" height="6.02" fill="#8a8a8a"/><rect x="97.40" y="775.24" width="30.00" height="6.02" fill="#8a8a8a"/><rect x="37.50" y="781.21" width="30.00" height="6.02" fill="#0a100a"/><rect x="37.50" y="787.18" width="30.00" height="6.02" fill="#050805"/><rect x="67.45" y="787.18" width="30.00" height="6.02" fill="#0a140a"/><rect x="97.40" y="787.18" width="30.00" height="6.02" fill="#0f200c"/><rect x="127.35" y="787.18" width="30.00" height="6.02" fill="#14280f"/><rect x="157.30" y="787.18" width="30.00" height="6.02" fill="#0f200c"/><rect x="37.50" y="793.14" width="30.00" height="6.02" fill="#0c180a"/><rect x="67.45" y="793.14" width="30.00" height="6.02" fill="#0c180a"/><rect x="97.40" y="793.14" width="30.00" height="6.02" fill="#0f200c"/><rect x="127.35" y="793.14" width="30.00" height="6.02" fill="#14280f"/><rect x="157.30" y="793.14" width="30.00" height="6.02" fill="#0f200c"/><rect x="37.50" y="799.11" width="30.00" height="6.02" fill="#0c180a"/><rect x="67.45" y="799.11" width="30.00" height="6.02" fill="#11240d"/><rect x="97.40" y="799.11" width="30.00" height="6.02" fill="#0f200c"/><rect x="127.35" y="799.11" width="30.00" height="6.02" fill="#11240d"/><rect x="157.30" y="799.11" width="30.00" height="6.02" fill="#0c180a"/><rect x="187.25" y="799.11" width="30.00" height="6.02" fill="#0c180a"/><rect x="37.50" y="805.08" width="30.00" height="6.02" fill="#0a140a"/><rect x="67.45" y="805.08" width="30.00" height="6.02" fill="#0a140a"/><rect x="97.40" y="805.08" width="30.00" height="6.02" fill="#0a140a"/><rect x="127.35" y="805.08" width="30.00" height="6.02" fill="#0c180a"/><rect x="157.30" y="805.08" width="30.00" height="6.02" fill="#0a140a"/><rect x="187.25" y="805.08" width="30.00" height="6.02" fill="#0f200c"/><rect x="37.50" y="811.05" width="30.00" height="6.02" fill="#0c0404"/><rect x="67.45" y="811.05" width="30.00" height="6.02" fill="#460e11"/><rect x="97.40" y="811.05" width="30.00" height="6.02" fill="#3e0c0f"/><rect x="127.35" y="811.05" width="30.00" height="6.02" fill="#390c0e"/><rect x="157.30" y="811.05" width="30.00" height="6.02" fill="#310a0c"/><rect x="187.25" y="811.05" width="30.00" height="6.02" fill="#2d090c"/><rect x="37.50" y="817.02" width="30.00" height="6.02" fill="#200709"/><rect x="67.45" y="817.02" width="30.00" height="6.02" fill="#2d090c"/><rect x="97.40" y="817.02" width="30.00" height="6.02" fill="#2d090c"/><rect x="127.35" y="817.02" width="30.00" height="6.02" fill="#2d090c"/><rect x="157.30" y="817.02" width="30.00" height="6.02" fill="#25090a"/><rect x="187.25" y="817.02" width="30.00" height="6.02" fill="#180606"/><rect x="37.50" y="822.98" width="30.00" height="6.02" fill="#180606"/><rect x="67.45" y="822.98" width="30.00" height="6.02" fill="#25090a"/><rect x="97.40" y="822.98" width="30.00" height="6.02" fill="#25090a"/><rect x="127.35" y="822.98" width="30.00" height="6.02" fill="#2d090c"/><rect x="157.30" y="822.98" width="30.00" height="6.02" fill="#200709"/><rect x="187.25" y="822.98" width="30.00" height="6.02" fill="#180606"/><rect x="37.50" y="828.95" width="30.00" height="6.02" fill="#200709"/><rect x="67.45" y="828.95" width="30.00" height="6.02" fill="#25090a"/><rect x="97.40" y="828.95" width="30.00" height="6.02" fill="#25090a"/><rect x="127.35" y="828.95" width="30.00" height="6.02" fill="#2d090c"/><rect x="157.30" y="828.95" width="30.00" height="6.02" fill="#25090a"/><rect x="187.25" y="828.95" width="30.00" height="6.02" fill="#140606"/><rect x="37.50" y="834.92" width="30.00" height="6.02" fill="#140606"/><rect x="67.45" y="834.92" width="30.00" height="6.02" fill="#180606"/><rect x="97.40" y="834.92" width="30.00" height="6.02" fill="#180606"/><rect x="127.35" y="834.92" width="30.00" height="6.02" fill="#25090a"/><rect x="157.30" y="834.92" width="30.00" height="6.02" fill="#200709"/><rect x="187.25" y="834.92" width="30.00" height="6.02" fill="#0c0404"/><rect x="37.50" y="840.89" width="30.00" height="6.02" fill="#140606"/><rect x="67.45" y="840.89" width="30.00" height="6.02" fill="#140606"/><rect x="97.40" y="840.89" width="30.00" height="6.02" fill="#180606"/><rect x="127.35" y="840.89" width="30.00" height="6.02" fill="#200709"/><rect x="157.30" y="840.89" width="30.00" height="6.02" fill="#180606"/><rect x="187.25" y="840.89" width="30.00" height="6.02" fill="#070404"/><rect x="37.50" y="846.86" width="30.00" height="6.02" fill="#070404"/><rect x="67.45" y="846.86" width="30.00" height="6.02" fill="#140606"/><rect x="97.40" y="846.86" width="30.00" height="6.02" fill="#180606"/><rect x="127.35" y="846.86" width="30.00" height="6.02" fill="#180606"/><rect x="157.30" y="846.86" width="30.00" height="6.02" fill="#140606"/><rect x="37.50" y="852.82" width="30.00" height="6.02" fill="#0c0404"/><rect x="67.45" y="852.82" width="30.00" height="6.02" fill="#180606"/><rect x="97.40" y="852.82" width="30.00" height="6.02" fill="#200709"/><rect x="127.35" y="852.82" width="30.00" height="6.02" fill="#200709"/><rect x="157.30" y="852.82" width="30.00" height="6.02" fill="#180606"/><rect x="187.25" y="852.82" width="30.00" height="6.02" fill="#060404"/><rect x="37.50" y="858.79" width="30.00" height="6.02" fill="#183912"/><rect x="67.45" y="858.79" width="30.00" height="6.02" fill="#200709"/><rect x="97.40" y="858.79" width="30.00" height="6.02" fill="#2d090c"/><rect x="127.35" y="858.79" width="30.00" height="6.02" fill="#25090a"/><rect x="157.30" y="858.79" width="30.00" height="6.02" fill="#180606"/><rect x="187.25" y="858.79" width="30.00" height="6.02" fill="#0f1f0b"/><rect x="37.50" y="864.76" width="30.00" height="6.02" fill="#070707"/><rect x="67.45" y="864.76" width="30.00" height="6.02" fill="#25090a"/><rect x="97.40" y="864.76" width="30.00" height="6.02" fill="#5a1216"/><rect x="127.35" y="864.76" width="30.00" height="6.02" fill="#3a0c10"/><rect x="157.30" y="864.76" width="30.00" height="6.02" fill="#180606"/><rect x="37.50" y="870.73" width="30.00" height="6.02" fill="#0c0404"/><rect x="67.45" y="870.73" width="30.00" height="6.02" fill="#2a0a0c"/><rect x="97.40" y="870.73" width="30.00" height="6.02" fill="#681416"/><rect x="127.35" y="870.73" width="30.00" height="6.02" fill="#781618"/><rect x="157.30" y="870.73" width="30.00" height="6.02" fill="#180606"/><rect x="187.25" y="870.73" width="30.00" height="6.02" fill="#070404"/></g>
<g font-family='"Liberation Mono",monospace' font-size="5.85" font-weight="bold" fill="#000"><text x="223.0" y="601.10" transform="rotate(0.03 223 601.10)">"Pbx3"</text><text x="223.0" y="607.08" transform="rotate(0.03 223 607.08)">"En1"</text><text x="223.0" y="613.06" transform="rotate(0.03 223 613.06)">"Klhl1"</text><text x="223.0" y="619.04" transform="rotate(0.03 223 619.04)">"Pbx3"</text><text x="223.0" y="625.02" transform="rotate(0.03 223 625.02)">"Otx2"</text><text x="223.0" y="631.00" transform="rotate(0.03 223 631.00)">"Dlk1"</text><text x="223.0" y="636.98" transform="rotate(0.03 223 636.98)">"Dlk1"</text><text x="223.0" y="642.96" transform="rotate(0.03 223 642.96)">"En2"</text><text x="223.0" y="648.94" transform="rotate(0.03 223 648.94)">"Nhlh1"</text><text x="223.0" y="654.92" transform="rotate(0.03 223 654.92)">"Foxa2"</text><text x="223.0" y="660.90" transform="rotate(0.03 223 660.90)">"Foxa1"</text><text x="223.0" y="666.88" transform="rotate(0.03 223 666.88)">"Nr4a2"</text><text x="223.0" y="672.86" transform="rotate(0.03 223 672.86)">"Taf13"</text><text x="223.0" y="678.84" transform="rotate(0.03 223 678.84)">"Nrip3"</text><text x="223.0" y="684.82" transform="rotate(0.03 223 684.82)">"Sox9"</text><text x="223.0" y="690.80" transform="rotate(0.03 223 690.80)">"Nr4a1"</text><text x="223.0" y="696.78" transform="rotate(0.03 223 696.78)">"Rreb1"</text><text x="223.0" y="702.76" transform="rotate(0.03 223 702.76)">"Tle1"</text><text x="223.0" y="708.74" transform="rotate(0.03 223 708.74)">"Foxb1"</text><text x="223.0" y="714.72" transform="rotate(0.03 223 714.72)">"Sox9"</text><text x="223.0" y="720.70" transform="rotate(0.03 223 720.70)">"Srfbp1"</text><text x="223.0" y="726.68" transform="rotate(0.03 223 726.68)">"Etv5"</text><text x="223.0" y="732.66" transform="rotate(0.03 223 732.66)">"Rreb1"</text><text x="223.0" y="738.64" transform="rotate(0.03 223 738.64)">"Rela"</text><text x="223.0" y="744.62" transform="rotate(0.03 223 744.62)">"Rreb1"</text><text x="223.0" y="750.60" transform="rotate(0.03 223 750.60)">"Relb"</text><text x="223.0" y="756.58" transform="rotate(0.03 223 756.58)">"Park2"</text><text x="223.0" y="762.56" transform="rotate(0.03 223 762.56)">"Ferd3l"</text><text x="223.0" y="768.54" transform="rotate(0.03 223 768.54)">"Sox9"</text><text x="223.0" y="774.52" transform="rotate(0.03 223 774.52)">"Lmx1b"</text><text x="223.0" y="780.50" transform="rotate(0.03 223 780.50)">"Rela"</text><text x="223.0" y="786.48" transform="rotate(0.03 223 786.48)">"Park2"</text><text x="223.0" y="792.46" transform="rotate(0.03 223 792.46)">"Arx"</text><text x="223.0" y="798.44" transform="rotate(0.03 223 798.44)">"Srfbp1"</text><text x="223.0" y="804.42" transform="rotate(0.03 223 804.42)">"Park2"</text><text x="223.0" y="810.40" transform="rotate(0.03 223 810.40)">"Rreb1"</text><text x="223.0" y="816.38" transform="rotate(0.03 223 816.38)">"Lmx1a"</text><text x="223.0" y="822.36" transform="rotate(0.03 223 822.36)">"Tle1"</text><text x="223.0" y="828.34" transform="rotate(0.03 223 828.34)">"Pou6f2"</text><text x="223.0" y="834.32" transform="rotate(0.03 223 834.32)">"Tle1"</text><text x="223.0" y="840.30" transform="rotate(0.03 223 840.30)">"Arx"</text><text x="223.0" y="846.28" transform="rotate(0.03 223 846.28)">"Pbx3"</text><text x="223.0" y="852.26" transform="rotate(0.03 223 852.26)">"Pbx3"</text><text x="223.0" y="858.24" transform="rotate(0.03 223 858.24)">"Nr4a2"</text><text x="223.0" y="864.22" transform="rotate(0.03 223 864.22)">"Pitx3"</text><text x="223.0" y="870.20" transform="rotate(0.03 223 870.20)">"Pbx3"</text><text x="223.0" y="876.18" transform="rotate(0.03 223 876.18)">"Nr4a2"</text></g>
<path d="M37.5 605.2 H35.5 V611.1 H37.5 M37.5 599.2 H34.2 V608.1 H35.5 M37.5 617.1 H35.8 V623.1 H37.5 M34.2 604.0 H33.2 V620.1 H35.8 M37.5 658.9 H36.0 V664.8 H37.5 M37.5 652.9 H35.2 V661.8 H36.0 M37.5 646.9 H34.4 V657.1 H35.2 M37.5 641.0 H33.0 V652.9 H34.4 M37.5 635.0 H30.4 V646.9 H33.0 M37.5 629.0 H27.0 V641.0 H30.4 M33.2 611.7 H23.3 V635.0 H27.0 M37.5 670.8 H34.9 V679.8 H37.5 M37.5 688.7 H35.8 V694.7 H37.5 M37.5 700.6 H35.2 V706.6 H37.5 M35.8 691.7 H25.5 V703.6 H35.2 M37.5 712.6 H36.0 V718.5 H37.5 M25.5 697.7 H24.0 V715.6 H36.0 M34.9 675.6 H19.6 V772.3 H22.4 M23.3 623.1 H13.3 V727.5 H19.6 M24.0 706.6 H22.4 V831.9 H29.9 M37.5 724.5 H35.3 V730.5 H37.5 M37.5 730.5 H34.4 V736.4 H37.5 M37.5 736.4 H36.2 V742.4 H37.5 M37.5 742.4 H35.3 V748.4 H37.5 M37.5 748.4 H34.4 V754.4 H37.5 M37.5 754.4 H36.2 V760.3 H37.5 M37.5 760.3 H35.3 V766.3 H37.5 M37.5 766.3 H34.4 V772.3 H37.5 M37.5 772.3 H36.2 V778.2 H37.5 M37.5 778.2 H35.3 V784.2 H37.5 M37.5 784.2 H34.4 V790.2 H37.5 M37.5 790.2 H36.2 V796.1 H37.5 M37.5 796.1 H35.3 V802.1 H37.5 M37.5 802.1 H34.4 V808.1 H37.5 M34.0 730.5 H29.5 V802.1 H34.0 M35.0 736.4 H31.0 V766.3 H35.0 M35.0 748.4 H32.5 V790.2 H35.0 M35.5 772.3 H33.5 V799.1 H35.5 M31.5 814.0 H29.9 V867.7 H31.5 M37.5 814.0 H31.5 V823.0 H33.0 M33.5 831.9 H31.5 V867.7 H35.0 M37.5 820.0 H34.4 V826.0 H37.5 M37.5 826.0 H36.2 V831.9 H37.5 M37.5 831.9 H35.3 V837.9 H37.5 M37.5 837.9 H34.4 V843.9 H37.5 M37.5 843.9 H36.2 V849.8 H37.5 M37.5 849.8 H35.3 V855.8 H37.5 M37.5 855.8 H34.4 V861.8 H37.5 M37.5 861.8 H36.2 V867.7 H37.5 M37.5 867.7 H35.3 V873.7 H37.5 M35.0 823.0 H33.0 V849.8 H35.0 M35.5 837.9 H34.0 V858.8 H35.5 M37.5 861.8 H35.0 V873.7 H37.5" fill="none" stroke="#4a4a8c" stroke-width="0.7"/>
<text x="23.60" y="888.40" font-size="8.9" fill="#111">R=</text>
<text x="45.20" y="888.40" font-size="8.9" fill="#111">0.67</text>
<text x="74.40" y="888.40" font-size="8.9" fill="#111">0.86</text>
<text x="104.20" y="888.40" font-size="8.9" fill="#111">0.82</text>
<text x="136.60" y="888.40" font-size="8.9" fill="#111">0.86</text>
<text x="165.00" y="888.40" font-size="8.9" fill="#111">0.84</text>
<text x="124.80" y="899.80" font-size="9.2" fill="#111">(correlation rel. to mdDA.iPSCs)</text>
</g>
<g id="panelE">
<text x="335.20" y="219.20" font-size="13" font-weight="bold" stroke="#000" stroke-width="0.35">E</text>
<text x="490.80" y="229.40" font-size="11.4" font-weight="bold" text-anchor="middle">GO analysis of genes with reduced expression</text>
<text x="492.80" y="243.60" font-size="11.4" font-weight="bold" text-anchor="middle">in mdDA.iPSCs</text>
<text x="567.50" y="260.60" font-size="8.2" font-weight="bold" text-anchor="middle" fill="#d42020">number of genes</text>
<g stroke="#666" stroke-width="0.7" fill="none"><path d="M477.5 275.2 H633"/><path d="M477.5 275.2 v-2.6"/><path d="M496.9 275.2 v-2.6"/><path d="M516.3 275.2 v-2.6"/><path d="M535.8 275.2 v-2.6"/><path d="M555.2 275.2 v-2.6"/><path d="M574.6 275.2 v-2.6"/><path d="M594.0 275.2 v-2.6"/><path d="M613.4 275.2 v-2.6"/><path d="M632.9 275.2 v-2.6"/><path d="M477.5 275.2 V579.4 H633"/><path d="M477.5 579.4 v2.2"/><path d="M508.5 579.4 v2.2"/><path d="M539.5 579.4 v2.2"/><path d="M570.5 579.4 v2.2"/><path d="M601.5 579.4 v2.2"/><path d="M632.5 579.4 v2.2"/></g>
<g font-size="6.9" font-weight="bold" text-anchor="middle" fill="#111"><text x="477.8" y="270.6">0</text><text x="497.2" y="270.6">20</text><text x="516.6" y="270.6">40</text><text x="536.1" y="270.6">60</text><text x="555.5" y="270.6">80</text><text x="574.9" y="270.6">100</text><text x="594.3" y="270.6">120</text><text x="613.7" y="270.6">140</text><text x="633.2" y="270.6">160</text></g>
<g font-size="5.65" font-weight="bold" text-anchor="middle" fill="#111"><text x="481.4" y="587.3">0.00E+00</text><text x="512.5" y="587.3">5.00E-05</text><text x="543.6" y="587.3">1.00E-04</text><text x="574.6" y="587.3">1.50E-04</text><text x="605.7" y="587.3">2.00E-04</text><text x="636.8" y="587.3">2.50E-04</text></g>
<text x="559.80" y="598.60" font-size="8.2" font-weight="bold" text-anchor="middle" fill="#2222c8">p-value</text>
<g fill="#4a5cf0"><rect x="477.8" y="275.65" width="132.4" height="4.9"/><rect x="477.8" y="282.42" width="131.4" height="4.9"/><rect x="477.8" y="289.19" width="121.7" height="4.9"/><rect x="477.8" y="295.95" width="113.0" height="4.9"/><rect x="477.8" y="302.72" width="94.7" height="4.9"/><rect x="477.8" y="309.49" width="91.8" height="4.9"/><rect x="477.8" y="316.26" width="91.8" height="4.9"/><rect x="477.8" y="323.03" width="80.2" height="4.9"/><rect x="477.8" y="329.79" width="67.6" height="4.9"/><rect x="477.8" y="336.56" width="64.2" height="4.9"/><rect x="477.8" y="343.33" width="54.1" height="4.9"/><rect x="477.8" y="350.10" width="51.2" height="4.9"/><rect x="477.8" y="356.87" width="44.1" height="4.9"/><rect x="477.8" y="363.63" width="42.7" height="4.9"/><rect x="477.8" y="370.40" width="38.0" height="4.9"/><rect x="477.8" y="377.17" width="33.8" height="4.9"/><rect x="477.8" y="383.94" width="33.3" height="4.9"/><rect x="477.8" y="390.71" width="23.4" height="4.9"/><rect x="477.8" y="397.47" width="17.3" height="4.9"/><rect x="477.8" y="404.24" width="11.9" height="4.9"/><rect x="477.8" y="411.01" width="7.1" height="4.9"/><rect x="477.8" y="417.78" width="6.9" height="4.9"/><rect x="477.8" y="424.55" width="3.6" height="4.9"/><rect x="477.8" y="431.31" width="1.7" height="4.9"/><rect x="477.8" y="438.08" width="2.1" height="4.9"/><rect x="477.8" y="444.85" width="1.7" height="4.9"/><rect x="477.8" y="451.62" width="1.7" height="4.9"/></g>
<g fill="#d62020"><rect x="477.8" y="276.65" width="5.0" height="2.9"/><rect x="477.8" y="283.42" width="7.0" height="2.9"/><rect x="477.8" y="290.19" width="16.0" height="2.9"/><rect x="477.8" y="296.95" width="9.0" height="2.9"/><rect x="477.8" y="303.72" width="17.4" height="2.9"/><rect x="477.8" y="310.49" width="2.0" height="2.9"/><rect x="477.8" y="317.26" width="2.0" height="2.9"/><rect x="477.8" y="324.03" width="10.0" height="2.9"/><rect x="477.8" y="330.79" width="12.7" height="2.9"/><rect x="477.8" y="337.56" width="106.6" height="2.9"/><rect x="477.8" y="344.33" width="6.6" height="2.9"/><rect x="477.8" y="351.10" width="5.0" height="2.9"/><rect x="477.8" y="357.87" width="11.9" height="2.9"/><rect x="477.8" y="364.63" width="14.7" height="2.9"/><rect x="477.8" y="371.40" width="28.5" height="2.9"/><rect x="477.8" y="378.17" width="11.9" height="2.9"/><rect x="477.8" y="384.94" width="14.1" height="2.9"/><rect x="477.8" y="391.71" width="15.2" height="2.9"/><rect x="477.8" y="398.47" width="38.8" height="2.9"/><rect x="477.8" y="405.24" width="14.1" height="2.9"/><rect x="477.8" y="412.01" width="133.8" height="2.9"/><rect x="477.8" y="418.78" width="11.4" height="2.9"/><rect x="477.8" y="425.55" width="45.1" height="2.9"/><rect x="477.8" y="432.31" width="13.3" height="2.9"/><rect x="477.8" y="439.08" width="11.4" height="2.9"/><rect x="477.8" y="445.85" width="12.5" height="2.9"/><rect x="477.8" y="452.62" width="13.3" height="2.9"/><rect x="477.8" y="459.39" width="17.4" height="2.9"/><rect x="477.8" y="466.15" width="15.5" height="2.9"/><rect x="477.8" y="472.92" width="16.3" height="2.9"/><rect x="477.8" y="479.69" width="86.1" height="2.9"/><rect x="477.8" y="486.46" width="48.5" height="2.9"/><rect x="477.8" y="493.23" width="14.1" height="2.9"/><rect x="477.8" y="499.99" width="20.2" height="2.9"/><rect x="477.8" y="506.76" width="20.2" height="2.9"/><rect x="477.8" y="513.53" width="48.5" height="2.9"/><rect x="477.8" y="520.30" width="29.1" height="2.9"/><rect x="477.8" y="527.07" width="59.8" height="2.9"/><rect x="477.8" y="533.83" width="57.0" height="2.9"/><rect x="477.8" y="540.60" width="70.6" height="2.9"/><rect x="477.8" y="547.37" width="69.0" height="2.9"/><rect x="477.8" y="554.14" width="26.3" height="2.9"/><rect x="477.8" y="560.91" width="31.0" height="2.9"/><rect x="477.8" y="567.67" width="32.0" height="2.9"/><rect x="477.8" y="574.44" width="43.3" height="2.9"/></g>
<g font-size="6.8" font-weight="bold" text-anchor="end" fill="#111" word-spacing="0.22"><text x="474.4" y="280.45" transform="rotate(0.03 474.4 280.45)">neurotransmitter secretion</text><text x="474.4" y="287.22" transform="rotate(0.03 474.4 287.22)">central nervous system neuron differentiation</text><text x="474.4" y="293.99" transform="rotate(0.03 474.4 293.99)">behavior</text><text x="474.4" y="300.75" transform="rotate(0.03 474.4 300.75)">regulation of synaptic transmission</text><text x="474.4" y="307.52" transform="rotate(0.03 474.4 307.52)">cell communication</text><text x="474.4" y="314.29" transform="rotate(0.03 474.4 314.29)">regulation of synapse structural plasticity</text><text x="474.4" y="321.06" transform="rotate(0.03 474.4 321.06)">radial glia guided migration of Purkinje cell</text><text x="474.4" y="327.83" transform="rotate(0.03 474.4 327.83)">regulation of neurological system process</text><text x="474.4" y="334.59" transform="rotate(0.03 474.4 334.59)">transmission of nerve impulse</text><text x="474.4" y="341.36" transform="rotate(0.03 474.4 341.36)">biological regulation</text><text x="474.4" y="348.13" transform="rotate(0.03 474.4 348.13)">telencephalon development</text><text x="474.4" y="354.90" transform="rotate(0.03 474.4 354.90)">limbic system development</text><text x="474.4" y="361.67" transform="rotate(0.03 474.4 361.67)">cell morphogenesis involved in differentiation</text><text x="474.4" y="368.43" transform="rotate(0.03 474.4 368.43)">cellular component morphogenesis</text><text x="474.4" y="375.20" transform="rotate(0.03 474.4 375.20)">regulation of multicellular organismal process</text><text x="474.4" y="381.97" transform="rotate(0.03 474.4 381.97)">synaptic transmission</text><text x="474.4" y="388.74" transform="rotate(0.03 474.4 388.74)">cell-cell signaling</text><text x="474.4" y="395.51" transform="rotate(0.03 474.4 395.51)">cellular component movement</text><text x="474.4" y="402.27" transform="rotate(0.03 474.4 402.27)">organ development</text><text x="474.4" y="409.04" transform="rotate(0.03 474.4 409.04)">cell morphogenesis</text><text x="474.4" y="415.81" transform="rotate(0.03 474.4 415.81)">cellular process</text><text x="474.4" y="422.58" transform="rotate(0.03 474.4 422.58)">morphogenesis involved in neuron differentiation</text><text x="474.4" y="429.35" transform="rotate(0.03 474.4 429.35)">cellular component organization</text><text x="474.4" y="436.11" transform="rotate(0.03 474.4 436.11)">cell part morphogenesis</text><text x="474.4" y="442.88" transform="rotate(0.03 474.4 442.88)">axonogenesis</text><text x="474.4" y="449.65" transform="rotate(0.03 474.4 449.65)">neuron projection morphogenesis</text><text x="474.4" y="456.42" transform="rotate(0.03 474.4 456.42)">cell projection morphogenesis</text><text x="474.4" y="463.19" transform="rotate(0.03 474.4 463.19)">cell projection organization</text><text x="474.4" y="469.95" transform="rotate(0.03 474.4 469.95)">neuron projection development</text><text x="474.4" y="476.72" transform="rotate(0.03 474.4 476.72)">brain development</text><text x="474.4" y="483.49" transform="rotate(0.03 474.4 483.49)">multicellular organismal process</text><text x="474.4" y="490.26" transform="rotate(0.03 474.4 490.26)">cellular developmental process</text><text x="474.4" y="497.03" transform="rotate(0.03 474.4 497.03)">forebrain development</text><text x="474.4" y="503.79" transform="rotate(0.03 474.4 503.79)">central nervous system development</text><text x="474.4" y="510.56" transform="rotate(0.03 474.4 510.56)">neuron development</text><text x="474.4" y="517.33" transform="rotate(0.03 474.4 517.33)">cell differentiation</text><text x="474.4" y="524.10" transform="rotate(0.03 474.4 524.10)">cell development</text><text x="474.4" y="530.87" transform="rotate(0.03 474.4 530.87)">anatomical structure development</text><text x="474.4" y="537.63" transform="rotate(0.03 474.4 537.63)">system development</text><text x="474.4" y="544.40" transform="rotate(0.03 474.4 544.40)">developmental process</text><text x="474.4" y="551.17" transform="rotate(0.03 474.4 551.17)">multicellular organismal development</text><text x="474.4" y="557.94" transform="rotate(0.03 474.4 557.94)">neuron differentiation</text><text x="474.4" y="564.71" transform="rotate(0.03 474.4 564.71)">generation of neurons</text><text x="474.4" y="571.47" transform="rotate(0.03 474.4 571.47)">neurogenesis</text><text x="474.4" y="578.24" transform="rotate(0.03 474.4 578.24)">nervous system development</text></g>
</g>
<g id="panelF">
<text x="291.60" y="641.00" font-size="13" font-weight="bold" stroke="#000" stroke-width="0.35">F</text>
<text x="382.00" y="669.60" font-size="12.25" font-weight="bold" text-anchor="middle">fibroblast specific subset</text>
<text x="567.40" y="667.80" font-size="10.75" font-weight="bold" text-anchor="middle">pluripotency markers</text>
<g stroke="#888" stroke-width="0.6" fill="none"><path d="M311.3 698.0 V779.3"/><path d="M311.3 779.3 h-4.4"/><path d="M311.3 759.0 h-4.4"/><path d="M311.3 738.6 h-4.4"/><path d="M311.3 718.3 h-4.4"/><path d="M311.3 698.0 h-4.4"/></g>
<text x="300.80" y="779.30" font-size="8.2" text-anchor="middle" fill="#222" transform="rotate(-90 300.80 779.30)">0.0</text>
<text x="300.80" y="758.97" font-size="8.2" text-anchor="middle" fill="#222" transform="rotate(-90 300.80 758.97)">0.1</text>
<text x="300.80" y="738.65" font-size="8.2" text-anchor="middle" fill="#222" transform="rotate(-90 300.80 738.65)">0.2</text>
<text x="300.80" y="718.33" font-size="8.2" text-anchor="middle" fill="#222" transform="rotate(-90 300.80 718.33)">0.3</text>
<text x="300.80" y="698.00" font-size="8.2" text-anchor="middle" fill="#222" transform="rotate(-90 300.80 698.00)">0.4</text>
<text x="282.40" y="742.15" font-size="7.7" text-anchor="middle" fill="#222" transform="rotate(-90 282.40 742.15)">distance</text>
<path d="M327.6 779.3 V688.7 H369.7 V703.3 M349.6 779.3 V703.3 H390.2 V744.3 M371.2 779.3 V744.3 H408.7 V761.2 M392.6 779.3 V761.2 H425.2 V773.2 M414.5 779.3 V773.2 H435.8 V779.3" fill="none" stroke="#5cb82e" stroke-width="1.05" stroke-linejoin="miter"/>
<text x="330.30" y="784.50" font-size="7.4" text-anchor="end" fill="#222" transform="rotate(-90 330.30 784.50)">mdDA.iPSC</text>
<text x="352.30" y="784.50" font-size="7.4" text-anchor="end" fill="#222" transform="rotate(-90 352.30 784.50)">P0</text>
<text x="373.90" y="784.50" font-size="7.4" text-anchor="end" fill="#222" transform="rotate(-90 373.90 784.50)">E15.5</text>
<text x="395.30" y="784.50" font-size="7.4" text-anchor="end" fill="#222" transform="rotate(-90 395.30 784.50)">E12.5</text>
<text x="417.20" y="784.50" font-size="7.4" text-anchor="end" fill="#222" transform="rotate(-90 417.20 784.50)">E13.5</text>
<text x="438.50" y="784.50" font-size="7.4" text-anchor="end" fill="#222" transform="rotate(-90 438.50 784.50)">E14.5</text>
<g stroke="#888" stroke-width="0.6" fill="none"><path d="M498.9 682.9 V782.3"/><path d="M498.9 782.3 h-4.4"/><path d="M498.9 762.4 h-4.4"/><path d="M498.9 742.5 h-4.4"/><path d="M498.9 722.7 h-4.4"/><path d="M498.9 702.8 h-4.4"/><path d="M498.9 682.9 h-4.4"/></g>
<text x="490.60" y="782.30" font-size="8.2" text-anchor="middle" fill="#222" transform="rotate(-90 490.60 782.30)">0.0</text>
<text x="490.60" y="762.42" font-size="8.2" text-anchor="middle" fill="#222" transform="rotate(-90 490.60 762.42)">0.1</text>
<text x="490.60" y="742.54" font-size="8.2" text-anchor="middle" fill="#222" transform="rotate(-90 490.60 742.54)">0.2</text>
<text x="490.60" y="722.66" font-size="8.2" text-anchor="middle" fill="#222" transform="rotate(-90 490.60 722.66)">0.3</text>
<text x="490.60" y="702.78" font-size="8.2" text-anchor="middle" fill="#222" transform="rotate(-90 490.60 702.78)">0.4</text>
<text x="490.60" y="682.90" font-size="8.2" text-anchor="middle" fill="#222" transform="rotate(-90 490.60 682.90)">0.5</text>
<text x="472.30" y="736.10" font-size="7.7" text-anchor="middle" fill="#222" transform="rotate(-90 472.30 736.10)">distance</text>
<path d="M514.4 782.3 V686.4 H555.3 V718.5 M535.7 782.3 V718.5 H574.9 V766.5 M556.5 782.3 V766.5 H593.6 V773.9 M577.5 782.3 V773.9 H609.1 V778.9 M598.6 782.3 V778.9 H619.6 V782.3" fill="none" stroke="#5cb82e" stroke-width="1.05" stroke-linejoin="miter"/>
<text x="517.10" y="787.50" font-size="7.4" text-anchor="end" fill="#222" transform="rotate(-90 517.10 787.50)">P0</text>
<text x="538.40" y="787.50" font-size="7.4" text-anchor="end" fill="#222" transform="rotate(-90 538.40 787.50)">mdDA.iPSC</text>
<text x="559.20" y="787.50" font-size="7.4" text-anchor="end" fill="#222" transform="rotate(-90 559.20 787.50)">E15.5</text>
<text x="580.20" y="787.50" font-size="7.4" text-anchor="end" fill="#222" transform="rotate(-90 580.20 787.50)">E12.5</text>
<text x="601.30" y="787.50" font-size="7.4" text-anchor="end" fill="#222" transform="rotate(-90 601.30 787.50)">E13.5</text>
<text x="622.30" y="787.50" font-size="7.4" text-anchor="end" fill="#222" transform="rotate(-90 622.30 787.50)">E14.5</text>
</g>
</svg>
</body></html>
